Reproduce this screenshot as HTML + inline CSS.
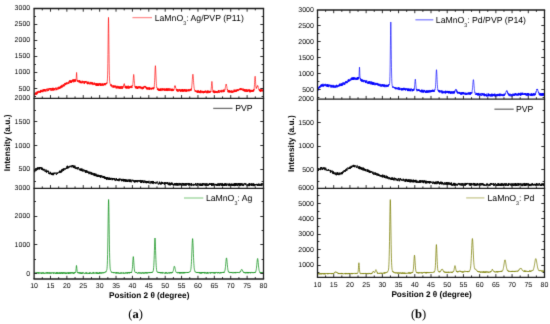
<!DOCTYPE html>
<html><head><meta charset="utf-8"><title>XRD patterns</title>
<style>html,body{margin:0;padding:0;background:#fff;width:550px;height:324px;overflow:hidden}svg{display:block}</style>
</head><body>
<svg width="550" height="324" viewBox="0 0 550 324"><defs><filter id="soft" x="0" y="0" width="1" height="1" color-interpolation-filters="sRGB"><feConvolveMatrix order="3" kernelMatrix="0.0100 0.0800 0.0100 0.0800 0.6400 0.0800 0.0100 0.0800 0.0100" edgeMode="duplicate" preserveAlpha="true"/></filter></defs><rect width="550" height="324" fill="#fff"/><g filter="url(#soft)" text-rendering="geometricPrecision"><rect width="550" height="324" fill="#fff"/><path d="M34.40,94.67 L34.52,94.13 L34.64,95.50 L34.76,93.63 L34.88,94.88 L35.00,94.23 L35.12,93.17 L35.24,94.38 L35.36,92.83 L35.48,93.89 L35.60,92.67 L35.72,92.62 L35.84,93.50 L35.96,94.61 L36.08,92.41 L36.20,92.62 L36.32,93.74 L36.44,94.62 L36.56,93.43 L36.68,92.81 L36.80,94.47 L36.92,91.60 L37.04,93.97 L37.16,92.19 L37.28,91.69 L37.40,91.54 L37.52,92.05 L37.64,93.51 L37.76,91.54 L37.88,92.68 L38.00,92.80 L38.12,91.94 L38.24,92.41 L38.36,90.91 L38.48,90.84 L38.60,91.23 L38.72,92.60 L38.84,91.79 L38.96,91.40 L39.08,92.17 L39.20,91.72 L39.32,91.22 L39.44,92.65 L39.56,92.32 L39.68,90.91 L39.80,91.85 L39.92,91.66 L40.04,92.67 L40.16,92.19 L40.28,90.82 L40.40,92.85 L40.52,90.23 L40.64,91.09 L40.76,92.06 L40.88,90.21 L41.00,91.18 L41.12,89.80 L41.24,91.65 L41.36,91.90 L41.48,91.29 L41.60,92.16 L41.72,90.44 L41.84,91.55 L41.96,91.22 L42.08,91.14 L42.20,90.74 L42.32,91.86 L42.44,92.14 L42.56,90.70 L42.68,91.24 L42.80,89.40 L42.92,91.30 L43.04,91.11 L43.16,92.12 L43.28,91.58 L43.40,89.94 L43.52,90.22 L43.64,91.04 L43.76,89.08 L43.88,90.37 L44.00,89.47 L44.12,89.29 L44.24,89.10 L44.36,91.20 L44.48,89.26 L44.60,89.59 L44.72,90.00 L44.84,91.42 L44.96,89.03 L45.08,90.11 L45.20,90.39 L45.32,91.37 L45.44,91.16 L45.56,91.27 L45.68,89.50 L45.80,89.89 L45.92,89.70 L46.04,91.26 L46.16,91.46 L46.28,89.02 L46.40,89.08 L46.52,89.23 L46.64,89.21 L46.76,89.95 L46.88,90.24 L47.00,89.25 L47.12,88.45 L47.24,89.68 L47.36,89.51 L47.48,90.09 L47.60,91.23 L47.72,90.42 L47.84,89.88 L47.96,90.17 L48.08,90.33 L48.20,88.45 L48.32,90.96 L48.44,90.59 L48.56,90.85 L48.68,90.61 L48.80,89.37 L48.92,89.38 L49.04,88.48 L49.16,90.05 L49.28,88.32 L49.40,88.32 L49.52,88.73 L49.64,88.58 L49.76,89.09 L49.88,88.22 L50.00,88.05 L50.12,88.49 L50.24,88.32 L50.36,89.10 L50.48,88.07 L50.60,90.60 L50.72,89.81 L50.84,88.40 L50.96,88.70 L51.08,88.97 L51.20,89.01 L51.32,88.28 L51.44,90.44 L51.56,90.86 L51.68,89.27 L51.80,89.31 L51.92,88.11 L52.04,88.15 L52.16,88.86 L52.28,88.61 L52.40,90.29 L52.52,88.28 L52.64,87.85 L52.76,90.62 L52.88,89.34 L53.00,88.19 L53.12,89.36 L53.24,87.80 L53.36,89.29 L53.48,90.63 L53.60,90.27 L53.72,89.75 L53.84,88.44 L53.96,88.74 L54.08,88.13 L54.20,89.92 L54.32,89.19 L54.44,89.91 L54.56,88.55 L54.68,88.22 L54.80,89.96 L54.92,90.46 L55.04,90.05 L55.16,89.89 L55.28,89.91 L55.40,89.66 L55.52,88.10 L55.64,88.95 L55.76,88.45 L55.88,87.45 L56.00,87.42 L56.12,88.15 L56.24,88.07 L56.36,89.34 L56.48,90.10 L56.60,88.55 L56.72,89.99 L56.84,90.11 L56.96,89.97 L57.08,88.17 L57.20,87.70 L57.32,87.68 L57.44,87.55 L57.56,87.53 L57.68,88.74 L57.80,89.53 L57.92,89.30 L58.04,88.17 L58.16,88.64 L58.28,89.03 L58.40,86.84 L58.52,88.51 L58.64,89.20 L58.76,88.76 L58.88,88.61 L59.00,87.74 L59.12,86.78 L59.24,88.55 L59.36,87.12 L59.48,88.47 L59.60,88.92 L59.72,87.13 L59.84,87.08 L59.96,88.65 L60.08,87.92 L60.20,86.20 L60.32,86.00 L60.44,86.01 L60.56,88.20 L60.68,87.84 L60.80,85.79 L60.92,87.76 L61.04,88.15 L61.16,87.12 L61.28,86.13 L61.40,86.66 L61.52,85.34 L61.64,84.92 L61.76,87.72 L61.88,86.69 L62.00,86.25 L62.12,87.40 L62.24,85.84 L62.36,87.08 L62.48,86.88 L62.60,84.97 L62.72,85.02 L62.84,85.08 L62.96,84.86 L63.08,85.83 L63.20,84.79 L63.32,85.20 L63.44,84.27 L63.56,86.54 L63.68,84.82 L63.80,85.06 L63.92,85.37 L64.04,86.27 L64.16,84.75 L64.28,86.17 L64.40,84.85 L64.52,84.87 L64.64,84.77 L64.76,83.19 L64.88,84.37 L65.00,83.53 L65.12,82.91 L65.24,85.22 L65.36,83.26 L65.48,84.09 L65.60,84.76 L65.72,84.18 L65.84,83.41 L65.96,83.90 L66.08,83.94 L66.20,84.54 L66.32,82.43 L66.44,83.71 L66.56,82.70 L66.68,82.71 L66.80,84.12 L66.92,83.25 L67.04,83.33 L67.16,83.85 L67.28,84.23 L67.40,82.76 L67.52,83.19 L67.64,82.80 L67.76,82.75 L67.88,83.23 L68.00,82.44 L68.12,82.62 L68.24,82.39 L68.36,83.72 L68.48,82.93 L68.60,83.40 L68.72,83.55 L68.84,81.45 L68.96,82.30 L69.08,83.40 L69.20,83.04 L69.32,80.90 L69.44,80.81 L69.56,81.73 L69.68,80.59 L69.80,81.06 L69.92,80.52 L70.04,82.26 L70.16,82.57 L70.28,82.87 L70.40,80.62 L70.52,82.26 L70.64,82.06 L70.76,80.48 L70.88,82.65 L71.00,82.87 L71.12,80.60 L71.24,82.75 L71.36,81.07 L71.48,81.30 L71.60,82.76 L71.72,82.26 L71.84,80.23 L71.96,81.00 L72.08,81.22 L72.20,80.67 L72.32,80.21 L72.44,80.55 L72.56,81.72 L72.68,79.60 L72.80,81.16 L72.92,80.80 L73.04,79.52 L73.16,80.43 L73.28,81.27 L73.40,80.91 L73.52,79.57 L73.64,82.26 L73.76,81.66 L73.88,82.18 L74.00,79.61 L74.12,80.06 L74.24,79.38 L74.36,81.53 L74.48,80.03 L74.60,79.60 L74.72,80.44 L74.84,81.84 L74.96,81.55 L75.08,79.92 L75.20,79.60 L75.32,81.74 L75.44,80.73 L75.56,81.05 L75.68,79.36 L75.80,79.24 L75.92,80.61 L76.04,79.55 L76.16,78.08 L76.28,77.50 L76.40,75.01 L76.52,73.29 L76.60,72.45 L76.64,73.03 L76.76,74.03 L76.88,76.90 L77.00,78.46 L77.12,79.52 L77.24,80.62 L77.36,81.91 L77.48,80.41 L77.60,80.13 L77.72,81.30 L77.84,80.56 L77.96,80.26 L78.08,80.45 L78.20,80.17 L78.32,80.64 L78.44,80.99 L78.56,81.00 L78.68,82.35 L78.80,81.01 L78.92,81.65 L79.04,80.73 L79.16,81.25 L79.28,80.30 L79.40,81.01 L79.52,80.34 L79.64,82.48 L79.76,81.96 L79.88,80.91 L80.00,81.77 L80.12,83.15 L80.24,80.72 L80.36,82.85 L80.48,81.72 L80.60,81.92 L80.72,82.95 L80.84,81.65 L80.96,82.01 L81.08,82.56 L81.20,83.45 L81.32,81.56 L81.44,83.04 L81.56,82.68 L81.68,82.48 L81.80,81.81 L81.92,81.65 L82.04,80.79 L82.16,81.03 L82.28,80.87 L82.40,82.88 L82.52,81.45 L82.64,81.19 L82.76,80.96 L82.88,83.23 L83.00,83.33 L83.12,82.75 L83.24,81.61 L83.36,81.50 L83.48,81.67 L83.60,82.18 L83.72,81.29 L83.84,82.16 L83.96,81.63 L84.08,83.73 L84.20,83.77 L84.32,82.52 L84.44,81.63 L84.56,83.80 L84.68,81.86 L84.80,82.01 L84.92,80.97 L85.04,82.12 L85.16,82.41 L85.28,82.51 L85.40,81.62 L85.52,82.55 L85.64,81.07 L85.76,81.86 L85.88,81.36 L86.00,82.30 L86.12,81.25 L86.24,81.21 L86.36,82.07 L86.48,81.87 L86.60,82.94 L86.72,82.79 L86.84,83.47 L86.96,83.21 L87.08,83.40 L87.20,83.91 L87.32,82.47 L87.44,82.29 L87.56,84.27 L87.68,81.80 L87.80,83.53 L87.92,83.31 L88.04,81.54 L88.16,83.92 L88.28,84.11 L88.40,83.34 L88.52,83.67 L88.64,83.92 L88.76,81.94 L88.88,83.10 L89.00,83.06 L89.12,84.06 L89.24,83.99 L89.36,84.08 L89.48,83.37 L89.60,84.31 L89.72,83.71 L89.84,83.76 L89.96,82.40 L90.08,81.83 L90.20,82.15 L90.32,82.84 L90.44,82.10 L90.56,84.30 L90.68,83.49 L90.80,83.72 L90.92,83.73 L91.04,83.91 L91.16,83.37 L91.28,81.94 L91.40,84.32 L91.52,84.20 L91.64,83.49 L91.76,83.60 L91.88,83.99 L92.00,82.25 L92.12,84.26 L92.24,82.85 L92.36,82.34 L92.48,82.93 L92.60,84.33 L92.72,82.79 L92.84,84.40 L92.96,85.12 L93.08,83.72 L93.20,83.41 L93.32,83.72 L93.44,84.35 L93.56,84.62 L93.68,84.20 L93.80,84.31 L93.92,82.66 L94.04,82.90 L94.16,83.25 L94.28,84.73 L94.40,83.47 L94.52,84.28 L94.64,82.67 L94.76,82.85 L94.88,83.50 L95.00,84.72 L95.12,84.81 L95.24,84.80 L95.36,83.69 L95.48,84.39 L95.60,84.27 L95.72,84.30 L95.84,83.30 L95.96,85.61 L96.08,83.59 L96.20,85.90 L96.32,85.79 L96.44,83.11 L96.56,84.42 L96.68,85.49 L96.80,85.93 L96.92,84.41 L97.04,83.88 L97.16,83.70 L97.28,85.86 L97.40,83.71 L97.52,84.79 L97.64,83.50 L97.76,84.62 L97.88,85.88 L98.00,83.47 L98.12,85.49 L98.24,84.57 L98.36,85.68 L98.48,85.14 L98.60,83.76 L98.72,85.70 L98.84,84.50 L98.96,83.16 L99.08,83.09 L99.20,84.51 L99.32,84.39 L99.44,83.96 L99.56,83.49 L99.68,84.08 L99.80,84.00 L99.92,85.51 L100.04,83.08 L100.16,85.25 L100.28,85.50 L100.40,83.42 L100.52,85.74 L100.64,85.13 L100.76,85.67 L100.88,83.91 L101.00,84.14 L101.12,84.20 L101.24,85.93 L101.36,84.75 L101.48,84.10 L101.60,84.29 L101.72,83.85 L101.84,83.20 L101.96,83.35 L102.08,85.42 L102.20,83.87 L102.32,85.69 L102.44,83.76 L102.56,83.80 L102.68,84.48 L102.80,83.58 L102.92,84.08 L103.04,85.69 L103.16,85.48 L103.28,85.27 L103.40,84.76 L103.52,85.52 L103.64,85.57 L103.76,84.50 L103.88,84.95 L104.00,83.15 L104.12,84.95 L104.24,84.19 L104.36,84.96 L104.48,84.66 L104.60,83.72 L104.72,83.10 L104.84,85.30 L104.96,83.27 L105.08,84.10 L105.20,83.76 L105.32,83.62 L105.44,84.64 L105.56,85.14 L105.68,83.44 L105.80,84.30 L105.92,83.46 L106.04,83.96 L106.16,83.55 L106.28,83.03 L106.40,82.95 L106.52,82.95 L106.64,84.08 L106.76,83.19 L106.88,82.54 L107.00,83.27 L107.12,82.88 L107.24,81.45 L107.36,79.99 L107.48,78.11 L107.60,74.92 L107.72,70.21 L107.84,63.30 L107.96,54.46 L108.08,44.01 L108.20,33.18 L108.32,23.79 L108.44,18.16 L108.50,17.39 L108.56,18.17 L108.68,23.87 L108.80,33.35 L108.92,44.29 L109.04,54.77 L109.16,63.77 L109.28,70.93 L109.40,75.50 L109.52,78.97 L109.64,81.14 L109.76,82.70 L109.88,82.71 L110.00,83.27 L110.12,83.57 L110.24,84.08 L110.36,84.38 L110.48,85.52 L110.60,85.52 L110.72,85.75 L110.84,84.14 L110.96,84.25 L111.08,85.82 L111.20,86.35 L111.32,85.50 L111.44,85.85 L111.56,84.54 L111.68,85.54 L111.80,86.91 L111.92,86.74 L112.04,86.88 L112.16,87.24 L112.28,85.47 L112.40,85.15 L112.52,85.31 L112.64,86.31 L112.76,86.77 L112.88,87.50 L113.00,86.96 L113.12,86.80 L113.24,87.15 L113.36,86.36 L113.48,86.64 L113.60,85.27 L113.72,87.33 L113.84,85.85 L113.96,87.77 L114.08,87.04 L114.20,86.12 L114.32,85.65 L114.44,86.02 L114.56,87.12 L114.68,87.32 L114.80,85.70 L114.92,85.60 L115.04,86.90 L115.16,87.09 L115.28,86.56 L115.40,86.11 L115.52,87.21 L115.64,85.55 L115.76,86.40 L115.88,86.87 L116.00,88.32 L116.12,87.44 L116.24,88.14 L116.36,86.99 L116.48,86.32 L116.60,86.38 L116.72,88.45 L116.84,87.73 L116.96,86.60 L117.08,85.79 L117.20,87.19 L117.32,87.71 L117.44,86.99 L117.56,86.54 L117.68,87.74 L117.80,88.50 L117.92,86.49 L118.04,85.94 L118.16,86.84 L118.28,87.09 L118.40,87.86 L118.52,86.47 L118.64,88.22 L118.76,88.06 L118.88,87.39 L119.00,86.53 L119.12,88.76 L119.24,86.85 L119.36,88.34 L119.48,86.63 L119.60,86.61 L119.72,88.18 L119.84,86.83 L119.96,88.75 L120.08,87.42 L120.20,86.53 L120.32,86.63 L120.44,87.20 L120.56,87.92 L120.68,88.75 L120.80,86.41 L120.92,87.13 L121.04,86.60 L121.16,88.81 L121.28,86.39 L121.40,86.13 L121.52,86.15 L121.64,87.11 L121.76,88.57 L121.88,88.52 L122.00,88.08 L122.12,88.84 L122.24,88.64 L122.36,86.90 L122.48,86.48 L122.60,88.61 L122.72,88.06 L122.84,86.02 L122.96,87.78 L123.08,86.96 L123.20,86.91 L123.32,86.74 L123.44,86.23 L123.56,85.70 L123.68,86.07 L123.80,85.77 L123.92,86.09 L124.04,84.25 L124.16,84.68 L124.28,83.55 L124.30,83.71 L124.40,84.36 L124.52,84.90 L124.64,85.06 L124.76,85.05 L124.88,86.28 L125.00,86.42 L125.12,87.98 L125.24,86.28 L125.36,86.78 L125.48,88.29 L125.60,85.90 L125.72,86.97 L125.84,88.11 L125.96,87.99 L126.08,85.92 L126.20,85.90 L126.32,85.98 L126.44,88.45 L126.56,86.53 L126.68,87.95 L126.80,88.38 L126.92,86.76 L127.04,86.56 L127.16,88.54 L127.28,87.55 L127.40,86.52 L127.52,87.84 L127.64,86.67 L127.76,86.55 L127.88,85.76 L128.00,87.93 L128.12,88.39 L128.24,87.57 L128.36,88.46 L128.48,85.79 L128.60,86.39 L128.72,87.09 L128.84,88.47 L128.96,88.46 L129.08,86.82 L129.20,86.42 L129.32,86.93 L129.44,87.11 L129.56,88.35 L129.68,86.21 L129.80,87.97 L129.92,87.78 L130.04,88.01 L130.16,87.86 L130.28,87.38 L130.40,86.59 L130.52,86.56 L130.64,86.67 L130.76,87.83 L130.88,85.87 L131.00,86.19 L131.12,87.70 L131.24,86.30 L131.36,85.80 L131.48,85.71 L131.60,87.07 L131.72,86.45 L131.84,88.10 L131.96,87.78 L132.08,87.95 L132.20,86.12 L132.32,85.60 L132.44,85.48 L132.56,85.96 L132.68,85.77 L132.80,84.60 L132.92,83.33 L133.04,82.17 L133.16,80.68 L133.28,78.89 L133.40,77.13 L133.52,75.69 L133.64,74.75 L133.70,74.42 L133.76,74.83 L133.88,75.47 L134.00,77.08 L134.12,78.77 L134.24,80.83 L134.36,82.06 L134.48,83.43 L134.60,84.44 L134.72,85.01 L134.84,86.80 L134.96,86.61 L135.08,86.29 L135.20,86.59 L135.32,88.14 L135.44,87.02 L135.56,86.37 L135.68,87.91 L135.80,87.55 L135.92,88.49 L136.04,86.14 L136.16,87.17 L136.28,88.13 L136.40,88.22 L136.52,88.45 L136.64,86.05 L136.76,86.76 L136.88,86.29 L137.00,86.50 L137.12,88.72 L137.24,87.64 L137.36,88.64 L137.48,87.07 L137.60,88.49 L137.72,87.31 L137.84,86.78 L137.96,88.28 L138.08,88.78 L138.20,86.38 L138.32,87.80 L138.44,87.88 L138.56,86.74 L138.68,87.18 L138.80,86.54 L138.92,86.73 L139.04,86.89 L139.16,87.90 L139.28,88.06 L139.40,86.78 L139.52,86.24 L139.64,87.16 L139.76,88.19 L139.88,86.78 L140.00,87.16 L140.12,86.85 L140.24,88.58 L140.36,87.88 L140.48,86.49 L140.60,86.61 L140.72,87.47 L140.84,87.93 L140.96,88.20 L141.08,86.63 L141.20,86.85 L141.32,88.40 L141.44,87.59 L141.56,87.24 L141.68,87.32 L141.80,89.18 L141.92,87.35 L142.04,88.09 L142.16,87.50 L142.28,87.67 L142.40,88.93 L142.52,89.29 L142.64,87.53 L142.76,87.07 L142.88,88.49 L143.00,87.07 L143.12,86.54 L143.24,88.79 L143.36,87.53 L143.48,88.41 L143.60,87.36 L143.72,88.32 L143.84,87.29 L143.96,86.58 L144.08,86.20 L144.20,87.09 L144.32,87.12 L144.44,87.44 L144.56,85.97 L144.68,86.74 L144.80,86.28 L144.92,86.46 L145.00,85.91 L145.04,86.13 L145.16,86.54 L145.28,87.26 L145.40,86.07 L145.52,86.82 L145.64,87.51 L145.76,87.98 L145.88,86.72 L146.00,86.71 L146.12,88.51 L146.24,88.76 L146.36,87.82 L146.48,86.93 L146.60,89.10 L146.72,87.88 L146.84,89.27 L146.96,88.61 L147.08,89.21 L147.20,87.48 L147.32,89.22 L147.44,87.70 L147.56,88.23 L147.68,89.49 L147.80,89.46 L147.92,87.67 L148.04,87.78 L148.16,88.31 L148.28,88.66 L148.40,88.29 L148.52,87.57 L148.64,87.93 L148.76,89.30 L148.88,89.80 L149.00,87.39 L149.12,88.88 L149.24,89.44 L149.36,87.42 L149.48,89.70 L149.60,87.67 L149.72,89.04 L149.84,88.92 L149.96,89.14 L150.08,88.25 L150.20,88.58 L150.32,89.05 L150.44,88.62 L150.56,89.28 L150.68,88.70 L150.80,88.69 L150.92,87.55 L151.04,89.20 L151.16,88.85 L151.28,88.16 L151.40,89.61 L151.52,89.66 L151.64,88.79 L151.76,88.04 L151.88,88.83 L152.00,87.86 L152.12,87.92 L152.24,88.72 L152.36,87.84 L152.48,88.74 L152.60,88.90 L152.72,87.71 L152.84,89.18 L152.96,87.80 L153.08,89.34 L153.20,89.40 L153.32,88.72 L153.44,87.64 L153.56,88.55 L153.68,88.16 L153.80,89.07 L153.92,87.29 L154.04,88.02 L154.16,87.45 L154.28,86.09 L154.40,84.78 L154.52,82.52 L154.64,80.75 L154.76,77.83 L154.88,75.04 L155.00,71.97 L155.12,68.97 L155.24,67.00 L155.36,65.96 L155.40,65.68 L155.48,66.05 L155.60,67.64 L155.72,69.90 L155.84,73.06 L155.96,75.91 L156.08,79.04 L156.20,81.23 L156.32,83.56 L156.44,85.59 L156.56,86.10 L156.68,86.98 L156.80,87.93 L156.92,88.01 L157.04,87.71 L157.16,88.14 L157.28,88.21 L157.40,90.02 L157.52,89.54 L157.64,90.13 L157.76,88.45 L157.88,90.00 L158.00,88.38 L158.12,89.46 L158.24,89.76 L158.36,89.08 L158.48,90.44 L158.60,89.64 L158.72,89.73 L158.84,90.56 L158.96,88.49 L159.08,90.91 L159.20,89.94 L159.32,89.31 L159.44,90.43 L159.56,88.98 L159.68,90.99 L159.80,89.86 L159.92,89.26 L160.04,90.40 L160.16,89.50 L160.28,88.76 L160.40,90.36 L160.52,88.40 L160.64,90.59 L160.76,88.99 L160.88,90.09 L161.00,91.08 L161.12,89.95 L161.24,90.17 L161.36,89.17 L161.48,88.28 L161.60,88.37 L161.72,88.71 L161.84,90.05 L161.96,89.53 L162.08,89.76 L162.20,90.87 L162.32,88.66 L162.44,88.94 L162.56,90.17 L162.68,88.35 L162.80,88.29 L162.92,89.31 L163.04,88.59 L163.16,89.32 L163.28,88.94 L163.40,89.98 L163.52,90.00 L163.64,88.88 L163.76,90.11 L163.88,89.67 L164.00,88.68 L164.12,91.02 L164.24,89.00 L164.36,88.72 L164.48,88.57 L164.60,90.15 L164.72,90.84 L164.84,90.58 L164.96,89.46 L165.08,89.06 L165.20,88.32 L165.32,90.18 L165.44,89.94 L165.56,89.32 L165.68,90.18 L165.80,89.59 L165.92,91.04 L166.04,90.44 L166.16,89.02 L166.28,90.94 L166.40,88.42 L166.52,89.85 L166.64,89.48 L166.76,88.99 L166.88,88.46 L167.00,90.58 L167.12,88.33 L167.24,89.91 L167.36,91.05 L167.48,88.71 L167.60,88.87 L167.72,90.08 L167.84,89.78 L167.96,90.17 L168.08,90.68 L168.20,88.80 L168.32,89.20 L168.44,89.17 L168.56,88.43 L168.68,90.90 L168.80,90.59 L168.92,90.39 L169.04,88.31 L169.16,90.76 L169.28,90.47 L169.40,89.65 L169.52,90.46 L169.64,89.61 L169.76,88.95 L169.88,88.59 L170.00,88.96 L170.12,88.40 L170.24,89.26 L170.36,90.47 L170.48,90.31 L170.60,90.75 L170.72,90.36 L170.84,89.07 L170.96,89.91 L171.08,89.57 L171.20,90.60 L171.32,89.84 L171.44,89.10 L171.56,90.19 L171.68,91.12 L171.80,88.98 L171.92,90.89 L172.04,88.42 L172.16,89.13 L172.28,89.07 L172.40,90.51 L172.52,91.08 L172.64,90.52 L172.76,89.35 L172.88,90.87 L173.00,89.35 L173.12,89.10 L173.24,90.82 L173.36,90.03 L173.48,90.08 L173.60,89.88 L173.72,90.37 L173.84,89.06 L173.96,89.48 L174.08,88.87 L174.20,88.71 L174.32,87.68 L174.44,87.62 L174.56,87.01 L174.68,86.35 L174.80,85.98 L174.92,86.22 L175.00,85.67 L175.04,86.49 L175.16,85.89 L175.28,86.03 L175.40,86.47 L175.52,87.85 L175.64,87.59 L175.76,87.72 L175.88,87.89 L176.00,88.20 L176.12,89.69 L176.24,89.86 L176.36,90.22 L176.48,90.50 L176.60,88.98 L176.72,90.38 L176.84,89.85 L176.96,91.12 L177.08,91.17 L177.20,91.41 L177.32,89.13 L177.44,91.39 L177.56,91.54 L177.68,91.64 L177.80,89.27 L177.92,89.56 L178.04,89.29 L178.16,89.07 L178.28,91.41 L178.40,91.31 L178.52,90.81 L178.64,91.36 L178.76,90.81 L178.88,89.81 L179.00,89.27 L179.12,89.27 L179.24,91.18 L179.36,89.58 L179.48,89.91 L179.60,90.22 L179.72,89.04 L179.84,89.73 L179.96,89.81 L180.08,91.07 L180.20,90.06 L180.32,89.92 L180.44,91.80 L180.56,90.46 L180.68,91.48 L180.80,90.80 L180.92,89.08 L181.04,90.20 L181.16,90.26 L181.28,91.25 L181.40,90.00 L181.52,91.05 L181.64,90.56 L181.76,89.62 L181.88,91.51 L182.00,89.25 L182.12,91.39 L182.24,89.49 L182.36,88.99 L182.48,89.58 L182.60,91.22 L182.72,91.85 L182.84,89.00 L182.96,90.42 L183.08,90.42 L183.20,91.32 L183.32,89.53 L183.44,90.43 L183.56,90.00 L183.68,91.42 L183.80,89.75 L183.92,91.74 L184.04,89.81 L184.16,89.61 L184.28,91.03 L184.40,90.44 L184.52,89.30 L184.64,90.84 L184.76,89.22 L184.88,91.28 L185.00,91.01 L185.12,91.27 L185.24,90.81 L185.36,90.01 L185.48,90.15 L185.60,90.12 L185.72,91.56 L185.84,89.23 L185.96,91.55 L186.08,89.05 L186.20,89.57 L186.32,89.74 L186.44,91.57 L186.56,90.42 L186.68,90.06 L186.80,91.51 L186.92,89.64 L187.04,90.29 L187.16,90.49 L187.28,91.12 L187.40,91.11 L187.52,90.80 L187.64,89.95 L187.76,89.89 L187.88,89.40 L188.00,91.33 L188.12,90.82 L188.24,91.03 L188.36,89.43 L188.48,90.17 L188.60,91.09 L188.72,90.54 L188.84,89.29 L188.96,90.20 L189.08,91.34 L189.20,89.57 L189.32,89.44 L189.44,89.72 L189.56,90.77 L189.68,91.12 L189.80,89.30 L189.92,89.30 L190.04,89.52 L190.16,89.71 L190.28,90.17 L190.40,89.26 L190.52,89.64 L190.64,89.28 L190.76,91.02 L190.88,90.35 L191.00,88.90 L191.12,90.44 L191.24,88.57 L191.36,88.73 L191.48,89.10 L191.60,88.12 L191.72,87.15 L191.84,85.79 L191.96,84.34 L192.08,83.17 L192.20,81.23 L192.32,79.57 L192.44,77.94 L192.56,76.25 L192.68,75.13 L192.80,74.48 L192.90,74.25 L192.92,74.20 L193.04,74.69 L193.16,75.64 L193.28,76.95 L193.40,78.82 L193.52,80.52 L193.64,82.47 L193.76,84.25 L193.88,85.40 L194.00,86.78 L194.12,88.03 L194.24,88.49 L194.36,88.84 L194.48,90.10 L194.60,90.80 L194.72,90.92 L194.84,91.00 L194.96,91.51 L195.08,91.26 L195.20,91.28 L195.32,90.91 L195.44,90.63 L195.56,91.47 L195.68,90.18 L195.80,91.04 L195.92,92.02 L196.04,91.88 L196.16,91.70 L196.28,90.73 L196.40,91.21 L196.52,91.32 L196.64,91.80 L196.76,91.24 L196.88,91.99 L197.00,92.71 L197.12,90.66 L197.24,91.98 L197.36,92.34 L197.48,91.27 L197.60,91.56 L197.72,92.94 L197.84,90.32 L197.96,91.75 L198.08,90.68 L198.20,92.45 L198.32,92.91 L198.44,91.72 L198.56,90.54 L198.68,91.90 L198.80,91.81 L198.92,92.33 L199.04,91.75 L199.16,92.12 L199.28,92.67 L199.40,91.80 L199.52,91.48 L199.64,93.04 L199.76,90.92 L199.88,92.30 L200.00,91.46 L200.12,92.54 L200.24,90.69 L200.36,93.20 L200.48,91.38 L200.60,90.51 L200.72,91.15 L200.84,91.52 L200.96,90.40 L201.08,91.59 L201.20,91.60 L201.32,92.41 L201.44,91.41 L201.56,91.16 L201.68,91.04 L201.80,92.56 L201.92,93.15 L202.04,91.94 L202.16,91.05 L202.28,92.75 L202.40,91.56 L202.52,91.04 L202.64,90.80 L202.76,92.70 L202.88,92.80 L203.00,92.29 L203.12,91.81 L203.24,92.08 L203.36,91.10 L203.48,93.27 L203.60,91.48 L203.72,92.32 L203.84,92.85 L203.96,92.85 L204.08,91.83 L204.20,91.32 L204.32,92.07 L204.44,90.83 L204.56,92.91 L204.68,91.51 L204.80,92.96 L204.92,91.25 L205.04,91.58 L205.16,91.22 L205.28,91.72 L205.40,91.02 L205.52,90.49 L205.64,92.60 L205.76,91.30 L205.88,91.20 L206.00,91.37 L206.12,91.89 L206.24,91.74 L206.36,92.35 L206.48,92.41 L206.60,91.54 L206.72,93.20 L206.84,92.98 L206.96,90.65 L207.08,92.90 L207.20,93.13 L207.32,92.77 L207.44,90.89 L207.56,92.90 L207.68,92.32 L207.80,90.53 L207.92,90.51 L208.04,93.24 L208.16,92.38 L208.28,91.20 L208.40,90.77 L208.52,90.89 L208.64,91.14 L208.76,92.70 L208.88,91.46 L209.00,90.90 L209.12,93.03 L209.24,92.70 L209.36,90.93 L209.48,92.95 L209.60,92.15 L209.72,92.61 L209.84,92.27 L209.96,92.86 L210.08,92.54 L210.20,92.64 L210.32,90.91 L210.44,92.14 L210.56,91.65 L210.68,92.02 L210.80,91.11 L210.92,91.64 L211.04,90.44 L211.16,89.21 L211.28,88.10 L211.40,86.61 L211.52,85.23 L211.64,83.30 L211.76,82.20 L211.88,81.42 L211.90,81.58 L212.00,81.91 L212.12,83.07 L212.24,84.89 L212.36,85.98 L212.48,88.26 L212.60,89.14 L212.72,90.21 L212.84,91.05 L212.96,91.86 L213.08,91.10 L213.20,91.34 L213.32,92.79 L213.44,90.58 L213.56,92.09 L213.68,92.12 L213.80,90.51 L213.92,92.10 L214.04,92.33 L214.16,93.04 L214.28,91.38 L214.40,93.21 L214.52,91.90 L214.64,91.84 L214.76,93.01 L214.88,90.56 L215.00,92.51 L215.12,92.25 L215.24,91.43 L215.36,92.93 L215.48,91.50 L215.60,91.81 L215.72,91.95 L215.84,92.65 L215.96,91.03 L216.08,91.67 L216.20,91.62 L216.32,92.00 L216.44,92.78 L216.56,91.22 L216.68,92.76 L216.80,91.52 L216.92,91.80 L217.04,91.11 L217.16,91.78 L217.28,93.14 L217.40,92.19 L217.52,92.57 L217.64,91.21 L217.76,91.16 L217.88,91.09 L218.00,91.91 L218.12,92.04 L218.24,92.46 L218.36,90.27 L218.48,92.25 L218.60,92.71 L218.72,91.70 L218.84,90.23 L218.96,90.95 L219.08,90.07 L219.20,90.59 L219.32,92.71 L219.44,91.78 L219.56,91.91 L219.68,92.28 L219.80,92.61 L219.92,91.73 L220.04,91.72 L220.16,91.74 L220.28,91.92 L220.40,91.62 L220.52,91.85 L220.64,90.47 L220.76,91.77 L220.88,91.15 L221.00,92.02 L221.12,90.09 L221.24,90.31 L221.36,89.88 L221.48,92.00 L221.60,92.38 L221.72,91.63 L221.84,90.79 L221.96,92.08 L222.08,91.96 L222.20,91.31 L222.32,90.43 L222.44,90.54 L222.56,90.87 L222.68,90.57 L222.80,90.88 L222.92,91.46 L223.04,92.26 L223.16,89.80 L223.28,91.21 L223.40,89.75 L223.52,89.96 L223.64,91.82 L223.76,91.16 L223.88,92.04 L224.00,90.76 L224.12,89.62 L224.24,90.51 L224.36,90.92 L224.48,91.56 L224.60,91.43 L224.72,90.15 L224.84,89.77 L224.96,88.93 L225.08,89.36 L225.20,88.29 L225.32,87.70 L225.44,86.99 L225.56,86.39 L225.68,86.36 L225.80,85.32 L225.92,85.45 L226.04,84.47 L226.16,84.84 L226.20,84.33 L226.28,84.31 L226.40,85.06 L226.52,85.15 L226.64,86.09 L226.76,86.29 L226.88,86.80 L227.00,88.19 L227.12,88.77 L227.24,89.56 L227.36,89.93 L227.48,89.31 L227.60,90.59 L227.72,91.05 L227.84,90.76 L227.96,92.00 L228.08,90.56 L228.20,92.39 L228.32,91.87 L228.44,90.10 L228.56,90.13 L228.68,91.85 L228.80,92.33 L228.92,90.35 L229.04,90.99 L229.16,92.16 L229.28,90.61 L229.40,92.55 L229.52,91.52 L229.64,90.32 L229.76,91.19 L229.88,91.78 L230.00,91.39 L230.12,92.07 L230.24,90.55 L230.36,92.41 L230.48,91.16 L230.60,91.96 L230.72,91.91 L230.84,91.30 L230.96,91.20 L231.08,92.34 L231.20,92.79 L231.32,92.32 L231.44,91.68 L231.56,90.87 L231.68,90.19 L231.80,92.82 L231.92,92.02 L232.04,92.36 L232.16,90.91 L232.28,91.69 L232.40,92.75 L232.52,92.31 L232.64,91.62 L232.76,90.75 L232.88,91.08 L233.00,92.40 L233.12,90.89 L233.24,91.77 L233.36,91.51 L233.48,92.35 L233.60,92.07 L233.72,90.52 L233.84,89.68 L233.96,90.42 L234.08,90.86 L234.20,91.31 L234.32,91.96 L234.44,92.14 L234.56,89.66 L234.68,91.94 L234.80,91.85 L234.92,91.99 L235.04,91.11 L235.16,90.22 L235.28,91.87 L235.40,91.72 L235.52,91.33 L235.64,91.97 L235.76,90.31 L235.88,89.53 L236.00,90.85 L236.12,91.53 L236.24,89.79 L236.36,91.33 L236.48,91.82 L236.60,89.81 L236.72,90.84 L236.84,91.01 L236.96,90.38 L237.08,89.62 L237.20,89.73 L237.32,91.07 L237.44,91.14 L237.56,90.19 L237.68,89.15 L237.80,91.04 L237.92,90.90 L238.04,89.44 L238.16,90.30 L238.28,91.06 L238.40,90.97 L238.52,90.01 L238.64,89.85 L238.76,90.07 L238.88,89.06 L239.00,89.03 L239.12,88.95 L239.24,90.09 L239.36,89.27 L239.48,89.66 L239.60,89.26 L239.72,89.45 L239.84,88.63 L239.96,88.38 L240.08,90.28 L240.20,88.97 L240.32,88.41 L240.44,89.41 L240.56,89.68 L240.68,88.44 L240.80,89.28 L240.92,88.78 L241.00,89.12 L241.04,88.16 L241.16,88.19 L241.28,90.04 L241.40,89.83 L241.52,89.11 L241.64,89.30 L241.76,88.73 L241.88,89.81 L242.00,89.13 L242.12,90.26 L242.24,89.94 L242.36,90.11 L242.48,90.49 L242.60,88.99 L242.72,88.55 L242.84,88.95 L242.96,88.94 L243.08,88.75 L243.20,88.71 L243.32,89.97 L243.44,90.79 L243.56,89.82 L243.68,91.10 L243.80,91.06 L243.92,88.91 L244.04,90.34 L244.16,89.84 L244.28,89.13 L244.40,91.43 L244.52,89.55 L244.64,90.42 L244.76,90.66 L244.88,91.57 L245.00,90.79 L245.12,90.04 L245.24,90.22 L245.36,89.42 L245.48,91.73 L245.60,91.83 L245.72,89.65 L245.84,89.15 L245.96,89.79 L246.08,90.08 L246.20,91.68 L246.32,91.71 L246.44,91.53 L246.56,89.27 L246.68,91.42 L246.80,91.21 L246.92,91.05 L247.04,92.04 L247.16,89.37 L247.28,89.64 L247.40,91.42 L247.52,91.97 L247.64,91.23 L247.76,90.15 L247.88,91.01 L248.00,91.50 L248.12,89.63 L248.24,90.28 L248.36,90.10 L248.48,89.73 L248.60,90.77 L248.72,89.88 L248.84,90.10 L248.96,89.83 L249.08,91.39 L249.20,89.48 L249.32,91.52 L249.44,90.03 L249.56,89.59 L249.68,92.16 L249.80,90.14 L249.92,92.19 L250.04,92.01 L250.16,92.07 L250.28,89.94 L250.40,90.83 L250.52,89.84 L250.64,92.21 L250.76,91.96 L250.88,91.36 L251.00,90.87 L251.12,90.55 L251.24,91.91 L251.36,90.94 L251.48,91.36 L251.60,90.01 L251.72,90.23 L251.84,89.78 L251.96,91.57 L252.08,91.12 L252.20,90.01 L252.32,91.95 L252.44,90.32 L252.56,90.69 L252.68,90.00 L252.80,90.29 L252.92,91.72 L253.04,90.40 L253.16,89.95 L253.28,90.70 L253.40,90.23 L253.52,91.49 L253.64,89.60 L253.76,91.21 L253.88,89.11 L254.00,90.08 L254.12,88.97 L254.24,87.40 L254.36,86.33 L254.48,84.47 L254.60,82.47 L254.72,80.32 L254.84,78.38 L254.96,77.08 L255.08,76.35 L255.10,76.31 L255.20,76.34 L255.32,77.63 L255.44,79.70 L255.56,81.33 L255.68,83.66 L255.80,85.06 L255.92,86.97 L256.04,86.94 L256.16,88.39 L256.28,88.09 L256.40,87.87 L256.52,87.59 L256.64,88.36 L256.76,87.69 L256.88,86.99 L257.00,86.90 L257.12,87.00 L257.24,86.06 L257.36,86.14 L257.48,85.62 L257.60,85.61 L257.60,86.11 L257.72,86.13 L257.84,85.85 L257.96,86.00 L258.08,86.31 L258.20,87.20 L258.32,87.48 L258.44,87.62 L258.56,87.90 L258.68,88.81 L258.80,89.30 L258.92,89.80 L259.04,89.69 L259.16,89.18 L259.28,89.04 L259.40,90.60 L259.52,90.00 L259.64,90.82 L259.76,89.27 L259.88,91.20 L260.00,90.03 L260.12,91.38 L260.24,91.47 L260.36,90.50 L260.48,89.21 L260.60,91.65 L260.72,90.47 L260.84,91.56 L260.96,89.89 L261.08,89.66 L261.20,91.46 L261.32,90.16 L261.44,89.58 L261.56,90.16 L261.68,90.79 L261.80,89.11 L261.92,90.57 L262.04,90.35 L262.16,90.54 L262.28,89.41 L262.40,91.11 L262.52,91.39 L262.64,91.53 L262.76,89.96 L262.88,91.08 L263.00,90.12 L263.12,91.18" fill="none" stroke="#ff0000" stroke-width="0.65" stroke-linejoin="round"/>
<path d="M34.40,169.78 L34.60,172.12 L34.80,172.16 L35.00,170.57 L35.20,170.40 L35.40,170.24 L35.60,170.06 L35.80,168.33 L36.00,171.02 L36.20,168.67 L36.40,168.45 L36.60,168.12 L36.80,168.48 L37.00,170.09 L37.20,167.64 L37.40,167.76 L37.60,169.49 L37.80,167.91 L38.00,167.31 L38.20,168.99 L38.40,168.87 L38.60,168.65 L38.80,169.14 L39.00,167.30 L39.20,169.57 L39.40,169.09 L39.60,167.05 L39.80,167.27 L40.00,168.38 L40.20,168.41 L40.40,167.75 L40.60,167.30 L40.80,168.18 L41.00,167.40 L41.20,168.80 L41.40,169.65 L41.60,167.55 L41.80,168.88 L42.00,169.45 L42.20,167.76 L42.40,169.80 L42.60,170.19 L42.80,168.60 L43.00,168.76 L43.20,170.10 L43.40,169.25 L43.60,168.96 L43.80,170.71 L44.00,170.34 L44.20,169.15 L44.40,168.99 L44.60,169.42 L44.80,169.86 L45.00,171.65 L45.20,171.26 L45.40,171.73 L45.60,171.59 L45.80,171.83 L46.00,169.59 L46.20,171.12 L46.40,172.57 L46.60,172.63 L46.80,170.69 L47.00,171.32 L47.20,172.05 L47.40,171.34 L47.60,171.95 L47.80,170.67 L48.00,171.87 L48.20,172.19 L48.40,170.85 L48.60,171.32 L48.80,173.92 L49.00,173.45 L49.20,174.04 L49.40,173.23 L49.60,173.86 L49.80,174.19 L50.00,174.28 L50.20,171.82 L50.40,173.73 L50.60,172.69 L50.80,174.00 L51.00,172.85 L51.20,173.72 L51.40,174.92 L51.60,174.06 L51.80,172.99 L52.00,173.83 L52.20,173.59 L52.40,175.15 L52.60,173.16 L52.80,173.22 L53.00,174.24 L53.20,172.66 L53.40,174.08 L53.60,175.17 L53.80,173.84 L54.00,173.11 L54.20,173.70 L54.40,173.90 L54.60,172.75 L54.80,172.67 L55.00,172.69 L55.20,173.18 L55.40,173.52 L55.60,173.16 L55.80,173.03 L56.00,172.56 L56.20,173.91 L56.40,174.75 L56.60,174.02 L56.80,173.84 L57.00,174.01 L57.20,172.58 L57.40,174.02 L57.60,173.18 L57.80,173.34 L58.00,173.43 L58.20,172.88 L58.40,172.30 L58.60,171.98 L58.80,171.80 L59.00,172.56 L59.20,172.06 L59.40,172.56 L59.60,170.74 L59.80,171.65 L60.00,173.07 L60.20,171.08 L60.40,171.91 L60.60,171.59 L60.80,170.83 L61.00,172.81 L61.20,170.59 L61.40,171.88 L61.60,169.89 L61.80,169.47 L62.00,171.74 L62.20,170.30 L62.40,169.01 L62.60,169.84 L62.80,169.85 L63.00,170.59 L63.20,168.57 L63.40,168.78 L63.60,170.85 L63.80,170.05 L64.00,168.17 L64.20,168.59 L64.40,168.52 L64.60,169.37 L64.80,169.07 L65.00,169.66 L65.20,169.45 L65.40,168.42 L65.60,168.97 L65.80,168.86 L66.00,168.79 L66.20,167.82 L66.40,168.63 L66.60,168.29 L66.80,168.80 L67.00,166.33 L67.20,168.46 L67.40,165.76 L67.60,167.95 L67.80,167.32 L68.00,166.98 L68.20,168.30 L68.40,167.05 L68.60,166.53 L68.80,167.57 L69.00,167.80 L69.20,166.95 L69.40,166.23 L69.60,166.40 L69.80,166.37 L70.00,167.13 L70.20,165.80 L70.40,166.05 L70.60,166.51 L70.80,165.97 L71.00,165.75 L71.20,167.12 L71.40,167.29 L71.60,166.22 L71.80,166.04 L72.00,165.26 L72.20,165.61 L72.40,165.14 L72.60,166.46 L72.80,166.51 L73.00,165.08 L73.20,167.64 L73.40,165.92 L73.60,167.56 L73.80,167.62 L74.00,168.07 L74.20,165.90 L74.40,166.66 L74.60,168.20 L74.80,165.59 L75.00,165.79 L75.20,167.42 L75.40,167.29 L75.60,168.63 L75.80,168.26 L76.00,167.63 L76.20,169.08 L76.40,167.71 L76.60,167.78 L76.80,168.35 L77.00,167.54 L77.20,167.51 L77.40,168.29 L77.60,167.64 L77.80,169.50 L78.00,168.76 L78.20,168.38 L78.40,167.17 L78.60,168.07 L78.80,168.22 L79.00,168.78 L79.20,168.89 L79.40,169.89 L79.60,170.22 L79.80,168.86 L80.00,168.80 L80.20,169.43 L80.40,170.62 L80.60,168.75 L80.80,169.39 L81.00,170.33 L81.20,168.47 L81.40,169.00 L81.60,171.07 L81.80,170.69 L82.00,169.84 L82.20,168.72 L82.40,171.15 L82.60,170.62 L82.80,171.10 L83.00,171.70 L83.20,171.48 L83.40,170.16 L83.60,169.45 L83.80,169.94 L84.00,170.69 L84.20,170.75 L84.40,169.89 L84.60,169.96 L84.80,171.38 L85.00,171.39 L85.20,170.72 L85.40,172.72 L85.60,171.73 L85.80,170.03 L86.00,171.22 L86.20,172.42 L86.40,171.06 L86.60,172.29 L86.80,170.31 L87.00,171.29 L87.20,172.98 L87.40,172.29 L87.60,172.61 L87.80,171.27 L88.00,172.25 L88.20,172.49 L88.40,171.71 L88.60,172.93 L88.80,172.66 L89.00,174.13 L89.20,172.94 L89.40,172.52 L89.60,171.73 L89.80,171.91 L90.00,173.79 L90.20,171.91 L90.40,171.96 L90.60,172.25 L90.80,173.37 L91.00,174.35 L91.20,173.79 L91.40,174.44 L91.60,172.28 L91.80,172.20 L92.00,174.55 L92.20,173.27 L92.40,174.52 L92.60,173.50 L92.80,173.02 L93.00,173.37 L93.20,172.94 L93.40,175.42 L93.60,174.52 L93.80,173.88 L94.00,174.25 L94.20,174.12 L94.40,173.19 L94.60,175.76 L94.80,174.89 L95.00,176.08 L95.20,174.58 L95.40,175.18 L95.60,174.12 L95.80,173.56 L96.00,176.27 L96.20,176.10 L96.40,174.54 L96.60,176.34 L96.80,176.15 L97.00,174.67 L97.20,175.62 L97.40,176.75 L97.60,175.41 L97.80,176.83 L98.00,174.77 L98.20,175.27 L98.40,176.32 L98.60,174.89 L98.80,175.21 L99.00,176.98 L99.20,175.87 L99.40,176.86 L99.60,175.28 L99.80,175.14 L100.00,175.76 L100.20,175.32 L100.40,177.74 L100.60,175.77 L100.80,176.66 L101.00,175.39 L101.20,176.72 L101.40,176.34 L101.60,176.47 L101.80,175.53 L102.00,175.77 L102.20,177.95 L102.40,176.60 L102.60,176.35 L102.80,176.26 L103.00,176.60 L103.20,176.53 L103.40,175.99 L103.60,177.95 L103.80,177.04 L104.00,176.55 L104.20,178.26 L104.40,176.48 L104.60,177.07 L104.80,178.82 L105.00,176.76 L105.20,177.76 L105.40,178.99 L105.60,178.94 L105.80,177.05 L106.00,177.68 L106.20,178.83 L106.40,177.83 L106.60,179.61 L106.80,177.40 L107.00,179.67 L107.20,178.36 L107.40,177.57 L107.60,178.28 L107.80,177.35 L108.00,179.11 L108.20,177.81 L108.40,179.76 L108.60,178.86 L108.80,178.24 L109.00,177.90 L109.20,179.02 L109.40,177.87 L109.60,179.88 L109.80,177.66 L110.00,178.87 L110.20,178.99 L110.40,178.20 L110.60,179.74 L110.80,178.61 L111.00,179.45 L111.20,179.21 L111.40,178.47 L111.60,178.74 L111.80,177.86 L112.00,178.16 L112.20,180.21 L112.40,178.64 L112.60,179.70 L112.80,178.06 L113.00,179.45 L113.20,178.87 L113.40,179.32 L113.60,178.73 L113.80,178.07 L114.00,178.83 L114.20,178.60 L114.40,178.32 L114.60,180.12 L114.80,178.84 L115.00,179.23 L115.20,180.77 L115.40,180.39 L115.60,180.74 L115.80,180.69 L116.00,178.53 L116.20,178.99 L116.40,178.27 L116.60,180.24 L116.80,180.21 L117.00,179.30 L117.20,179.50 L117.40,180.27 L117.60,180.41 L117.80,179.08 L118.00,180.89 L118.20,179.43 L118.40,180.28 L118.60,178.96 L118.80,178.78 L119.00,181.19 L119.20,180.68 L119.40,180.63 L119.60,178.63 L119.80,178.65 L120.00,179.04 L120.20,179.17 L120.40,179.50 L120.60,179.75 L120.80,178.75 L121.00,179.58 L121.20,180.58 L121.40,179.22 L121.60,181.22 L121.80,180.43 L122.00,180.89 L122.20,179.52 L122.40,180.08 L122.60,180.84 L122.80,179.86 L123.00,178.83 L123.20,181.35 L123.40,181.19 L123.60,179.74 L123.80,179.02 L124.00,181.47 L124.20,180.75 L124.40,179.08 L124.60,179.69 L124.80,179.31 L125.00,181.36 L125.20,179.63 L125.40,181.76 L125.60,181.28 L125.80,179.31 L126.00,181.15 L126.20,180.26 L126.40,181.33 L126.60,181.59 L126.80,179.96 L127.00,179.40 L127.20,181.99 L127.40,180.43 L127.60,181.96 L127.80,181.26 L128.00,181.42 L128.20,181.70 L128.40,181.11 L128.60,180.60 L128.80,179.42 L129.00,181.36 L129.20,180.56 L129.40,180.83 L129.60,182.09 L129.80,179.70 L130.00,181.61 L130.20,179.47 L130.40,181.46 L130.60,181.78 L130.80,180.16 L131.00,181.03 L131.20,182.31 L131.40,181.32 L131.60,181.06 L131.80,180.19 L132.00,179.63 L132.20,180.53 L132.40,180.71 L132.60,180.09 L132.80,180.43 L133.00,179.92 L133.20,181.64 L133.40,181.54 L133.60,180.26 L133.80,180.28 L134.00,181.11 L134.20,180.91 L134.40,182.40 L134.60,180.66 L134.80,180.51 L135.00,182.28 L135.20,180.07 L135.40,181.34 L135.60,180.67 L135.80,182.12 L136.00,181.34 L136.20,181.98 L136.40,180.22 L136.60,181.73 L136.80,181.54 L137.00,181.14 L137.20,182.07 L137.40,182.28 L137.60,180.14 L137.80,180.68 L138.00,180.90 L138.20,180.46 L138.40,180.03 L138.60,180.71 L138.80,180.47 L139.00,182.00 L139.20,181.25 L139.40,180.26 L139.60,180.91 L139.80,181.36 L140.00,181.06 L140.20,180.49 L140.40,180.21 L140.60,180.04 L140.80,183.00 L141.00,182.29 L141.20,180.31 L141.40,182.22 L141.60,183.03 L141.80,181.79 L142.00,180.45 L142.20,181.60 L142.40,181.45 L142.60,180.74 L142.80,181.81 L143.00,180.22 L143.20,182.97 L143.40,182.16 L143.60,182.13 L143.80,183.07 L144.00,182.24 L144.20,181.05 L144.40,181.05 L144.60,180.74 L144.80,180.43 L145.00,182.68 L145.20,182.89 L145.40,181.28 L145.60,180.96 L145.80,182.34 L146.00,182.98 L146.20,183.24 L146.40,180.98 L146.60,182.84 L146.80,183.00 L147.00,182.75 L147.20,181.52 L147.40,181.11 L147.60,183.05 L147.80,181.55 L148.00,181.71 L148.20,182.27 L148.40,181.74 L148.60,183.15 L148.80,181.39 L149.00,180.81 L149.20,182.40 L149.40,182.60 L149.60,183.19 L149.80,182.87 L150.00,183.48 L150.20,183.62 L150.40,182.28 L150.60,182.32 L150.80,181.31 L151.00,181.75 L151.20,182.61 L151.40,181.12 L151.60,182.96 L151.80,181.40 L152.00,182.26 L152.20,183.85 L152.40,181.23 L152.60,181.10 L152.80,182.31 L153.00,181.58 L153.20,183.19 L153.40,181.05 L153.60,183.58 L153.80,183.64 L154.00,183.45 L154.20,182.38 L154.40,181.97 L154.60,183.12 L154.80,182.69 L155.00,182.43 L155.20,182.19 L155.40,182.51 L155.60,183.21 L155.80,183.70 L156.00,183.95 L156.20,181.75 L156.40,182.16 L156.60,182.61 L156.80,182.99 L157.00,182.36 L157.20,181.92 L157.40,181.60 L157.60,182.34 L157.80,182.76 L158.00,184.31 L158.20,184.14 L158.40,184.03 L158.60,184.37 L158.80,184.35 L159.00,183.34 L159.20,183.93 L159.40,181.70 L159.60,183.56 L159.80,183.38 L160.00,182.46 L160.20,183.30 L160.40,184.46 L160.60,183.06 L160.80,183.58 L161.00,182.55 L161.20,182.70 L161.40,184.35 L161.60,181.79 L161.80,182.29 L162.00,183.78 L162.20,183.11 L162.40,182.04 L162.60,183.78 L162.80,182.93 L163.00,183.58 L163.20,183.10 L163.40,183.46 L163.60,183.58 L163.80,183.10 L164.00,182.27 L164.20,182.49 L164.40,184.63 L164.60,183.62 L164.80,182.33 L165.00,184.60 L165.20,182.79 L165.40,182.34 L165.60,183.66 L165.80,182.84 L166.00,183.57 L166.20,183.78 L166.40,182.82 L166.60,183.87 L166.80,182.51 L167.00,183.73 L167.20,183.97 L167.40,182.46 L167.60,183.46 L167.80,182.48 L168.00,183.59 L168.20,184.88 L168.40,183.96 L168.60,184.47 L168.80,184.61 L169.00,182.70 L169.20,185.34 L169.40,184.55 L169.60,182.71 L169.80,184.91 L170.00,183.61 L170.20,182.96 L170.40,185.34 L170.60,184.17 L170.80,184.82 L171.00,182.92 L171.20,184.85 L171.40,182.71 L171.60,183.26 L171.80,183.68 L172.00,182.62 L172.20,184.37 L172.40,183.24 L172.60,183.51 L172.80,184.75 L173.00,183.92 L173.20,185.32 L173.40,184.53 L173.60,185.29 L173.80,184.38 L174.00,185.45 L174.20,185.32 L174.40,183.22 L174.60,184.97 L174.80,183.77 L175.00,185.04 L175.20,184.80 L175.40,185.25 L175.60,183.15 L175.80,183.91 L176.00,185.01 L176.20,185.65 L176.40,184.98 L176.60,182.95 L176.80,184.64 L177.00,183.13 L177.20,184.49 L177.40,185.26 L177.60,183.19 L177.80,185.64 L178.00,184.89 L178.20,183.63 L178.40,183.45 L178.60,184.22 L178.80,185.40 L179.00,184.63 L179.20,183.23 L179.40,182.96 L179.60,183.23 L179.80,185.30 L180.00,183.46 L180.20,184.56 L180.40,183.77 L180.60,184.97 L180.80,184.05 L181.00,183.34 L181.20,185.54 L181.40,184.53 L181.60,184.98 L181.80,185.34 L182.00,185.76 L182.20,182.96 L182.40,183.95 L182.60,183.37 L182.80,184.43 L183.00,185.54 L183.20,185.33 L183.40,183.03 L183.60,183.47 L183.80,185.38 L184.00,184.97 L184.20,184.11 L184.40,184.36 L184.60,183.41 L184.80,185.47 L185.00,184.12 L185.20,185.56 L185.40,184.77 L185.60,183.17 L185.80,183.93 L186.00,183.59 L186.20,185.63 L186.40,184.72 L186.60,183.08 L186.80,183.46 L187.00,184.04 L187.20,184.36 L187.40,184.69 L187.60,184.12 L187.80,184.02 L188.00,182.98 L188.20,184.70 L188.40,183.96 L188.60,183.02 L188.80,184.34 L189.00,185.92 L189.20,183.10 L189.40,183.41 L189.60,184.98 L189.80,183.79 L190.00,183.79 L190.20,184.47 L190.40,183.76 L190.60,184.68 L190.80,184.56 L191.00,185.85 L191.20,185.96 L191.40,183.08 L191.60,184.66 L191.80,185.29 L192.00,185.60 L192.20,185.31 L192.40,184.89 L192.60,184.89 L192.80,184.08 L193.00,183.83 L193.20,185.38 L193.40,185.61 L193.60,185.81 L193.80,185.04 L194.00,183.91 L194.20,185.29 L194.40,185.22 L194.60,184.52 L194.80,184.90 L195.00,184.05 L195.20,184.65 L195.40,184.22 L195.60,183.18 L195.80,184.02 L196.00,183.97 L196.20,185.97 L196.40,184.45 L196.60,184.11 L196.80,183.74 L197.00,183.71 L197.20,184.06 L197.40,183.42 L197.60,183.04 L197.80,185.63 L198.00,184.37 L198.20,184.35 L198.40,184.72 L198.60,183.93 L198.80,183.53 L199.00,183.22 L199.20,183.93 L199.40,183.95 L199.60,185.20 L199.80,184.68 L200.00,185.84 L200.20,184.05 L200.40,185.79 L200.60,184.78 L200.80,183.27 L201.00,183.57 L201.20,184.77 L201.40,185.99 L201.60,184.10 L201.80,185.36 L202.00,184.32 L202.20,185.64 L202.40,183.24 L202.60,184.49 L202.80,185.73 L203.00,183.87 L203.20,183.81 L203.40,183.11 L203.60,183.53 L203.80,183.85 L204.00,185.16 L204.20,183.70 L204.40,184.24 L204.60,183.65 L204.80,184.85 L205.00,185.64 L205.20,184.99 L205.40,183.64 L205.60,185.25 L205.80,185.94 L206.00,184.85 L206.20,183.29 L206.40,185.48 L206.60,185.68 L206.80,184.08 L207.00,183.46 L207.20,183.62 L207.40,184.67 L207.60,185.68 L207.80,184.98 L208.00,185.83 L208.20,183.69 L208.40,184.04 L208.60,185.31 L208.80,185.01 L209.00,184.28 L209.20,185.10 L209.40,184.08 L209.60,183.24 L209.80,184.31 L210.00,183.20 L210.20,184.94 L210.40,184.07 L210.60,184.55 L210.80,184.86 L211.00,183.84 L211.20,184.46 L211.40,183.11 L211.60,185.85 L211.80,184.76 L212.00,186.03 L212.20,183.24 L212.40,184.91 L212.60,185.25 L212.80,184.06 L213.00,183.35 L213.20,183.54 L213.40,183.50 L213.60,185.38 L213.80,183.35 L214.00,185.52 L214.20,184.35 L214.40,184.69 L214.60,184.84 L214.80,184.74 L215.00,185.05 L215.20,184.89 L215.40,184.07 L215.60,185.30 L215.80,183.86 L216.00,185.22 L216.20,185.37 L216.40,185.41 L216.60,184.01 L216.80,185.40 L217.00,186.02 L217.20,184.45 L217.40,183.92 L217.60,184.66 L217.80,185.91 L218.00,183.48 L218.20,183.12 L218.40,184.52 L218.60,185.06 L218.80,185.41 L219.00,184.18 L219.20,186.06 L219.40,183.78 L219.60,185.36 L219.80,183.36 L220.00,183.18 L220.20,183.50 L220.40,183.27 L220.60,184.60 L220.80,184.76 L221.00,183.64 L221.20,185.92 L221.40,184.19 L221.60,183.55 L221.80,183.63 L222.00,185.31 L222.20,185.86 L222.40,183.59 L222.60,183.19 L222.80,185.43 L223.00,183.83 L223.20,186.05 L223.40,184.60 L223.60,185.01 L223.80,184.14 L224.00,185.50 L224.20,184.48 L224.40,184.08 L224.60,185.82 L224.80,183.43 L225.00,185.31 L225.20,183.30 L225.40,185.04 L225.60,184.31 L225.80,185.70 L226.00,183.29 L226.20,184.80 L226.40,184.34 L226.60,185.87 L226.80,185.94 L227.00,184.99 L227.20,183.78 L227.40,183.87 L227.60,183.90 L227.80,184.41 L228.00,183.81 L228.20,183.72 L228.40,185.39 L228.60,185.04 L228.80,184.01 L229.00,186.10 L229.20,183.76 L229.40,184.82 L229.60,183.59 L229.80,185.71 L230.00,185.72 L230.20,183.92 L230.40,185.37 L230.60,185.59 L230.80,183.97 L231.00,184.11 L231.20,184.58 L231.40,185.79 L231.60,183.60 L231.80,185.17 L232.00,184.91 L232.20,184.48 L232.40,184.86 L232.60,185.77 L232.80,183.75 L233.00,185.77 L233.20,184.20 L233.40,185.46 L233.60,185.71 L233.80,183.67 L234.00,185.72 L234.20,186.11 L234.40,184.02 L234.60,183.20 L234.80,183.46 L235.00,186.05 L235.20,183.16 L235.40,185.86 L235.60,183.58 L235.80,185.34 L236.00,183.42 L236.20,183.64 L236.40,185.18 L236.60,183.40 L236.80,184.15 L237.00,185.89 L237.20,185.28 L237.40,185.78 L237.60,186.07 L237.80,183.23 L238.00,183.84 L238.20,185.51 L238.40,185.20 L238.60,183.25 L238.80,184.65 L239.00,183.83 L239.20,184.43 L239.40,183.45 L239.60,183.20 L239.80,186.11 L240.00,184.09 L240.20,185.77 L240.40,183.50 L240.60,184.60 L240.80,183.55 L241.00,184.42 L241.20,183.68 L241.40,185.20 L241.60,183.58 L241.80,185.36 L242.00,184.64 L242.20,183.48 L242.40,184.20 L242.60,184.63 L242.80,185.90 L243.00,184.19 L243.20,183.79 L243.40,186.05 L243.60,185.79 L243.80,185.34 L244.00,183.96 L244.20,183.68 L244.40,183.94 L244.60,183.35 L244.80,183.28 L245.00,184.67 L245.20,184.37 L245.40,184.82 L245.60,184.24 L245.80,183.18 L246.00,185.21 L246.20,185.11 L246.40,184.78 L246.60,184.80 L246.80,185.22 L247.00,186.10 L247.20,185.78 L247.40,185.31 L247.60,184.35 L247.80,184.11 L248.00,184.41 L248.20,186.07 L248.40,184.32 L248.60,184.31 L248.80,184.39 L249.00,183.59 L249.20,186.15 L249.40,183.17 L249.60,184.98 L249.80,185.94 L250.00,183.92 L250.20,184.99 L250.40,184.29 L250.60,183.88 L250.80,183.76 L251.00,183.51 L251.20,185.69 L251.40,185.52 L251.60,185.89 L251.80,183.31 L252.00,185.25 L252.20,184.14 L252.40,185.10 L252.60,184.81 L252.80,184.11 L253.00,186.08 L253.20,183.17 L253.40,185.41 L253.60,185.73 L253.80,184.70 L254.00,184.95 L254.20,186.16 L254.40,183.87 L254.60,185.06 L254.80,185.40 L255.00,184.31 L255.20,185.31 L255.40,184.35 L255.60,184.75 L255.80,185.01 L256.00,185.21 L256.20,184.14 L256.40,185.06 L256.60,184.81 L256.80,183.85 L257.00,185.02 L257.20,183.97 L257.40,185.91 L257.60,184.60 L257.80,185.35 L258.00,184.75 L258.20,184.61 L258.40,183.85 L258.60,183.61 L258.80,185.97 L259.00,184.77 L259.20,184.76 L259.40,184.77 L259.60,185.63 L259.80,183.90 L260.00,183.71 L260.20,185.65 L260.40,184.57 L260.60,185.11 L260.80,185.67 L261.00,185.87 L261.20,185.80 L261.40,183.32 L261.60,184.34 L261.80,185.69 L262.00,185.65 L262.20,183.56 L262.40,183.66 L262.60,183.95 L262.80,183.51 L263.00,184.27 L263.20,185.61" fill="none" stroke="#000000" stroke-width="1.0" stroke-linejoin="round"/>
<path d="M34.40,273.02 L34.55,272.94 L34.70,272.50 L34.85,272.87 L35.00,273.59 L35.15,273.23 L35.30,272.94 L35.45,272.97 L35.60,273.36 L35.75,273.31 L35.90,272.58 L36.05,273.21 L36.20,272.84 L36.35,273.02 L36.50,272.69 L36.65,272.85 L36.80,272.81 L36.95,272.86 L37.10,272.42 L37.25,272.64 L37.40,273.09 L37.55,272.47 L37.70,272.62 L37.85,273.26 L38.00,272.73 L38.15,272.79 L38.30,272.69 L38.45,273.40 L38.60,272.51 L38.75,273.17 L38.90,273.43 L39.05,272.65 L39.20,272.91 L39.35,273.35 L39.50,273.15 L39.65,272.85 L39.80,272.46 L39.95,272.94 L40.10,272.85 L40.25,273.26 L40.40,272.76 L40.55,272.90 L40.70,273.18 L40.85,273.38 L41.00,272.83 L41.15,272.87 L41.30,273.10 L41.45,273.52 L41.60,272.64 L41.75,273.57 L41.90,273.26 L42.05,272.86 L42.20,273.21 L42.35,272.80 L42.50,272.50 L42.65,273.32 L42.80,272.87 L42.95,273.04 L43.10,273.01 L43.25,273.49 L43.40,273.32 L43.55,272.44 L43.70,273.12 L43.85,272.97 L44.00,272.97 L44.15,273.42 L44.30,272.91 L44.45,272.98 L44.60,273.48 L44.75,272.94 L44.90,273.00 L45.05,273.03 L45.20,273.40 L45.35,273.22 L45.50,273.30 L45.65,272.90 L45.80,272.47 L45.95,273.23 L46.10,273.08 L46.25,273.34 L46.40,273.34 L46.55,272.56 L46.70,272.68 L46.85,272.51 L47.00,273.40 L47.15,272.54 L47.30,272.52 L47.45,273.32 L47.60,273.10 L47.75,272.49 L47.90,273.24 L48.05,273.27 L48.20,273.00 L48.35,272.49 L48.50,273.25 L48.65,272.92 L48.80,273.12 L48.95,273.62 L49.10,273.40 L49.25,273.47 L49.40,272.60 L49.55,272.82 L49.70,273.04 L49.85,272.43 L50.00,273.61 L50.15,272.75 L50.30,272.74 L50.45,272.80 L50.60,272.73 L50.75,273.45 L50.90,273.09 L51.05,273.04 L51.20,272.93 L51.35,272.49 L51.50,272.79 L51.65,273.46 L51.80,273.39 L51.95,273.45 L52.10,272.74 L52.25,272.67 L52.40,272.49 L52.55,273.07 L52.70,272.88 L52.85,272.99 L53.00,273.02 L53.15,273.13 L53.30,272.87 L53.45,273.39 L53.60,272.67 L53.75,273.53 L53.90,273.10 L54.05,272.49 L54.20,272.81 L54.35,273.07 L54.50,272.92 L54.65,273.11 L54.80,272.82 L54.95,272.76 L55.10,273.39 L55.25,272.78 L55.40,273.28 L55.55,273.39 L55.70,273.14 L55.85,272.98 L56.00,273.55 L56.15,272.97 L56.30,273.49 L56.45,272.51 L56.60,272.96 L56.75,273.20 L56.90,272.50 L57.05,273.47 L57.20,272.52 L57.35,273.15 L57.50,272.65 L57.65,273.54 L57.80,273.11 L57.95,273.40 L58.10,273.04 L58.25,273.25 L58.40,273.25 L58.55,272.79 L58.70,272.69 L58.85,273.44 L59.00,272.62 L59.15,273.54 L59.30,272.69 L59.45,272.56 L59.60,272.56 L59.75,273.38 L59.90,273.58 L60.05,272.94 L60.20,273.23 L60.35,272.75 L60.50,273.53 L60.65,273.26 L60.80,272.63 L60.95,272.51 L61.10,273.28 L61.25,272.49 L61.40,273.44 L61.55,272.80 L61.70,272.72 L61.85,273.14 L62.00,272.83 L62.15,273.12 L62.30,272.63 L62.45,273.54 L62.60,272.83 L62.75,273.45 L62.90,272.63 L63.05,273.40 L63.20,273.62 L63.35,272.92 L63.50,272.49 L63.65,272.90 L63.80,273.21 L63.95,272.72 L64.10,273.10 L64.25,272.56 L64.40,273.00 L64.55,273.32 L64.70,272.96 L64.85,273.26 L65.00,272.59 L65.15,273.44 L65.30,272.60 L65.45,273.55 L65.60,273.64 L65.75,273.57 L65.90,273.08 L66.05,272.80 L66.20,272.87 L66.35,273.35 L66.50,273.04 L66.65,273.56 L66.80,272.56 L66.95,273.03 L67.10,273.48 L67.25,273.17 L67.40,273.10 L67.55,272.56 L67.70,272.62 L67.85,272.78 L68.00,273.52 L68.15,273.46 L68.30,272.72 L68.45,273.56 L68.60,272.49 L68.75,273.17 L68.90,273.61 L69.05,272.86 L69.20,273.58 L69.35,273.24 L69.50,272.51 L69.65,272.85 L69.80,272.99 L69.95,272.75 L70.10,273.34 L70.25,272.67 L70.40,273.39 L70.55,272.81 L70.70,272.54 L70.85,273.12 L71.00,272.57 L71.15,273.11 L71.30,273.39 L71.45,273.16 L71.60,273.00 L71.75,272.49 L71.90,273.06 L72.05,272.56 L72.20,273.21 L72.35,272.60 L72.50,273.13 L72.65,272.86 L72.80,272.88 L72.95,273.22 L73.10,272.63 L73.25,272.64 L73.40,273.53 L73.55,272.82 L73.70,273.41 L73.85,273.44 L74.00,272.97 L74.15,272.58 L74.30,272.51 L74.45,273.39 L74.60,272.52 L74.75,272.92 L74.90,272.94 L75.05,272.45 L75.20,272.78 L75.35,272.38 L75.50,272.58 L75.65,272.19 L75.80,271.41 L75.95,270.23 L76.10,268.79 L76.25,267.02 L76.40,265.69 L76.50,265.42 L76.55,265.66 L76.70,266.59 L76.85,268.39 L77.00,269.68 L77.15,271.46 L77.30,271.99 L77.45,272.72 L77.60,272.75 L77.75,273.00 L77.90,272.57 L78.05,273.17 L78.20,272.54 L78.35,272.68 L78.50,272.43 L78.65,272.85 L78.80,273.01 L78.95,272.76 L79.10,273.46 L79.25,272.53 L79.40,273.11 L79.55,272.71 L79.70,273.14 L79.85,273.36 L80.00,273.28 L80.15,272.52 L80.30,272.74 L80.45,273.16 L80.60,273.61 L80.75,272.51 L80.90,273.19 L81.05,273.27 L81.20,273.42 L81.35,272.86 L81.50,273.42 L81.65,273.01 L81.80,273.55 L81.95,272.48 L82.10,273.58 L82.25,272.95 L82.40,272.95 L82.55,272.57 L82.70,272.76 L82.85,273.34 L83.00,273.27 L83.15,272.65 L83.30,272.88 L83.45,272.63 L83.60,272.70 L83.75,272.73 L83.90,272.86 L84.05,273.62 L84.20,273.65 L84.35,273.41 L84.50,273.04 L84.65,273.06 L84.80,273.39 L84.95,273.55 L85.10,273.36 L85.25,273.22 L85.40,272.71 L85.55,273.21 L85.70,273.47 L85.85,273.40 L86.00,272.58 L86.15,273.32 L86.30,272.89 L86.45,272.66 L86.60,273.61 L86.75,273.27 L86.90,273.35 L87.05,272.63 L87.20,273.45 L87.35,273.58 L87.50,273.54 L87.65,273.35 L87.80,273.46 L87.95,273.42 L88.10,273.17 L88.25,272.99 L88.40,273.45 L88.55,273.40 L88.70,273.50 L88.85,272.82 L89.00,273.61 L89.15,273.10 L89.30,273.59 L89.45,272.61 L89.60,273.61 L89.75,273.40 L89.90,272.77 L90.05,273.46 L90.20,272.74 L90.35,272.70 L90.50,273.01 L90.65,272.75 L90.80,273.05 L90.95,273.54 L91.10,273.28 L91.25,273.30 L91.40,272.93 L91.55,273.39 L91.70,273.40 L91.85,273.27 L92.00,273.57 L92.15,273.44 L92.30,272.94 L92.45,272.57 L92.60,273.23 L92.75,273.45 L92.90,272.86 L93.05,273.16 L93.20,273.44 L93.35,273.39 L93.50,272.47 L93.65,273.03 L93.80,272.48 L93.95,272.59 L94.10,273.41 L94.25,272.95 L94.40,273.16 L94.55,272.99 L94.70,272.85 L94.85,272.71 L95.00,272.87 L95.15,273.44 L95.30,273.17 L95.45,272.79 L95.60,272.55 L95.75,272.77 L95.90,273.26 L96.05,272.96 L96.20,273.21 L96.35,273.38 L96.50,272.59 L96.65,273.23 L96.80,272.49 L96.95,273.39 L97.10,272.65 L97.25,272.75 L97.40,273.54 L97.55,272.85 L97.70,272.69 L97.85,273.45 L98.00,273.13 L98.15,273.45 L98.30,272.88 L98.45,272.99 L98.60,273.51 L98.75,273.00 L98.90,273.54 L99.05,272.63 L99.20,273.35 L99.35,272.59 L99.50,273.00 L99.65,272.40 L99.80,272.60 L99.95,273.46 L100.10,272.90 L100.25,273.29 L100.40,272.67 L100.55,272.77 L100.70,272.49 L100.85,272.98 L101.00,273.32 L101.15,272.93 L101.30,272.77 L101.45,273.36 L101.60,273.31 L101.75,273.06 L101.90,272.41 L102.05,272.99 L102.20,272.79 L102.35,273.32 L102.50,272.68 L102.65,272.98 L102.80,272.93 L102.95,272.65 L103.10,272.78 L103.25,272.92 L103.40,273.13 L103.55,272.70 L103.70,272.54 L103.85,273.11 L104.00,272.19 L104.15,272.91 L104.30,272.73 L104.45,272.57 L104.60,272.42 L104.75,272.65 L104.90,272.71 L105.05,272.51 L105.20,272.45 L105.35,271.78 L105.50,271.94 L105.65,271.70 L105.80,272.20 L105.95,272.00 L106.10,271.32 L106.25,271.43 L106.40,271.17 L106.55,270.55 L106.70,270.30 L106.85,269.78 L107.00,268.65 L107.15,266.84 L107.30,264.31 L107.45,260.24 L107.60,254.60 L107.75,247.02 L107.90,237.68 L108.05,227.01 L108.20,216.16 L108.35,206.73 L108.50,200.72 L108.60,199.51 L108.65,199.81 L108.80,204.25 L108.95,212.75 L109.10,223.32 L109.25,234.20 L109.40,244.11 L109.55,252.31 L109.70,258.56 L109.85,263.02 L110.00,266.14 L110.15,268.24 L110.30,269.22 L110.45,270.27 L110.60,270.49 L110.75,270.91 L110.90,271.01 L111.05,271.36 L111.20,271.58 L111.35,272.15 L111.50,272.28 L111.65,271.79 L111.80,271.97 L111.95,272.57 L112.10,272.02 L112.25,272.18 L112.40,272.34 L112.55,272.09 L112.70,272.27 L112.85,272.43 L113.00,272.45 L113.15,273.04 L113.30,272.40 L113.45,272.36 L113.60,273.08 L113.75,272.65 L113.90,273.06 L114.05,272.88 L114.20,273.04 L114.35,272.58 L114.50,272.42 L114.65,273.07 L114.80,272.78 L114.95,272.88 L115.10,273.01 L115.25,273.11 L115.40,272.61 L115.55,272.71 L115.70,273.32 L115.85,272.91 L116.00,272.65 L116.15,273.03 L116.30,272.63 L116.45,273.20 L116.60,272.40 L116.75,273.28 L116.90,272.99 L117.05,272.76 L117.20,273.42 L117.35,272.67 L117.50,272.65 L117.65,272.46 L117.80,273.00 L117.95,273.23 L118.10,273.15 L118.25,272.85 L118.40,273.30 L118.55,272.52 L118.70,272.74 L118.85,273.13 L119.00,273.49 L119.15,273.12 L119.30,273.19 L119.45,273.28 L119.60,272.85 L119.75,273.48 L119.90,273.25 L120.05,272.79 L120.20,272.85 L120.35,273.33 L120.50,272.81 L120.65,272.62 L120.80,273.41 L120.95,273.02 L121.10,273.01 L121.25,273.18 L121.40,273.45 L121.55,272.56 L121.70,272.80 L121.85,272.49 L122.00,272.89 L122.15,272.99 L122.30,273.39 L122.45,273.18 L122.60,273.08 L122.75,272.88 L122.90,273.07 L123.05,272.73 L123.20,273.39 L123.35,273.32 L123.50,273.38 L123.65,272.58 L123.80,273.19 L123.95,273.28 L124.10,272.99 L124.25,273.45 L124.40,273.45 L124.55,273.26 L124.70,273.35 L124.85,273.15 L125.00,273.42 L125.15,272.56 L125.30,273.22 L125.45,273.21 L125.60,273.11 L125.75,272.72 L125.90,272.48 L126.05,273.09 L126.20,273.34 L126.35,272.71 L126.50,272.64 L126.65,272.65 L126.80,272.50 L126.95,273.16 L127.10,273.50 L127.25,273.30 L127.40,272.79 L127.55,273.18 L127.70,272.46 L127.85,273.32 L128.00,272.74 L128.15,272.37 L128.30,273.07 L128.45,272.51 L128.60,272.66 L128.75,272.41 L128.90,272.84 L129.05,272.95 L129.20,273.22 L129.35,272.37 L129.50,273.22 L129.65,272.42 L129.80,272.54 L129.95,272.96 L130.10,272.63 L130.25,272.60 L130.40,272.83 L130.55,272.44 L130.70,273.00 L130.85,272.37 L131.00,272.95 L131.15,272.85 L131.30,272.51 L131.45,271.94 L131.60,272.41 L131.75,271.54 L131.90,271.46 L132.05,270.73 L132.20,269.57 L132.35,268.41 L132.50,266.59 L132.65,264.34 L132.80,261.88 L132.95,259.53 L133.10,257.64 L133.25,256.60 L133.30,256.61 L133.40,256.91 L133.55,258.23 L133.70,260.36 L133.85,262.68 L134.00,265.21 L134.15,267.05 L134.30,268.87 L134.45,269.96 L134.60,271.00 L134.75,271.75 L134.90,272.16 L135.05,272.20 L135.20,272.25 L135.35,272.20 L135.50,272.47 L135.65,272.40 L135.80,272.35 L135.95,272.94 L136.10,272.74 L136.25,272.68 L136.40,272.45 L136.55,273.01 L136.70,272.48 L136.85,272.57 L137.00,272.90 L137.15,273.07 L137.30,273.38 L137.45,273.14 L137.60,273.37 L137.75,273.35 L137.90,273.14 L138.05,273.14 L138.20,272.40 L138.35,272.57 L138.50,272.35 L138.65,273.32 L138.80,273.17 L138.95,273.06 L139.10,272.65 L139.25,272.76 L139.40,272.54 L139.55,273.08 L139.70,273.49 L139.85,272.71 L140.00,272.41 L140.15,272.56 L140.30,272.77 L140.45,273.39 L140.60,273.29 L140.75,272.88 L140.90,272.48 L141.05,272.48 L141.20,272.54 L141.35,273.26 L141.50,272.90 L141.65,273.50 L141.80,273.41 L141.95,273.28 L142.10,272.91 L142.25,273.31 L142.40,272.51 L142.55,272.49 L142.70,273.01 L142.85,272.95 L143.00,272.60 L143.15,272.65 L143.30,272.38 L143.45,273.40 L143.60,273.17 L143.75,273.44 L143.90,273.48 L144.05,272.86 L144.20,273.20 L144.35,272.79 L144.50,273.28 L144.65,273.32 L144.80,272.50 L144.95,272.36 L145.10,272.59 L145.25,273.02 L145.40,272.78 L145.55,272.35 L145.70,273.29 L145.85,273.24 L146.00,272.87 L146.15,272.38 L146.30,273.34 L146.45,272.94 L146.60,272.41 L146.75,272.69 L146.90,273.03 L147.05,273.32 L147.20,272.86 L147.35,273.04 L147.50,272.54 L147.65,272.58 L147.80,273.32 L147.95,272.73 L148.10,272.41 L148.25,272.95 L148.40,272.43 L148.55,272.50 L148.70,272.78 L148.85,272.92 L149.00,272.96 L149.15,273.03 L149.30,272.73 L149.45,272.32 L149.60,273.02 L149.75,272.28 L149.90,272.72 L150.05,272.63 L150.20,272.90 L150.35,272.93 L150.50,272.42 L150.65,272.82 L150.80,272.84 L150.95,272.59 L151.10,272.24 L151.25,272.97 L151.40,272.63 L151.55,272.07 L151.70,272.20 L151.85,272.85 L152.00,272.10 L152.15,272.18 L152.30,272.45 L152.45,272.38 L152.60,272.10 L152.75,272.03 L152.90,271.31 L153.05,271.07 L153.20,271.17 L153.35,270.36 L153.50,269.00 L153.65,267.56 L153.80,265.57 L153.95,262.95 L154.10,259.33 L154.25,255.25 L154.40,250.71 L154.55,246.08 L154.70,242.02 L154.85,239.11 L155.00,238.06 L155.00,238.05 L155.15,239.14 L155.30,241.96 L155.45,246.10 L155.60,250.68 L155.75,255.19 L155.90,259.42 L156.05,262.80 L156.20,265.63 L156.35,267.58 L156.50,269.30 L156.65,270.40 L156.80,271.12 L156.95,271.00 L157.10,271.88 L157.25,271.88 L157.40,272.24 L157.55,272.10 L157.70,272.29 L157.85,272.35 L158.00,272.60 L158.15,272.00 L158.30,272.02 L158.45,272.52 L158.60,272.31 L158.75,272.45 L158.90,272.09 L159.05,272.85 L159.20,272.14 L159.35,272.99 L159.50,272.99 L159.65,272.64 L159.80,272.30 L159.95,272.88 L160.10,272.42 L160.25,272.67 L160.40,272.33 L160.55,273.28 L160.70,272.82 L160.85,272.62 L161.00,272.34 L161.15,273.05 L161.30,273.19 L161.45,273.19 L161.60,272.37 L161.75,272.67 L161.90,272.61 L162.05,273.12 L162.20,272.44 L162.35,272.96 L162.50,273.38 L162.65,273.15 L162.80,272.29 L162.95,272.37 L163.10,272.42 L163.25,273.08 L163.40,272.97 L163.55,272.88 L163.70,272.81 L163.85,272.76 L164.00,272.99 L164.15,273.04 L164.30,273.35 L164.45,273.14 L164.60,273.21 L164.75,273.35 L164.90,273.26 L165.05,273.12 L165.20,272.34 L165.35,273.09 L165.50,273.28 L165.65,272.80 L165.80,273.31 L165.95,272.51 L166.10,273.39 L166.25,272.81 L166.40,273.12 L166.55,272.60 L166.70,272.65 L166.85,272.71 L167.00,272.68 L167.15,272.41 L167.30,272.81 L167.45,273.43 L167.60,273.05 L167.75,273.37 L167.90,273.17 L168.05,273.26 L168.20,273.44 L168.35,273.16 L168.50,272.61 L168.65,272.58 L168.80,272.76 L168.95,272.31 L169.10,272.55 L169.25,273.30 L169.40,273.33 L169.55,272.65 L169.70,273.15 L169.85,273.15 L170.00,273.28 L170.15,273.16 L170.30,272.86 L170.45,272.38 L170.60,273.17 L170.75,272.60 L170.90,272.93 L171.05,272.64 L171.20,272.81 L171.35,273.26 L171.50,272.37 L171.65,272.75 L171.80,272.85 L171.95,272.70 L172.10,273.06 L172.25,272.45 L172.40,272.85 L172.55,272.49 L172.70,272.52 L172.85,271.55 L173.00,271.32 L173.15,270.94 L173.30,270.74 L173.45,269.64 L173.60,269.04 L173.75,268.44 L173.90,267.76 L174.05,266.83 L174.20,266.40 L174.35,266.22 L174.40,266.21 L174.50,266.29 L174.65,266.63 L174.80,267.05 L174.95,267.76 L175.10,268.44 L175.25,269.46 L175.40,269.95 L175.55,270.57 L175.70,271.52 L175.85,271.74 L176.00,272.03 L176.15,272.32 L176.30,272.45 L176.45,272.66 L176.60,272.36 L176.75,272.17 L176.90,272.20 L177.05,272.17 L177.20,272.56 L177.35,272.34 L177.50,272.32 L177.65,272.75 L177.80,273.28 L177.95,272.98 L178.10,272.53 L178.25,273.09 L178.40,272.44 L178.55,272.35 L178.70,272.59 L178.85,272.71 L179.00,273.03 L179.15,272.76 L179.30,273.08 L179.45,272.36 L179.60,273.31 L179.75,272.65 L179.90,273.21 L180.05,272.30 L180.20,273.20 L180.35,272.52 L180.50,273.24 L180.65,273.18 L180.80,273.03 L180.95,272.58 L181.10,272.27 L181.25,272.48 L181.40,273.29 L181.55,272.44 L181.70,273.01 L181.85,272.93 L182.00,273.01 L182.15,272.46 L182.30,272.42 L182.45,272.37 L182.60,273.37 L182.75,272.69 L182.90,272.99 L183.05,272.90 L183.20,272.50 L183.35,272.32 L183.50,272.26 L183.65,273.20 L183.80,272.39 L183.95,273.32 L184.10,272.64 L184.25,273.04 L184.40,272.38 L184.55,273.11 L184.70,272.50 L184.85,272.63 L185.00,272.80 L185.15,272.34 L185.30,272.48 L185.45,273.08 L185.60,272.51 L185.75,272.61 L185.90,273.02 L186.05,272.42 L186.20,272.38 L186.35,272.40 L186.50,272.57 L186.65,272.54 L186.80,272.83 L186.95,272.63 L187.10,273.04 L187.25,272.17 L187.40,272.79 L187.55,272.95 L187.70,272.31 L187.85,272.09 L188.00,272.48 L188.15,272.14 L188.30,272.45 L188.45,272.67 L188.60,272.04 L188.75,272.03 L188.90,272.34 L189.05,272.01 L189.20,272.02 L189.35,272.15 L189.50,271.81 L189.65,271.69 L189.80,271.85 L189.95,271.81 L190.10,272.00 L190.25,271.51 L190.40,270.89 L190.55,270.58 L190.70,270.26 L190.85,269.30 L191.00,268.21 L191.15,266.60 L191.30,264.46 L191.45,261.67 L191.60,258.66 L191.75,255.00 L191.90,251.08 L192.05,247.15 L192.20,243.58 L192.35,240.64 L192.50,238.90 L192.60,238.57 L192.65,238.70 L192.80,239.93 L192.95,242.50 L193.10,245.88 L193.25,249.78 L193.40,253.70 L193.55,257.39 L193.70,260.78 L193.85,263.52 L194.00,265.73 L194.15,267.75 L194.30,268.91 L194.45,269.72 L194.60,270.29 L194.75,271.13 L194.90,271.38 L195.05,271.26 L195.20,271.76 L195.35,272.11 L195.50,272.05 L195.65,271.87 L195.80,272.17 L195.95,272.32 L196.10,272.42 L196.25,272.00 L196.40,272.66 L196.55,272.84 L196.70,272.67 L196.85,272.82 L197.00,272.37 L197.15,272.93 L197.30,272.22 L197.45,272.28 L197.60,272.68 L197.75,273.02 L197.90,272.18 L198.05,272.33 L198.20,272.15 L198.35,272.59 L198.50,272.28 L198.65,272.34 L198.80,272.96 L198.95,272.79 L199.10,273.18 L199.25,272.60 L199.40,272.92 L199.55,272.19 L199.70,273.23 L199.85,272.44 L200.00,272.72 L200.15,272.76 L200.30,273.25 L200.45,272.75 L200.60,273.31 L200.75,272.90 L200.90,272.45 L201.05,273.15 L201.20,272.44 L201.35,273.35 L201.50,272.73 L201.65,272.47 L201.80,273.31 L201.95,272.59 L202.10,272.69 L202.25,272.62 L202.40,272.99 L202.55,272.25 L202.70,272.66 L202.85,272.42 L203.00,273.18 L203.15,272.23 L203.30,272.93 L203.45,272.53 L203.60,272.76 L203.75,272.88 L203.90,273.06 L204.05,272.40 L204.20,272.52 L204.35,272.38 L204.50,273.35 L204.65,272.41 L204.80,272.40 L204.95,272.85 L205.10,272.92 L205.25,273.27 L205.40,272.31 L205.55,272.51 L205.70,272.44 L205.85,272.92 L206.00,272.77 L206.15,272.72 L206.30,273.28 L206.45,273.01 L206.60,273.25 L206.75,273.36 L206.90,272.56 L207.05,273.34 L207.20,272.72 L207.35,272.30 L207.50,273.31 L207.65,272.37 L207.80,272.26 L207.95,272.58 L208.10,272.58 L208.25,273.38 L208.40,273.26 L208.55,272.73 L208.70,272.86 L208.85,273.24 L209.00,273.19 L209.15,273.01 L209.30,272.84 L209.45,272.38 L209.60,272.53 L209.75,273.01 L209.90,272.93 L210.05,273.18 L210.20,273.30 L210.35,273.37 L210.50,272.47 L210.65,272.33 L210.80,273.29 L210.95,272.91 L211.10,272.45 L211.25,273.05 L211.40,272.54 L211.55,272.52 L211.70,272.67 L211.85,272.85 L212.00,273.03 L212.15,272.32 L212.30,273.11 L212.45,272.97 L212.60,272.79 L212.75,273.02 L212.90,273.17 L213.05,272.24 L213.20,272.79 L213.35,273.03 L213.50,273.06 L213.65,272.99 L213.80,272.44 L213.95,273.35 L214.10,273.15 L214.25,272.50 L214.40,272.73 L214.55,273.35 L214.70,272.47 L214.85,272.70 L215.00,273.35 L215.15,273.28 L215.30,272.49 L215.45,273.08 L215.60,272.64 L215.75,273.00 L215.90,273.12 L216.05,272.37 L216.20,272.48 L216.35,272.47 L216.50,272.53 L216.65,272.26 L216.80,272.37 L216.95,272.69 L217.10,272.70 L217.25,272.30 L217.40,272.89 L217.55,273.30 L217.70,272.88 L217.85,272.62 L218.00,273.02 L218.15,272.71 L218.30,272.40 L218.45,272.76 L218.60,272.22 L218.75,272.97 L218.90,272.38 L219.05,272.62 L219.20,273.30 L219.35,273.07 L219.50,273.14 L219.65,272.92 L219.80,272.90 L219.95,272.98 L220.10,273.27 L220.25,272.39 L220.40,273.04 L220.55,272.50 L220.70,272.45 L220.85,273.08 L221.00,272.82 L221.15,273.10 L221.30,273.12 L221.45,272.79 L221.60,272.35 L221.75,272.13 L221.90,272.70 L222.05,272.90 L222.20,272.39 L222.35,272.16 L222.50,272.08 L222.65,272.25 L222.80,272.79 L222.95,272.03 L223.10,272.25 L223.25,272.27 L223.40,272.70 L223.55,272.93 L223.70,271.93 L223.85,271.98 L224.00,272.69 L224.15,272.62 L224.30,271.75 L224.45,271.74 L224.60,271.62 L224.75,271.11 L224.90,270.67 L225.05,270.00 L225.20,269.00 L225.35,267.80 L225.50,266.47 L225.65,264.94 L225.80,263.24 L225.95,261.64 L226.10,260.08 L226.25,258.75 L226.40,258.07 L226.50,257.91 L226.55,257.90 L226.70,258.47 L226.85,259.53 L227.00,261.14 L227.15,262.76 L227.30,264.36 L227.45,265.98 L227.60,267.58 L227.75,268.69 L227.90,269.83 L228.05,270.34 L228.20,271.26 L228.35,271.70 L228.50,271.46 L228.65,272.06 L228.80,271.86 L228.95,272.43 L229.10,272.60 L229.25,272.65 L229.40,272.14 L229.55,272.03 L229.70,272.64 L229.85,272.57 L230.00,272.15 L230.15,272.22 L230.30,272.65 L230.45,272.16 L230.60,272.74 L230.75,272.32 L230.90,272.35 L231.05,272.54 L231.20,272.67 L231.35,272.89 L231.50,272.13 L231.65,272.91 L231.80,272.35 L231.95,272.43 L232.10,272.83 L232.25,272.89 L232.40,272.81 L232.55,273.14 L232.70,272.35 L232.85,272.48 L233.00,272.88 L233.15,272.42 L233.30,272.31 L233.45,272.39 L233.60,273.01 L233.75,273.08 L233.90,272.95 L234.05,273.23 L234.20,273.05 L234.35,272.49 L234.50,272.50 L234.65,272.97 L234.80,272.20 L234.95,272.84 L235.10,272.24 L235.25,272.19 L235.40,272.73 L235.55,272.31 L235.70,273.21 L235.85,273.15 L236.00,272.67 L236.15,272.36 L236.30,272.27 L236.45,272.71 L236.60,272.73 L236.75,272.54 L236.90,272.95 L237.05,272.73 L237.20,273.01 L237.35,272.24 L237.50,272.20 L237.65,272.56 L237.80,272.66 L237.95,272.39 L238.10,272.86 L238.25,272.35 L238.40,272.45 L238.55,272.62 L238.70,272.87 L238.85,272.92 L239.00,272.46 L239.15,272.52 L239.30,273.00 L239.45,272.94 L239.60,272.55 L239.75,271.95 L239.90,272.18 L240.05,272.21 L240.20,271.72 L240.35,271.34 L240.50,271.80 L240.65,271.45 L240.80,270.65 L240.95,270.55 L241.10,270.33 L241.25,269.89 L241.40,269.56 L241.55,269.74 L241.70,269.69 L241.70,269.54 L241.85,269.42 L242.00,269.71 L242.15,269.78 L242.30,270.51 L242.45,270.31 L242.60,270.74 L242.75,271.35 L242.90,271.18 L243.05,271.38 L243.20,271.54 L243.35,271.78 L243.50,272.25 L243.65,272.65 L243.80,272.07 L243.95,272.13 L244.10,272.81 L244.25,272.48 L244.40,272.41 L244.55,272.18 L244.70,272.33 L244.85,273.16 L245.00,272.20 L245.15,272.37 L245.30,272.92 L245.45,273.10 L245.60,273.12 L245.75,272.63 L245.90,273.19 L246.05,272.79 L246.20,272.43 L246.35,272.63 L246.50,272.92 L246.65,272.94 L246.80,272.25 L246.95,272.32 L247.10,273.21 L247.25,272.22 L247.40,273.04 L247.55,272.49 L247.70,272.39 L247.85,272.40 L248.00,272.64 L248.15,273.25 L248.30,272.27 L248.45,273.09 L248.60,272.47 L248.75,272.30 L248.90,272.96 L249.05,272.49 L249.20,272.31 L249.35,272.58 L249.50,273.04 L249.65,273.09 L249.80,272.75 L249.95,272.10 L250.10,272.96 L250.25,272.78 L250.40,273.12 L250.55,273.17 L250.70,272.45 L250.85,273.05 L251.00,273.01 L251.15,272.37 L251.30,272.48 L251.45,272.49 L251.60,272.46 L251.75,272.49 L251.90,272.18 L252.05,272.31 L252.20,273.07 L252.35,272.50 L252.50,272.75 L252.65,273.02 L252.80,272.86 L252.95,272.29 L253.10,273.02 L253.25,272.88 L253.40,273.07 L253.55,272.77 L253.70,272.78 L253.85,272.83 L254.00,272.21 L254.15,272.62 L254.30,272.31 L254.45,272.76 L254.60,272.00 L254.75,272.38 L254.90,272.13 L255.05,272.54 L255.20,272.01 L255.35,272.35 L255.50,272.18 L255.65,271.96 L255.80,271.09 L255.95,271.17 L256.10,270.42 L256.25,269.57 L256.40,268.53 L256.55,267.09 L256.70,265.90 L256.85,264.23 L257.00,262.58 L257.15,261.00 L257.30,259.75 L257.45,258.85 L257.60,258.54 L257.60,258.45 L257.75,258.78 L257.90,259.66 L258.05,260.95 L258.20,262.55 L258.35,264.11 L258.50,265.88 L258.65,267.15 L258.80,268.30 L258.95,269.29 L259.10,270.41 L259.25,270.70 L259.40,271.31 L259.55,271.57 L259.70,272.13 L259.85,272.44 L260.00,271.96 L260.15,272.35 L260.30,272.67 L260.45,272.29 L260.60,272.77 L260.75,272.63 L260.90,272.22 L261.05,272.83 L261.20,272.54 L261.35,272.05 L261.50,272.59 L261.65,272.86 L261.80,272.54 L261.95,272.51 L262.10,272.45 L262.25,272.97 L262.40,272.74 L262.55,272.24 L262.70,272.42 L262.85,272.42 L263.00,273.10 L263.15,272.81" fill="none" stroke="#12921c" stroke-width="0.75" stroke-linejoin="round"/>
<line x1="34.10" y1="8.50" x2="34.10" y2="279.00" stroke="#1a1a1a" stroke-width="1.3"/>
<line x1="263.50" y1="8.50" x2="263.50" y2="279.00" stroke="#1a1a1a" stroke-width="1.3"/>
<line x1="33.45" y1="8.50" x2="264.15" y2="8.50" stroke="#1a1a1a" stroke-width="1.3"/>
<line x1="33.45" y1="98.30" x2="264.15" y2="98.30" stroke="#1a1a1a" stroke-width="1.3"/>
<line x1="33.45" y1="188.30" x2="264.15" y2="188.30" stroke="#1a1a1a" stroke-width="1.3"/>
<line x1="33.45" y1="279.00" x2="264.15" y2="279.00" stroke="#1a1a1a" stroke-width="1.3"/>
<line x1="42.29" y1="8.50" x2="42.29" y2="10.40" stroke="#1a1a1a" stroke-width="0.9"/>
<line x1="42.29" y1="98.30" x2="42.29" y2="96.40" stroke="#1a1a1a" stroke-width="0.9"/>
<line x1="42.29" y1="188.30" x2="42.29" y2="186.40" stroke="#1a1a1a" stroke-width="0.9"/>
<line x1="42.29" y1="279.00" x2="42.29" y2="277.10" stroke="#1a1a1a" stroke-width="0.9"/>
<line x1="50.49" y1="8.50" x2="50.49" y2="11.70" stroke="#1a1a1a" stroke-width="0.9"/>
<line x1="50.49" y1="98.30" x2="50.49" y2="95.10" stroke="#1a1a1a" stroke-width="0.9"/>
<line x1="50.49" y1="188.30" x2="50.49" y2="185.10" stroke="#1a1a1a" stroke-width="0.9"/>
<line x1="50.49" y1="279.00" x2="50.49" y2="275.80" stroke="#1a1a1a" stroke-width="0.9"/>
<line x1="58.68" y1="8.50" x2="58.68" y2="10.40" stroke="#1a1a1a" stroke-width="0.9"/>
<line x1="58.68" y1="98.30" x2="58.68" y2="96.40" stroke="#1a1a1a" stroke-width="0.9"/>
<line x1="58.68" y1="188.30" x2="58.68" y2="186.40" stroke="#1a1a1a" stroke-width="0.9"/>
<line x1="58.68" y1="279.00" x2="58.68" y2="277.10" stroke="#1a1a1a" stroke-width="0.9"/>
<line x1="66.87" y1="8.50" x2="66.87" y2="11.70" stroke="#1a1a1a" stroke-width="0.9"/>
<line x1="66.87" y1="98.30" x2="66.87" y2="95.10" stroke="#1a1a1a" stroke-width="0.9"/>
<line x1="66.87" y1="188.30" x2="66.87" y2="185.10" stroke="#1a1a1a" stroke-width="0.9"/>
<line x1="66.87" y1="279.00" x2="66.87" y2="275.80" stroke="#1a1a1a" stroke-width="0.9"/>
<line x1="75.06" y1="8.50" x2="75.06" y2="10.40" stroke="#1a1a1a" stroke-width="0.9"/>
<line x1="75.06" y1="98.30" x2="75.06" y2="96.40" stroke="#1a1a1a" stroke-width="0.9"/>
<line x1="75.06" y1="188.30" x2="75.06" y2="186.40" stroke="#1a1a1a" stroke-width="0.9"/>
<line x1="75.06" y1="279.00" x2="75.06" y2="277.10" stroke="#1a1a1a" stroke-width="0.9"/>
<line x1="83.26" y1="8.50" x2="83.26" y2="11.70" stroke="#1a1a1a" stroke-width="0.9"/>
<line x1="83.26" y1="98.30" x2="83.26" y2="95.10" stroke="#1a1a1a" stroke-width="0.9"/>
<line x1="83.26" y1="188.30" x2="83.26" y2="185.10" stroke="#1a1a1a" stroke-width="0.9"/>
<line x1="83.26" y1="279.00" x2="83.26" y2="275.80" stroke="#1a1a1a" stroke-width="0.9"/>
<line x1="91.45" y1="8.50" x2="91.45" y2="10.40" stroke="#1a1a1a" stroke-width="0.9"/>
<line x1="91.45" y1="98.30" x2="91.45" y2="96.40" stroke="#1a1a1a" stroke-width="0.9"/>
<line x1="91.45" y1="188.30" x2="91.45" y2="186.40" stroke="#1a1a1a" stroke-width="0.9"/>
<line x1="91.45" y1="279.00" x2="91.45" y2="277.10" stroke="#1a1a1a" stroke-width="0.9"/>
<line x1="99.64" y1="8.50" x2="99.64" y2="11.70" stroke="#1a1a1a" stroke-width="0.9"/>
<line x1="99.64" y1="98.30" x2="99.64" y2="95.10" stroke="#1a1a1a" stroke-width="0.9"/>
<line x1="99.64" y1="188.30" x2="99.64" y2="185.10" stroke="#1a1a1a" stroke-width="0.9"/>
<line x1="99.64" y1="279.00" x2="99.64" y2="275.80" stroke="#1a1a1a" stroke-width="0.9"/>
<line x1="107.84" y1="8.50" x2="107.84" y2="10.40" stroke="#1a1a1a" stroke-width="0.9"/>
<line x1="107.84" y1="98.30" x2="107.84" y2="96.40" stroke="#1a1a1a" stroke-width="0.9"/>
<line x1="107.84" y1="188.30" x2="107.84" y2="186.40" stroke="#1a1a1a" stroke-width="0.9"/>
<line x1="107.84" y1="279.00" x2="107.84" y2="277.10" stroke="#1a1a1a" stroke-width="0.9"/>
<line x1="116.03" y1="8.50" x2="116.03" y2="11.70" stroke="#1a1a1a" stroke-width="0.9"/>
<line x1="116.03" y1="98.30" x2="116.03" y2="95.10" stroke="#1a1a1a" stroke-width="0.9"/>
<line x1="116.03" y1="188.30" x2="116.03" y2="185.10" stroke="#1a1a1a" stroke-width="0.9"/>
<line x1="116.03" y1="279.00" x2="116.03" y2="275.80" stroke="#1a1a1a" stroke-width="0.9"/>
<line x1="124.22" y1="8.50" x2="124.22" y2="10.40" stroke="#1a1a1a" stroke-width="0.9"/>
<line x1="124.22" y1="98.30" x2="124.22" y2="96.40" stroke="#1a1a1a" stroke-width="0.9"/>
<line x1="124.22" y1="188.30" x2="124.22" y2="186.40" stroke="#1a1a1a" stroke-width="0.9"/>
<line x1="124.22" y1="279.00" x2="124.22" y2="277.10" stroke="#1a1a1a" stroke-width="0.9"/>
<line x1="132.41" y1="8.50" x2="132.41" y2="11.70" stroke="#1a1a1a" stroke-width="0.9"/>
<line x1="132.41" y1="98.30" x2="132.41" y2="95.10" stroke="#1a1a1a" stroke-width="0.9"/>
<line x1="132.41" y1="188.30" x2="132.41" y2="185.10" stroke="#1a1a1a" stroke-width="0.9"/>
<line x1="132.41" y1="279.00" x2="132.41" y2="275.80" stroke="#1a1a1a" stroke-width="0.9"/>
<line x1="140.61" y1="8.50" x2="140.61" y2="10.40" stroke="#1a1a1a" stroke-width="0.9"/>
<line x1="140.61" y1="98.30" x2="140.61" y2="96.40" stroke="#1a1a1a" stroke-width="0.9"/>
<line x1="140.61" y1="188.30" x2="140.61" y2="186.40" stroke="#1a1a1a" stroke-width="0.9"/>
<line x1="140.61" y1="279.00" x2="140.61" y2="277.10" stroke="#1a1a1a" stroke-width="0.9"/>
<line x1="148.80" y1="8.50" x2="148.80" y2="11.70" stroke="#1a1a1a" stroke-width="0.9"/>
<line x1="148.80" y1="98.30" x2="148.80" y2="95.10" stroke="#1a1a1a" stroke-width="0.9"/>
<line x1="148.80" y1="188.30" x2="148.80" y2="185.10" stroke="#1a1a1a" stroke-width="0.9"/>
<line x1="148.80" y1="279.00" x2="148.80" y2="275.80" stroke="#1a1a1a" stroke-width="0.9"/>
<line x1="156.99" y1="8.50" x2="156.99" y2="10.40" stroke="#1a1a1a" stroke-width="0.9"/>
<line x1="156.99" y1="98.30" x2="156.99" y2="96.40" stroke="#1a1a1a" stroke-width="0.9"/>
<line x1="156.99" y1="188.30" x2="156.99" y2="186.40" stroke="#1a1a1a" stroke-width="0.9"/>
<line x1="156.99" y1="279.00" x2="156.99" y2="277.10" stroke="#1a1a1a" stroke-width="0.9"/>
<line x1="165.19" y1="8.50" x2="165.19" y2="11.70" stroke="#1a1a1a" stroke-width="0.9"/>
<line x1="165.19" y1="98.30" x2="165.19" y2="95.10" stroke="#1a1a1a" stroke-width="0.9"/>
<line x1="165.19" y1="188.30" x2="165.19" y2="185.10" stroke="#1a1a1a" stroke-width="0.9"/>
<line x1="165.19" y1="279.00" x2="165.19" y2="275.80" stroke="#1a1a1a" stroke-width="0.9"/>
<line x1="173.38" y1="8.50" x2="173.38" y2="10.40" stroke="#1a1a1a" stroke-width="0.9"/>
<line x1="173.38" y1="98.30" x2="173.38" y2="96.40" stroke="#1a1a1a" stroke-width="0.9"/>
<line x1="173.38" y1="188.30" x2="173.38" y2="186.40" stroke="#1a1a1a" stroke-width="0.9"/>
<line x1="173.38" y1="279.00" x2="173.38" y2="277.10" stroke="#1a1a1a" stroke-width="0.9"/>
<line x1="181.57" y1="8.50" x2="181.57" y2="11.70" stroke="#1a1a1a" stroke-width="0.9"/>
<line x1="181.57" y1="98.30" x2="181.57" y2="95.10" stroke="#1a1a1a" stroke-width="0.9"/>
<line x1="181.57" y1="188.30" x2="181.57" y2="185.10" stroke="#1a1a1a" stroke-width="0.9"/>
<line x1="181.57" y1="279.00" x2="181.57" y2="275.80" stroke="#1a1a1a" stroke-width="0.9"/>
<line x1="189.76" y1="8.50" x2="189.76" y2="10.40" stroke="#1a1a1a" stroke-width="0.9"/>
<line x1="189.76" y1="98.30" x2="189.76" y2="96.40" stroke="#1a1a1a" stroke-width="0.9"/>
<line x1="189.76" y1="188.30" x2="189.76" y2="186.40" stroke="#1a1a1a" stroke-width="0.9"/>
<line x1="189.76" y1="279.00" x2="189.76" y2="277.10" stroke="#1a1a1a" stroke-width="0.9"/>
<line x1="197.96" y1="8.50" x2="197.96" y2="11.70" stroke="#1a1a1a" stroke-width="0.9"/>
<line x1="197.96" y1="98.30" x2="197.96" y2="95.10" stroke="#1a1a1a" stroke-width="0.9"/>
<line x1="197.96" y1="188.30" x2="197.96" y2="185.10" stroke="#1a1a1a" stroke-width="0.9"/>
<line x1="197.96" y1="279.00" x2="197.96" y2="275.80" stroke="#1a1a1a" stroke-width="0.9"/>
<line x1="206.15" y1="8.50" x2="206.15" y2="10.40" stroke="#1a1a1a" stroke-width="0.9"/>
<line x1="206.15" y1="98.30" x2="206.15" y2="96.40" stroke="#1a1a1a" stroke-width="0.9"/>
<line x1="206.15" y1="188.30" x2="206.15" y2="186.40" stroke="#1a1a1a" stroke-width="0.9"/>
<line x1="206.15" y1="279.00" x2="206.15" y2="277.10" stroke="#1a1a1a" stroke-width="0.9"/>
<line x1="214.34" y1="8.50" x2="214.34" y2="11.70" stroke="#1a1a1a" stroke-width="0.9"/>
<line x1="214.34" y1="98.30" x2="214.34" y2="95.10" stroke="#1a1a1a" stroke-width="0.9"/>
<line x1="214.34" y1="188.30" x2="214.34" y2="185.10" stroke="#1a1a1a" stroke-width="0.9"/>
<line x1="214.34" y1="279.00" x2="214.34" y2="275.80" stroke="#1a1a1a" stroke-width="0.9"/>
<line x1="222.54" y1="8.50" x2="222.54" y2="10.40" stroke="#1a1a1a" stroke-width="0.9"/>
<line x1="222.54" y1="98.30" x2="222.54" y2="96.40" stroke="#1a1a1a" stroke-width="0.9"/>
<line x1="222.54" y1="188.30" x2="222.54" y2="186.40" stroke="#1a1a1a" stroke-width="0.9"/>
<line x1="222.54" y1="279.00" x2="222.54" y2="277.10" stroke="#1a1a1a" stroke-width="0.9"/>
<line x1="230.73" y1="8.50" x2="230.73" y2="11.70" stroke="#1a1a1a" stroke-width="0.9"/>
<line x1="230.73" y1="98.30" x2="230.73" y2="95.10" stroke="#1a1a1a" stroke-width="0.9"/>
<line x1="230.73" y1="188.30" x2="230.73" y2="185.10" stroke="#1a1a1a" stroke-width="0.9"/>
<line x1="230.73" y1="279.00" x2="230.73" y2="275.80" stroke="#1a1a1a" stroke-width="0.9"/>
<line x1="238.92" y1="8.50" x2="238.92" y2="10.40" stroke="#1a1a1a" stroke-width="0.9"/>
<line x1="238.92" y1="98.30" x2="238.92" y2="96.40" stroke="#1a1a1a" stroke-width="0.9"/>
<line x1="238.92" y1="188.30" x2="238.92" y2="186.40" stroke="#1a1a1a" stroke-width="0.9"/>
<line x1="238.92" y1="279.00" x2="238.92" y2="277.10" stroke="#1a1a1a" stroke-width="0.9"/>
<line x1="247.11" y1="8.50" x2="247.11" y2="11.70" stroke="#1a1a1a" stroke-width="0.9"/>
<line x1="247.11" y1="98.30" x2="247.11" y2="95.10" stroke="#1a1a1a" stroke-width="0.9"/>
<line x1="247.11" y1="188.30" x2="247.11" y2="185.10" stroke="#1a1a1a" stroke-width="0.9"/>
<line x1="247.11" y1="279.00" x2="247.11" y2="275.80" stroke="#1a1a1a" stroke-width="0.9"/>
<line x1="255.31" y1="8.50" x2="255.31" y2="10.40" stroke="#1a1a1a" stroke-width="0.9"/>
<line x1="255.31" y1="98.30" x2="255.31" y2="96.40" stroke="#1a1a1a" stroke-width="0.9"/>
<line x1="255.31" y1="188.30" x2="255.31" y2="186.40" stroke="#1a1a1a" stroke-width="0.9"/>
<line x1="255.31" y1="279.00" x2="255.31" y2="277.10" stroke="#1a1a1a" stroke-width="0.9"/>
<line x1="34.10" y1="88.50" x2="37.30" y2="88.50" stroke="#1a1a1a" stroke-width="0.9"/>
<line x1="263.50" y1="88.50" x2="260.30" y2="88.50" stroke="#1a1a1a" stroke-width="0.9"/>
<line x1="34.10" y1="72.50" x2="37.30" y2="72.50" stroke="#1a1a1a" stroke-width="0.9"/>
<line x1="263.50" y1="72.50" x2="260.30" y2="72.50" stroke="#1a1a1a" stroke-width="0.9"/>
<line x1="34.10" y1="56.50" x2="37.30" y2="56.50" stroke="#1a1a1a" stroke-width="0.9"/>
<line x1="263.50" y1="56.50" x2="260.30" y2="56.50" stroke="#1a1a1a" stroke-width="0.9"/>
<line x1="34.10" y1="40.50" x2="37.30" y2="40.50" stroke="#1a1a1a" stroke-width="0.9"/>
<line x1="263.50" y1="40.50" x2="260.30" y2="40.50" stroke="#1a1a1a" stroke-width="0.9"/>
<line x1="34.10" y1="24.50" x2="37.30" y2="24.50" stroke="#1a1a1a" stroke-width="0.9"/>
<line x1="263.50" y1="24.50" x2="260.30" y2="24.50" stroke="#1a1a1a" stroke-width="0.9"/>
<line x1="34.10" y1="96.50" x2="36.00" y2="96.50" stroke="#1a1a1a" stroke-width="0.9"/>
<line x1="263.50" y1="96.50" x2="261.60" y2="96.50" stroke="#1a1a1a" stroke-width="0.9"/>
<line x1="34.10" y1="80.50" x2="36.00" y2="80.50" stroke="#1a1a1a" stroke-width="0.9"/>
<line x1="263.50" y1="80.50" x2="261.60" y2="80.50" stroke="#1a1a1a" stroke-width="0.9"/>
<line x1="34.10" y1="64.50" x2="36.00" y2="64.50" stroke="#1a1a1a" stroke-width="0.9"/>
<line x1="263.50" y1="64.50" x2="261.60" y2="64.50" stroke="#1a1a1a" stroke-width="0.9"/>
<line x1="34.10" y1="48.50" x2="36.00" y2="48.50" stroke="#1a1a1a" stroke-width="0.9"/>
<line x1="263.50" y1="48.50" x2="261.60" y2="48.50" stroke="#1a1a1a" stroke-width="0.9"/>
<line x1="34.10" y1="32.50" x2="36.00" y2="32.50" stroke="#1a1a1a" stroke-width="0.9"/>
<line x1="263.50" y1="32.50" x2="261.60" y2="32.50" stroke="#1a1a1a" stroke-width="0.9"/>
<line x1="34.10" y1="16.50" x2="36.00" y2="16.50" stroke="#1a1a1a" stroke-width="0.9"/>
<line x1="263.50" y1="16.50" x2="261.60" y2="16.50" stroke="#1a1a1a" stroke-width="0.9"/>
<text x="30.20" y="10.20" font-family="'Liberation Sans', Arial, sans-serif" font-size="7.0" font-weight="normal" text-anchor="end" fill="#000" >3000</text>
<text x="30.20" y="26.26" font-family="'Liberation Sans', Arial, sans-serif" font-size="7.0" font-weight="normal" text-anchor="end" fill="#000" >2500</text>
<text x="30.20" y="42.32" font-family="'Liberation Sans', Arial, sans-serif" font-size="7.0" font-weight="normal" text-anchor="end" fill="#000" >2000</text>
<text x="30.20" y="58.38" font-family="'Liberation Sans', Arial, sans-serif" font-size="7.0" font-weight="normal" text-anchor="end" fill="#000" >1500</text>
<text x="30.20" y="74.44" font-family="'Liberation Sans', Arial, sans-serif" font-size="7.0" font-weight="normal" text-anchor="end" fill="#000" >1000</text>
<text x="30.20" y="90.50" font-family="'Liberation Sans', Arial, sans-serif" font-size="7.0" font-weight="normal" text-anchor="end" fill="#000" >500</text>
<line x1="132.40" y1="17.60" x2="152.00" y2="17.60" stroke="#ff9090" stroke-width="1.3"/>
<text x="154.70" y="20.90" font-family="'Liberation Sans', Arial, sans-serif" font-size="8.7" font-weight="normal" text-anchor="start" fill="#000" >LaMnO<tspan font-size="5.3" dy="3.9">3</tspan><tspan dy="-3.9">: </tspan>Ag/PVP (P11)</text>
<line x1="34.10" y1="169.50" x2="37.30" y2="169.50" stroke="#1a1a1a" stroke-width="0.9"/>
<line x1="263.50" y1="169.50" x2="260.30" y2="169.50" stroke="#1a1a1a" stroke-width="0.9"/>
<line x1="34.10" y1="145.50" x2="37.30" y2="145.50" stroke="#1a1a1a" stroke-width="0.9"/>
<line x1="263.50" y1="145.50" x2="260.30" y2="145.50" stroke="#1a1a1a" stroke-width="0.9"/>
<line x1="34.10" y1="121.50" x2="37.30" y2="121.50" stroke="#1a1a1a" stroke-width="0.9"/>
<line x1="263.50" y1="121.50" x2="260.30" y2="121.50" stroke="#1a1a1a" stroke-width="0.9"/>
<line x1="34.10" y1="181.50" x2="36.00" y2="181.50" stroke="#1a1a1a" stroke-width="0.9"/>
<line x1="263.50" y1="181.50" x2="261.60" y2="181.50" stroke="#1a1a1a" stroke-width="0.9"/>
<line x1="34.10" y1="157.50" x2="36.00" y2="157.50" stroke="#1a1a1a" stroke-width="0.9"/>
<line x1="263.50" y1="157.50" x2="261.60" y2="157.50" stroke="#1a1a1a" stroke-width="0.9"/>
<line x1="34.10" y1="133.50" x2="36.00" y2="133.50" stroke="#1a1a1a" stroke-width="0.9"/>
<line x1="263.50" y1="133.50" x2="261.60" y2="133.50" stroke="#1a1a1a" stroke-width="0.9"/>
<line x1="34.10" y1="110.50" x2="36.00" y2="110.50" stroke="#1a1a1a" stroke-width="0.9"/>
<line x1="263.50" y1="110.50" x2="261.60" y2="110.50" stroke="#1a1a1a" stroke-width="0.9"/>
<text x="30.20" y="100.40" font-family="'Liberation Sans', Arial, sans-serif" font-size="7.0" font-weight="normal" text-anchor="end" fill="#000" >2000</text>
<text x="30.20" y="124.05" font-family="'Liberation Sans', Arial, sans-serif" font-size="7.0" font-weight="normal" text-anchor="end" fill="#000" >1500</text>
<text x="30.20" y="147.70" font-family="'Liberation Sans', Arial, sans-serif" font-size="7.0" font-weight="normal" text-anchor="end" fill="#000" >1000</text>
<text x="30.20" y="171.35" font-family="'Liberation Sans', Arial, sans-serif" font-size="7.0" font-weight="normal" text-anchor="end" fill="#000" >500</text>
<line x1="213.20" y1="108.40" x2="232.50" y2="108.40" stroke="#707070" stroke-width="1.3"/>
<text x="235.20" y="111.30" font-family="'Liberation Sans', Arial, sans-serif" font-size="8.7" font-weight="normal" text-anchor="start" fill="#000" >PVP</text>
<line x1="34.10" y1="273.50" x2="37.30" y2="273.50" stroke="#1a1a1a" stroke-width="0.9"/>
<line x1="263.50" y1="273.50" x2="260.30" y2="273.50" stroke="#1a1a1a" stroke-width="0.9"/>
<line x1="34.10" y1="244.50" x2="37.30" y2="244.50" stroke="#1a1a1a" stroke-width="0.9"/>
<line x1="263.50" y1="244.50" x2="260.30" y2="244.50" stroke="#1a1a1a" stroke-width="0.9"/>
<line x1="34.10" y1="216.50" x2="37.30" y2="216.50" stroke="#1a1a1a" stroke-width="0.9"/>
<line x1="263.50" y1="216.50" x2="260.30" y2="216.50" stroke="#1a1a1a" stroke-width="0.9"/>
<line x1="34.10" y1="259.50" x2="36.00" y2="259.50" stroke="#1a1a1a" stroke-width="0.9"/>
<line x1="263.50" y1="259.50" x2="261.60" y2="259.50" stroke="#1a1a1a" stroke-width="0.9"/>
<line x1="34.10" y1="230.50" x2="36.00" y2="230.50" stroke="#1a1a1a" stroke-width="0.9"/>
<line x1="263.50" y1="230.50" x2="261.60" y2="230.50" stroke="#1a1a1a" stroke-width="0.9"/>
<line x1="34.10" y1="201.50" x2="36.00" y2="201.50" stroke="#1a1a1a" stroke-width="0.9"/>
<line x1="263.50" y1="201.50" x2="261.60" y2="201.50" stroke="#1a1a1a" stroke-width="0.9"/>
<text x="30.20" y="189.50" font-family="'Liberation Sans', Arial, sans-serif" font-size="7.0" font-weight="normal" text-anchor="end" fill="#000" >3000</text>
<text x="30.20" y="218.20" font-family="'Liberation Sans', Arial, sans-serif" font-size="7.0" font-weight="normal" text-anchor="end" fill="#000" >2000</text>
<text x="30.20" y="246.90" font-family="'Liberation Sans', Arial, sans-serif" font-size="7.0" font-weight="normal" text-anchor="end" fill="#000" >1000</text>
<text x="30.20" y="275.60" font-family="'Liberation Sans', Arial, sans-serif" font-size="7.0" font-weight="normal" text-anchor="end" fill="#000" >0</text>
<line x1="184.00" y1="198.00" x2="203.30" y2="198.00" stroke="#9ad49a" stroke-width="1.3"/>
<text x="205.90" y="201.10" font-family="'Liberation Sans', Arial, sans-serif" font-size="8.7" font-weight="normal" text-anchor="start" fill="#000" >LaMnO<tspan font-size="5.3" dy="3.9">3</tspan><tspan dy="-3.9">: </tspan>Ag</text>
<text x="34.10" y="288.00" font-family="'Liberation Sans', Arial, sans-serif" font-size="7.0" font-weight="normal" text-anchor="middle" fill="#000" >10</text>
<text x="50.49" y="288.00" font-family="'Liberation Sans', Arial, sans-serif" font-size="7.0" font-weight="normal" text-anchor="middle" fill="#000" >15</text>
<text x="66.87" y="288.00" font-family="'Liberation Sans', Arial, sans-serif" font-size="7.0" font-weight="normal" text-anchor="middle" fill="#000" >20</text>
<text x="83.26" y="288.00" font-family="'Liberation Sans', Arial, sans-serif" font-size="7.0" font-weight="normal" text-anchor="middle" fill="#000" >25</text>
<text x="99.64" y="288.00" font-family="'Liberation Sans', Arial, sans-serif" font-size="7.0" font-weight="normal" text-anchor="middle" fill="#000" >30</text>
<text x="116.03" y="288.00" font-family="'Liberation Sans', Arial, sans-serif" font-size="7.0" font-weight="normal" text-anchor="middle" fill="#000" >35</text>
<text x="132.41" y="288.00" font-family="'Liberation Sans', Arial, sans-serif" font-size="7.0" font-weight="normal" text-anchor="middle" fill="#000" >40</text>
<text x="148.80" y="288.00" font-family="'Liberation Sans', Arial, sans-serif" font-size="7.0" font-weight="normal" text-anchor="middle" fill="#000" >45</text>
<text x="165.19" y="288.00" font-family="'Liberation Sans', Arial, sans-serif" font-size="7.0" font-weight="normal" text-anchor="middle" fill="#000" >50</text>
<text x="181.57" y="288.00" font-family="'Liberation Sans', Arial, sans-serif" font-size="7.0" font-weight="normal" text-anchor="middle" fill="#000" >55</text>
<text x="197.96" y="288.00" font-family="'Liberation Sans', Arial, sans-serif" font-size="7.0" font-weight="normal" text-anchor="middle" fill="#000" >60</text>
<text x="214.34" y="288.00" font-family="'Liberation Sans', Arial, sans-serif" font-size="7.0" font-weight="normal" text-anchor="middle" fill="#000" >65</text>
<text x="230.73" y="288.00" font-family="'Liberation Sans', Arial, sans-serif" font-size="7.0" font-weight="normal" text-anchor="middle" fill="#000" >70</text>
<text x="247.11" y="288.00" font-family="'Liberation Sans', Arial, sans-serif" font-size="7.0" font-weight="normal" text-anchor="middle" fill="#000" >75</text>
<text x="263.50" y="288.00" font-family="'Liberation Sans', Arial, sans-serif" font-size="7.0" font-weight="normal" text-anchor="middle" fill="#000" >80</text>
<text x="149.20" y="298.00" font-family="'Liberation Sans', Arial, sans-serif" font-size="8.2" font-weight="bold" text-anchor="middle" fill="#000" >Position 2 θ (degree)</text>
<text x="10.40" y="142.80" font-family="'Liberation Sans', Arial, sans-serif" font-size="8.4" font-weight="bold" text-anchor="middle" fill="#000" transform="rotate(-90 10.40 142.80)">Intensity (a.u.)</text>
<text x="135.50" y="318.00" font-family="'Liberation Serif', 'Times New Roman', serif" font-size="12.5" font-weight="normal" text-anchor="middle" fill="#000" >(<tspan font-weight="bold">a</tspan>)</text>
<path d="M317.80,88.90 L317.92,90.95 L318.04,88.00 L318.16,89.38 L318.28,88.63 L318.40,89.25 L318.52,88.17 L318.64,86.95 L318.76,88.04 L318.88,88.74 L319.00,88.46 L319.12,86.98 L319.24,86.41 L319.36,87.81 L319.48,87.83 L319.60,85.94 L319.72,87.80 L319.84,88.01 L319.96,86.23 L320.08,85.98 L320.20,86.87 L320.32,87.43 L320.44,85.15 L320.56,85.36 L320.68,85.35 L320.80,86.47 L320.92,84.75 L321.04,85.75 L321.16,85.53 L321.28,85.97 L321.40,84.32 L321.52,86.70 L321.64,86.77 L321.76,85.41 L321.88,86.07 L322.00,84.20 L322.12,86.35 L322.24,85.26 L322.36,85.88 L322.48,86.20 L322.60,84.68 L322.72,86.37 L322.84,84.23 L322.96,83.68 L323.08,85.12 L323.20,86.31 L323.32,86.32 L323.44,86.49 L323.56,85.17 L323.68,86.44 L323.80,85.33 L323.92,84.09 L324.04,85.56 L324.16,86.09 L324.28,84.96 L324.40,85.51 L324.52,84.49 L324.64,84.55 L324.76,85.00 L324.88,85.29 L325.00,85.17 L325.12,84.05 L325.24,83.81 L325.36,84.82 L325.48,85.96 L325.60,86.07 L325.72,84.55 L325.84,84.62 L325.96,85.42 L326.08,84.41 L326.20,85.71 L326.32,86.63 L326.44,84.54 L326.56,85.70 L326.68,86.12 L326.80,86.22 L326.92,86.12 L327.04,86.13 L327.16,84.83 L327.28,86.54 L327.40,86.82 L327.52,84.22 L327.64,86.90 L327.76,85.41 L327.88,84.36 L328.00,84.32 L328.12,86.51 L328.24,86.17 L328.36,84.58 L328.48,85.54 L328.60,86.10 L328.72,87.19 L328.84,85.22 L328.96,86.53 L329.08,84.98 L329.20,84.86 L329.32,84.77 L329.44,85.53 L329.56,86.17 L329.68,85.25 L329.80,84.84 L329.92,85.03 L330.04,84.65 L330.16,84.99 L330.28,85.38 L330.40,85.96 L330.52,85.02 L330.64,85.93 L330.76,85.83 L330.88,87.44 L331.00,86.00 L331.12,87.40 L331.24,86.00 L331.36,85.20 L331.48,86.39 L331.60,85.07 L331.72,85.16 L331.84,84.89 L331.96,86.79 L332.08,87.60 L332.20,85.93 L332.32,85.80 L332.44,86.03 L332.56,85.82 L332.68,86.85 L332.80,85.97 L332.92,85.26 L333.04,87.41 L333.16,86.54 L333.28,84.86 L333.40,87.39 L333.52,87.04 L333.64,85.93 L333.76,86.76 L333.88,87.64 L334.00,86.09 L334.12,86.19 L334.24,85.79 L334.36,86.56 L334.48,86.88 L334.60,87.10 L334.72,87.74 L334.84,85.33 L334.96,85.99 L335.08,87.43 L335.20,87.24 L335.32,86.63 L335.44,86.88 L335.56,85.85 L335.68,87.65 L335.80,86.45 L335.92,85.99 L336.04,85.30 L336.16,85.08 L336.28,87.40 L336.40,87.08 L336.52,84.74 L336.64,85.60 L336.76,86.04 L336.88,86.06 L337.00,85.63 L337.12,87.19 L337.24,85.52 L337.36,86.03 L337.48,87.19 L337.60,86.29 L337.72,85.76 L337.84,85.29 L337.96,85.42 L338.08,86.05 L338.20,86.54 L338.32,84.93 L338.44,85.22 L338.56,85.23 L338.68,85.11 L338.80,86.72 L338.92,85.56 L339.04,84.73 L339.16,84.86 L339.28,86.29 L339.40,84.27 L339.52,85.82 L339.64,83.78 L339.76,84.25 L339.88,83.81 L340.00,86.01 L340.12,84.00 L340.24,84.21 L340.36,83.66 L340.48,84.23 L340.60,85.60 L340.72,85.52 L340.84,86.05 L340.96,86.11 L341.08,84.88 L341.20,85.95 L341.32,83.41 L341.44,85.87 L341.56,84.35 L341.68,83.58 L341.80,85.19 L341.92,85.48 L342.04,84.01 L342.16,83.09 L342.28,85.37 L342.40,84.96 L342.52,84.44 L342.64,85.53 L342.76,82.66 L342.88,82.66 L343.00,82.81 L343.12,82.45 L343.24,84.45 L343.36,84.17 L343.48,82.56 L343.60,82.65 L343.72,82.65 L343.84,83.88 L343.96,84.01 L344.08,84.84 L344.20,82.96 L344.32,84.75 L344.44,83.06 L344.56,82.87 L344.68,82.40 L344.80,82.28 L344.92,84.44 L345.04,84.44 L345.16,83.52 L345.28,81.87 L345.40,81.82 L345.52,81.67 L345.64,82.21 L345.76,83.30 L345.88,81.21 L346.00,82.56 L346.12,82.95 L346.24,80.95 L346.36,82.10 L346.48,83.09 L346.60,82.38 L346.72,81.94 L346.84,83.17 L346.96,82.26 L347.08,81.41 L347.20,81.51 L347.32,83.07 L347.44,82.74 L347.56,82.83 L347.68,81.68 L347.80,80.34 L347.92,80.35 L348.04,80.88 L348.16,81.70 L348.28,79.56 L348.40,81.84 L348.52,81.70 L348.64,80.78 L348.76,79.16 L348.88,81.43 L349.00,80.18 L349.12,80.84 L349.24,80.44 L349.36,80.82 L349.48,79.76 L349.60,81.31 L349.72,81.20 L349.84,81.03 L349.96,80.00 L350.08,79.01 L350.20,79.10 L350.32,78.70 L350.44,80.51 L350.56,80.10 L350.68,80.01 L350.80,80.03 L350.92,80.47 L351.04,79.50 L351.16,78.34 L351.28,79.60 L351.40,78.07 L351.52,79.06 L351.64,77.67 L351.76,79.73 L351.88,78.60 L352.00,77.94 L352.12,79.86 L352.24,77.35 L352.36,79.87 L352.48,79.36 L352.60,77.54 L352.72,79.37 L352.84,78.81 L352.96,79.80 L353.08,78.85 L353.20,78.37 L353.32,79.88 L353.44,77.36 L353.56,79.41 L353.68,77.40 L353.80,77.92 L353.92,77.43 L354.04,79.69 L354.16,78.41 L354.28,79.26 L354.40,77.86 L354.52,79.27 L354.64,79.02 L354.76,77.38 L354.88,78.56 L355.00,79.24 L355.12,77.73 L355.24,79.03 L355.36,77.92 L355.48,78.19 L355.60,79.82 L355.72,79.88 L355.84,80.04 L355.96,78.35 L356.08,78.78 L356.20,79.47 L356.32,79.32 L356.44,78.43 L356.56,79.63 L356.68,78.26 L356.80,79.87 L356.92,78.47 L357.04,77.43 L357.16,79.26 L357.28,77.50 L357.40,79.04 L357.52,77.23 L357.64,79.90 L357.76,78.61 L357.88,79.16 L358.00,77.44 L358.12,78.84 L358.24,78.12 L358.36,77.77 L358.48,79.24 L358.60,77.19 L358.72,78.19 L358.84,77.07 L358.96,77.68 L359.08,75.95 L359.20,72.57 L359.32,69.73 L359.44,67.32 L359.50,67.09 L359.56,67.50 L359.68,69.84 L359.80,73.54 L359.92,75.59 L360.04,77.08 L360.16,79.21 L360.28,78.11 L360.40,78.45 L360.52,79.39 L360.64,79.07 L360.76,78.70 L360.88,80.90 L361.00,79.73 L361.12,80.68 L361.24,79.24 L361.36,81.20 L361.48,79.28 L361.60,81.32 L361.72,80.52 L361.84,81.62 L361.96,81.09 L362.08,80.73 L362.20,80.49 L362.32,81.48 L362.44,80.32 L362.56,79.35 L362.68,81.79 L362.80,81.51 L362.92,81.19 L363.04,81.42 L363.16,79.95 L363.28,80.67 L363.40,81.78 L363.52,82.23 L363.64,82.16 L363.76,79.94 L363.88,81.53 L364.00,81.19 L364.12,80.79 L364.24,80.12 L364.36,80.07 L364.48,81.10 L364.60,81.20 L364.72,80.57 L364.84,80.91 L364.96,81.50 L365.08,82.15 L365.20,81.68 L365.32,80.45 L365.44,82.63 L365.56,81.13 L365.68,82.93 L365.80,83.03 L365.92,80.56 L366.04,81.91 L366.16,83.09 L366.28,81.40 L366.40,81.92 L366.52,81.26 L366.64,80.44 L366.76,81.00 L366.88,80.79 L367.00,81.31 L367.12,82.37 L367.24,82.20 L367.36,83.38 L367.48,82.63 L367.60,81.71 L367.72,83.49 L367.84,82.58 L367.96,82.34 L368.08,83.33 L368.20,82.78 L368.32,81.89 L368.44,82.65 L368.56,81.78 L368.68,83.80 L368.80,81.68 L368.92,83.88 L369.04,81.20 L369.16,81.07 L369.28,82.72 L369.40,81.71 L369.52,82.64 L369.64,81.51 L369.76,83.68 L369.88,83.21 L370.00,83.28 L370.12,84.03 L370.24,84.25 L370.36,83.35 L370.48,83.48 L370.60,81.39 L370.72,81.56 L370.84,82.71 L370.96,84.35 L371.08,82.42 L371.20,83.21 L371.32,81.57 L371.44,82.81 L371.56,84.28 L371.68,83.37 L371.80,84.10 L371.92,81.71 L372.04,82.30 L372.16,82.26 L372.28,84.22 L372.40,82.08 L372.52,84.57 L372.64,82.62 L372.76,84.47 L372.88,83.41 L373.00,82.86 L373.12,84.80 L373.24,83.16 L373.36,84.05 L373.48,82.20 L373.60,84.50 L373.72,84.97 L373.84,82.41 L373.96,84.32 L374.08,82.93 L374.20,82.60 L374.32,83.26 L374.44,84.17 L374.56,85.06 L374.68,85.21 L374.80,85.23 L374.92,84.16 L375.04,84.28 L375.16,82.84 L375.28,84.54 L375.40,84.05 L375.52,83.51 L375.64,85.14 L375.76,83.25 L375.88,82.95 L376.00,83.02 L376.12,83.02 L376.24,84.35 L376.36,85.01 L376.48,83.14 L376.60,84.18 L376.72,84.42 L376.84,84.41 L376.96,84.00 L377.08,84.42 L377.20,82.89 L377.32,83.05 L377.44,84.16 L377.56,83.64 L377.68,85.21 L377.80,83.72 L377.92,85.47 L378.04,83.79 L378.16,83.39 L378.28,84.56 L378.40,84.33 L378.52,84.21 L378.64,85.51 L378.76,83.95 L378.88,85.30 L379.00,85.82 L379.12,84.74 L379.24,84.92 L379.36,86.19 L379.48,85.29 L379.60,84.08 L379.72,83.79 L379.84,83.86 L379.96,84.63 L380.08,83.95 L380.20,85.62 L380.32,84.99 L380.44,84.69 L380.56,85.32 L380.68,86.59 L380.80,84.59 L380.92,84.36 L381.04,84.82 L381.16,84.91 L381.28,86.64 L381.40,86.07 L381.52,85.28 L381.64,84.54 L381.76,84.21 L381.88,84.45 L382.00,86.58 L382.12,86.01 L382.24,84.60 L382.36,85.98 L382.48,84.35 L382.60,85.67 L382.72,85.18 L382.84,84.53 L382.96,86.38 L383.08,86.32 L383.20,85.74 L383.32,84.77 L383.44,86.22 L383.56,85.55 L383.68,86.21 L383.80,84.59 L383.92,86.92 L384.04,84.36 L384.16,85.00 L384.28,85.50 L384.40,84.95 L384.52,84.64 L384.64,86.34 L384.76,87.21 L384.88,85.36 L385.00,85.18 L385.12,86.31 L385.24,85.07 L385.36,85.57 L385.48,86.37 L385.60,85.66 L385.72,84.91 L385.84,84.68 L385.96,85.97 L386.08,87.18 L386.20,86.99 L386.32,84.79 L386.44,85.86 L386.56,85.82 L386.68,85.05 L386.80,86.29 L386.92,85.83 L387.04,86.63 L387.16,85.30 L387.28,86.91 L387.40,86.59 L387.52,85.73 L387.64,84.90 L387.76,85.71 L387.88,84.85 L388.00,86.12 L388.12,86.11 L388.24,85.79 L388.36,86.59 L388.48,84.56 L388.60,85.87 L388.72,85.94 L388.84,84.52 L388.96,84.80 L389.08,84.21 L389.20,84.88 L389.32,84.78 L389.44,83.80 L389.56,83.47 L389.68,81.89 L389.80,80.09 L389.92,76.54 L390.04,71.87 L390.16,64.78 L390.28,55.87 L390.40,45.72 L390.52,35.47 L390.64,26.90 L390.76,22.32 L390.80,21.97 L390.88,23.35 L391.00,29.56 L391.12,39.00 L391.24,49.57 L391.36,59.55 L391.48,67.68 L391.60,73.97 L391.72,78.51 L391.84,81.79 L391.96,83.82 L392.08,84.25 L392.20,85.73 L392.32,86.07 L392.44,86.57 L392.56,86.39 L392.68,87.31 L392.80,86.91 L392.92,87.68 L393.04,87.07 L393.16,86.42 L393.28,87.21 L393.40,87.23 L393.52,86.98 L393.64,87.14 L393.76,87.53 L393.88,87.78 L394.00,86.96 L394.12,87.14 L394.24,87.74 L394.36,87.79 L394.48,87.62 L394.60,88.29 L394.72,87.09 L394.84,88.03 L394.96,87.39 L395.08,88.73 L395.20,88.59 L395.32,88.83 L395.44,88.15 L395.56,87.46 L395.68,89.32 L395.80,88.22 L395.92,87.87 L396.04,87.67 L396.16,88.00 L396.28,88.87 L396.40,89.20 L396.52,88.28 L396.64,89.00 L396.76,87.57 L396.88,88.26 L397.00,88.02 L397.12,87.89 L397.24,88.06 L397.36,89.19 L397.48,89.15 L397.60,87.68 L397.72,87.77 L397.84,89.35 L397.96,89.00 L398.08,89.08 L398.20,88.98 L398.32,89.16 L398.44,87.97 L398.56,87.38 L398.68,88.25 L398.80,87.32 L398.92,90.02 L399.04,88.77 L399.16,89.20 L399.28,90.08 L399.40,89.62 L399.52,87.97 L399.64,88.30 L399.76,87.65 L399.88,89.66 L400.00,89.50 L400.12,88.79 L400.24,88.46 L400.36,88.18 L400.48,88.83 L400.60,89.50 L400.72,90.05 L400.84,89.92 L400.96,89.99 L401.08,88.76 L401.20,88.72 L401.32,88.42 L401.44,90.36 L401.56,88.06 L401.68,88.00 L401.80,88.38 L401.92,90.27 L402.04,90.08 L402.16,88.57 L402.28,90.11 L402.40,90.23 L402.52,88.89 L402.64,88.21 L402.76,89.93 L402.88,88.78 L403.00,88.04 L403.12,90.36 L403.24,89.01 L403.36,88.90 L403.48,89.50 L403.60,88.51 L403.72,87.83 L403.84,88.93 L403.96,88.92 L404.08,87.85 L404.20,88.92 L404.32,90.08 L404.44,88.84 L404.56,89.87 L404.68,89.72 L404.80,88.45 L404.92,87.97 L405.04,89.91 L405.16,89.74 L405.28,88.82 L405.40,88.55 L405.52,90.50 L405.64,90.67 L405.76,88.69 L405.88,89.74 L406.00,89.72 L406.12,88.99 L406.24,88.17 L406.36,89.03 L406.48,89.98 L406.60,89.87 L406.72,89.61 L406.84,88.48 L406.96,88.76 L407.08,89.07 L407.20,89.39 L407.32,89.24 L407.44,90.84 L407.56,88.54 L407.68,91.11 L407.80,88.93 L407.92,90.76 L408.04,88.97 L408.16,89.99 L408.28,89.38 L408.40,88.40 L408.52,90.64 L408.64,90.69 L408.76,89.11 L408.88,90.61 L409.00,89.75 L409.12,91.25 L409.24,88.53 L409.36,89.50 L409.48,89.06 L409.60,90.23 L409.72,90.69 L409.84,90.89 L409.96,90.04 L410.08,89.58 L410.20,90.79 L410.32,88.77 L410.44,89.24 L410.56,90.68 L410.68,89.78 L410.80,91.39 L410.92,88.78 L411.04,89.87 L411.16,89.15 L411.28,88.56 L411.40,88.83 L411.52,88.83 L411.64,89.63 L411.76,89.82 L411.88,90.04 L412.00,89.42 L412.12,90.60 L412.24,90.07 L412.36,91.38 L412.48,89.10 L412.60,90.05 L412.72,90.00 L412.84,89.66 L412.96,90.99 L413.08,89.21 L413.20,91.00 L413.32,89.59 L413.44,89.51 L413.56,90.20 L413.68,90.02 L413.80,89.26 L413.92,88.71 L414.04,90.45 L414.16,88.93 L414.28,88.07 L414.40,88.27 L414.52,87.16 L414.64,85.76 L414.76,84.34 L414.88,83.10 L415.00,81.23 L415.12,79.99 L415.24,79.49 L415.30,79.12 L415.36,79.24 L415.48,79.89 L415.60,81.45 L415.72,83.05 L415.84,84.51 L415.96,85.92 L416.08,86.92 L416.20,88.58 L416.32,88.79 L416.44,89.98 L416.56,89.39 L416.68,90.40 L416.80,88.86 L416.92,89.39 L417.04,91.34 L417.16,90.68 L417.28,90.72 L417.40,90.28 L417.52,90.25 L417.64,89.53 L417.76,89.48 L417.88,90.81 L418.00,90.97 L418.12,89.78 L418.24,90.89 L418.36,89.48 L418.48,90.85 L418.60,89.61 L418.72,90.60 L418.84,90.06 L418.96,90.75 L419.08,89.58 L419.20,90.60 L419.32,91.00 L419.44,89.63 L419.56,90.15 L419.68,91.24 L419.80,90.88 L419.92,91.10 L420.04,91.60 L420.16,91.01 L420.28,90.01 L420.40,90.67 L420.52,91.82 L420.64,91.07 L420.76,91.64 L420.88,90.52 L421.00,90.78 L421.12,92.33 L421.24,91.91 L421.36,91.43 L421.48,89.85 L421.60,91.35 L421.72,89.67 L421.84,92.33 L421.96,92.46 L422.08,91.76 L422.20,90.42 L422.32,92.14 L422.44,90.19 L422.56,92.12 L422.68,91.23 L422.80,89.76 L422.92,92.35 L423.04,91.04 L423.16,92.20 L423.28,91.80 L423.40,91.36 L423.52,92.34 L423.64,90.41 L423.76,92.47 L423.88,90.84 L424.00,89.93 L424.12,90.85 L424.24,90.07 L424.36,90.10 L424.48,91.73 L424.60,90.26 L424.72,90.38 L424.84,90.78 L424.96,90.75 L425.08,92.65 L425.20,92.61 L425.32,92.52 L425.44,92.87 L425.56,91.26 L425.68,92.31 L425.80,90.80 L425.92,92.71 L426.04,92.37 L426.16,92.14 L426.28,90.66 L426.40,90.26 L426.52,92.71 L426.64,91.61 L426.76,91.79 L426.88,92.52 L427.00,90.41 L427.12,92.04 L427.24,91.34 L427.36,92.29 L427.48,91.31 L427.60,90.55 L427.72,92.77 L427.84,90.79 L427.96,92.14 L428.08,92.39 L428.20,90.67 L428.32,91.98 L428.44,91.10 L428.56,90.59 L428.68,90.56 L428.80,92.70 L428.92,90.98 L429.04,91.39 L429.16,91.36 L429.28,89.96 L429.40,92.07 L429.52,92.04 L429.64,92.41 L429.76,90.89 L429.88,90.45 L430.00,90.84 L430.12,91.95 L430.24,91.72 L430.36,90.98 L430.48,91.31 L430.60,90.23 L430.72,92.42 L430.84,91.13 L430.96,91.22 L431.08,92.00 L431.20,90.31 L431.32,91.79 L431.44,90.73 L431.56,92.02 L431.68,89.97 L431.80,90.47 L431.92,91.47 L432.04,91.03 L432.16,90.72 L432.28,91.27 L432.40,90.25 L432.52,90.84 L432.64,89.63 L432.76,91.80 L432.88,90.29 L433.00,91.84 L433.12,91.06 L433.24,91.17 L433.36,91.21 L433.48,89.87 L433.60,91.55 L433.72,90.26 L433.84,91.69 L433.96,91.45 L434.08,91.13 L434.20,91.42 L434.32,90.44 L434.44,90.94 L434.56,91.48 L434.68,89.67 L434.80,89.38 L434.92,89.84 L435.04,89.73 L435.16,88.72 L435.28,88.24 L435.40,88.09 L435.52,86.30 L435.64,84.46 L435.76,82.44 L435.88,80.19 L436.00,77.32 L436.12,74.70 L436.24,72.27 L436.36,70.46 L436.48,69.70 L436.50,69.78 L436.60,70.01 L436.72,71.79 L436.84,73.90 L436.96,76.55 L437.08,79.62 L437.20,82.15 L437.32,84.42 L437.44,86.02 L437.56,88.00 L437.68,88.55 L437.80,89.90 L437.92,89.64 L438.04,90.61 L438.16,91.03 L438.28,90.64 L438.40,91.01 L438.52,90.15 L438.64,91.59 L438.76,91.79 L438.88,90.53 L439.00,91.57 L439.12,92.09 L439.24,90.51 L439.36,92.46 L439.48,92.58 L439.60,90.45 L439.72,91.00 L439.84,90.58 L439.96,91.05 L440.08,90.61 L440.20,91.73 L440.32,91.09 L440.44,91.25 L440.56,91.71 L440.68,91.47 L440.80,92.65 L440.92,92.49 L441.04,90.79 L441.16,91.11 L441.28,90.51 L441.40,91.43 L441.52,90.81 L441.64,92.50 L441.76,92.75 L441.88,93.37 L442.00,91.13 L442.12,90.64 L442.24,92.72 L442.36,91.74 L442.48,93.24 L442.60,91.70 L442.72,91.47 L442.84,90.79 L442.96,93.33 L443.08,92.07 L443.20,91.87 L443.32,91.87 L443.44,92.84 L443.56,93.03 L443.68,92.00 L443.80,91.14 L443.92,91.81 L444.04,93.23 L444.16,91.82 L444.28,92.57 L444.40,92.28 L444.52,92.00 L444.64,92.33 L444.76,91.37 L444.88,92.29 L445.00,93.20 L445.12,90.90 L445.24,91.76 L445.36,93.26 L445.48,93.55 L445.60,90.73 L445.72,92.53 L445.84,92.55 L445.96,93.18 L446.08,92.08 L446.20,91.09 L446.32,91.59 L446.44,92.81 L446.56,92.86 L446.68,91.33 L446.80,92.62 L446.92,92.67 L447.04,92.67 L447.16,90.81 L447.28,92.05 L447.40,91.71 L447.52,92.51 L447.64,91.75 L447.76,91.14 L447.88,92.74 L448.00,91.62 L448.12,93.11 L448.24,91.68 L448.36,92.40 L448.48,93.17 L448.60,91.14 L448.72,92.96 L448.84,91.01 L448.96,93.57 L449.08,90.89 L449.20,92.96 L449.32,91.92 L449.44,91.37 L449.56,92.01 L449.68,92.32 L449.80,92.08 L449.92,91.22 L450.04,92.41 L450.16,91.76 L450.28,93.72 L450.40,92.01 L450.52,92.17 L450.64,91.57 L450.76,93.75 L450.88,91.86 L451.00,92.82 L451.12,93.37 L451.24,92.09 L451.36,93.16 L451.48,91.77 L451.60,91.29 L451.72,91.10 L451.84,92.29 L451.96,93.54 L452.08,91.59 L452.20,92.29 L452.32,93.23 L452.44,91.83 L452.56,91.48 L452.68,92.54 L452.80,92.28 L452.92,93.76 L453.04,93.65 L453.16,91.76 L453.28,92.69 L453.40,92.28 L453.52,91.20 L453.64,92.36 L453.76,93.67 L453.88,91.95 L454.00,92.71 L454.12,93.01 L454.24,91.26 L454.36,93.41 L454.48,91.30 L454.60,91.68 L454.72,92.47 L454.84,90.84 L454.96,91.37 L455.08,90.71 L455.20,91.05 L455.32,90.08 L455.44,90.02 L455.56,89.87 L455.68,89.47 L455.80,89.31 L455.92,89.34 L456.00,89.70 L456.04,89.27 L456.16,90.16 L456.28,89.87 L456.40,89.90 L456.52,90.16 L456.64,91.32 L456.76,90.42 L456.88,91.85 L457.00,90.97 L457.12,92.85 L457.24,91.98 L457.36,92.57 L457.48,93.36 L457.60,91.61 L457.72,91.57 L457.84,93.28 L457.96,93.06 L458.08,93.48 L458.20,92.29 L458.32,92.93 L458.44,92.07 L458.56,92.80 L458.68,92.38 L458.80,93.26 L458.92,92.46 L459.04,92.40 L459.16,93.47 L459.28,91.88 L459.40,93.96 L459.52,93.09 L459.64,92.33 L459.76,92.01 L459.88,93.16 L460.00,93.16 L460.12,93.80 L460.24,92.80 L460.36,92.92 L460.48,94.33 L460.60,92.54 L460.72,94.61 L460.84,94.36 L460.96,94.66 L461.08,94.53 L461.20,92.53 L461.32,94.17 L461.44,93.59 L461.56,92.40 L461.68,94.74 L461.80,93.72 L461.92,94.21 L462.04,93.48 L462.16,92.08 L462.28,94.39 L462.40,92.38 L462.52,92.63 L462.64,93.69 L462.76,92.46 L462.88,93.25 L463.00,94.00 L463.12,92.19 L463.24,93.86 L463.36,92.23 L463.48,93.33 L463.60,93.85 L463.72,93.97 L463.84,92.08 L463.96,92.53 L464.08,94.79 L464.20,93.13 L464.32,93.23 L464.44,93.09 L464.56,94.04 L464.68,94.18 L464.80,93.92 L464.92,93.20 L465.04,93.70 L465.16,93.55 L465.28,92.60 L465.40,94.83 L465.52,94.88 L465.64,94.34 L465.76,94.97 L465.88,93.44 L466.00,94.53 L466.12,92.80 L466.24,94.26 L466.36,94.19 L466.48,94.84 L466.60,94.54 L466.72,94.68 L466.84,92.91 L466.96,94.42 L467.08,93.52 L467.20,93.06 L467.32,93.23 L467.44,94.47 L467.56,94.60 L467.68,94.61 L467.80,94.11 L467.92,92.68 L468.04,92.64 L468.16,93.83 L468.28,92.81 L468.40,93.17 L468.52,92.51 L468.64,92.67 L468.76,94.26 L468.88,92.87 L469.00,94.62 L469.12,93.17 L469.24,94.62 L469.36,93.10 L469.48,93.00 L469.60,93.35 L469.72,92.30 L469.84,93.45 L469.96,93.30 L470.08,92.30 L470.20,94.57 L470.32,93.26 L470.44,92.27 L470.56,94.77 L470.68,92.85 L470.80,92.90 L470.92,92.30 L471.04,92.47 L471.16,93.92 L471.28,93.54 L471.40,93.27 L471.52,92.59 L471.64,92.53 L471.76,93.59 L471.88,92.17 L472.00,92.66 L472.12,91.83 L472.24,90.14 L472.36,89.93 L472.48,88.08 L472.60,87.30 L472.72,85.91 L472.84,84.33 L472.96,82.78 L473.08,81.57 L473.20,80.28 L473.32,79.82 L473.40,79.61 L473.44,79.69 L473.56,80.06 L473.68,81.17 L473.80,82.37 L473.92,83.92 L474.04,85.36 L474.16,86.84 L474.28,88.46 L474.40,89.63 L474.52,90.45 L474.64,91.00 L474.76,92.49 L474.88,92.19 L475.00,92.06 L475.12,92.74 L475.24,93.71 L475.36,94.39 L475.48,93.87 L475.60,94.01 L475.72,94.76 L475.84,94.43 L475.96,93.65 L476.08,93.72 L476.20,94.53 L476.32,93.41 L476.44,92.88 L476.56,94.26 L476.68,94.79 L476.80,93.30 L476.92,94.51 L477.04,95.10 L477.16,93.02 L477.28,93.05 L477.40,94.06 L477.52,93.63 L477.64,95.37 L477.76,95.52 L477.88,93.99 L478.00,94.98 L478.12,94.54 L478.24,93.26 L478.36,95.54 L478.48,93.28 L478.60,93.01 L478.72,94.10 L478.84,92.87 L478.96,94.21 L479.08,94.03 L479.20,95.60 L479.32,94.06 L479.44,95.33 L479.56,95.14 L479.68,94.59 L479.80,93.60 L479.92,93.80 L480.04,94.36 L480.16,94.09 L480.28,94.83 L480.40,94.44 L480.52,93.92 L480.64,94.76 L480.76,95.91 L480.88,93.60 L481.00,94.00 L481.12,93.06 L481.24,93.31 L481.36,93.21 L481.48,94.30 L481.60,95.53 L481.72,95.13 L481.84,95.94 L481.96,95.57 L482.08,94.84 L482.20,94.84 L482.32,93.18 L482.44,94.28 L482.56,93.93 L482.68,95.00 L482.80,93.38 L482.92,94.80 L483.04,94.32 L483.16,94.67 L483.28,94.42 L483.40,93.54 L483.52,95.41 L483.64,95.63 L483.76,95.04 L483.88,93.62 L484.00,95.06 L484.12,95.88 L484.24,96.23 L484.36,95.57 L484.48,93.47 L484.60,95.94 L484.72,95.32 L484.84,94.18 L484.96,96.10 L485.08,95.83 L485.20,96.04 L485.32,94.13 L485.44,95.12 L485.56,94.54 L485.68,94.30 L485.80,95.69 L485.92,95.27 L486.04,94.43 L486.16,95.07 L486.28,96.22 L486.40,95.15 L486.52,96.19 L486.64,95.17 L486.76,96.44 L486.88,93.59 L487.00,94.87 L487.12,95.15 L487.24,95.68 L487.36,96.40 L487.48,95.38 L487.60,94.96 L487.72,95.43 L487.84,95.13 L487.96,95.65 L488.08,96.37 L488.20,93.60 L488.32,94.52 L488.44,96.17 L488.56,93.75 L488.68,95.93 L488.80,93.67 L488.92,95.51 L489.04,95.96 L489.16,94.30 L489.28,94.72 L489.40,94.26 L489.52,95.69 L489.64,95.17 L489.76,95.40 L489.88,94.56 L490.00,95.34 L490.12,96.43 L490.24,95.91 L490.36,96.43 L490.48,94.33 L490.60,95.13 L490.72,94.74 L490.84,94.62 L490.96,95.98 L491.08,94.12 L491.20,95.26 L491.32,95.90 L491.44,96.38 L491.56,93.65 L491.68,94.40 L491.80,95.06 L491.92,96.38 L492.04,94.08 L492.16,96.10 L492.28,94.78 L492.40,95.22 L492.52,96.36 L492.64,93.79 L492.76,94.58 L492.88,94.06 L493.00,93.99 L493.12,94.50 L493.24,95.68 L493.36,95.32 L493.48,93.96 L493.60,95.98 L493.72,95.10 L493.84,94.02 L493.96,96.03 L494.08,96.03 L494.20,94.24 L494.32,96.39 L494.44,96.00 L494.56,94.28 L494.68,93.60 L494.80,96.17 L494.92,96.05 L495.04,93.88 L495.16,95.87 L495.28,95.89 L495.40,95.48 L495.52,96.07 L495.64,96.52 L495.76,94.57 L495.88,96.07 L496.00,96.33 L496.12,94.52 L496.24,95.62 L496.36,95.62 L496.48,96.11 L496.60,95.28 L496.72,94.41 L496.84,94.34 L496.96,95.20 L497.08,93.99 L497.20,96.14 L497.32,96.23 L497.44,94.31 L497.56,95.66 L497.68,95.59 L497.80,93.95 L497.92,95.90 L498.04,95.86 L498.16,94.50 L498.28,93.88 L498.40,94.43 L498.52,95.87 L498.64,94.97 L498.76,96.00 L498.88,94.06 L499.00,93.91 L499.12,94.62 L499.24,96.19 L499.36,94.07 L499.48,93.81 L499.60,95.81 L499.72,93.86 L499.84,95.55 L499.96,93.83 L500.08,94.31 L500.20,95.54 L500.32,96.15 L500.44,94.79 L500.56,94.91 L500.68,93.68 L500.80,94.58 L500.92,94.29 L501.04,95.89 L501.16,95.67 L501.28,95.87 L501.40,95.13 L501.52,95.62 L501.64,93.95 L501.76,94.70 L501.88,94.43 L502.00,94.40 L502.12,95.71 L502.24,94.20 L502.36,94.51 L502.48,94.39 L502.60,96.05 L502.72,95.40 L502.84,94.94 L502.96,94.65 L503.08,96.18 L503.20,96.22 L503.32,94.82 L503.44,95.14 L503.56,95.95 L503.68,94.25 L503.80,94.25 L503.92,93.81 L504.04,94.86 L504.16,95.52 L504.28,93.88 L504.40,94.54 L504.52,95.83 L504.64,94.50 L504.76,94.17 L504.88,95.02 L505.00,94.93 L505.12,93.72 L505.24,93.07 L505.36,93.73 L505.48,93.61 L505.60,93.55 L505.72,92.85 L505.84,92.08 L505.96,92.02 L506.08,91.46 L506.20,91.36 L506.32,91.14 L506.44,91.38 L506.56,91.24 L506.68,91.20 L506.70,90.77 L506.80,91.27 L506.92,90.58 L507.04,91.52 L507.16,91.48 L507.28,92.01 L507.40,91.80 L507.52,92.82 L507.64,91.91 L507.76,93.33 L507.88,93.62 L508.00,93.21 L508.12,94.24 L508.24,93.35 L508.36,94.58 L508.48,94.18 L508.60,94.19 L508.72,93.81 L508.84,95.33 L508.96,95.26 L509.08,93.70 L509.20,96.05 L509.32,94.10 L509.44,94.54 L509.56,94.67 L509.68,95.13 L509.80,96.02 L509.92,96.19 L510.04,95.34 L510.16,94.59 L510.28,93.87 L510.40,93.76 L510.52,95.04 L510.64,95.23 L510.76,94.85 L510.88,96.38 L511.00,94.75 L511.12,94.57 L511.24,94.76 L511.36,94.05 L511.48,96.27 L511.60,95.25 L511.72,95.11 L511.84,94.77 L511.96,94.25 L512.08,94.43 L512.20,94.95 L512.32,94.80 L512.44,96.35 L512.56,95.13 L512.68,94.08 L512.80,93.62 L512.92,93.92 L513.04,94.46 L513.16,95.73 L513.28,96.03 L513.40,94.10 L513.52,95.69 L513.64,94.69 L513.76,94.96 L513.88,94.93 L514.00,93.48 L514.12,93.53 L514.24,95.30 L514.36,95.35 L514.48,94.42 L514.60,96.00 L514.72,95.70 L514.84,94.15 L514.96,93.44 L515.08,94.87 L515.20,95.15 L515.32,93.87 L515.44,93.32 L515.56,94.62 L515.68,93.26 L515.80,95.33 L515.92,94.99 L516.04,93.95 L516.16,94.43 L516.28,93.78 L516.40,93.63 L516.52,93.60 L516.64,95.47 L516.76,94.38 L516.88,95.15 L517.00,94.04 L517.12,95.39 L517.24,94.75 L517.36,94.91 L517.48,94.12 L517.60,94.61 L517.72,93.50 L517.84,95.81 L517.96,94.90 L518.08,94.48 L518.20,94.78 L518.32,93.17 L518.44,93.86 L518.56,93.54 L518.68,95.35 L518.80,92.87 L518.92,94.14 L519.04,95.39 L519.16,95.13 L519.28,94.93 L519.40,93.68 L519.52,93.46 L519.64,94.86 L519.76,93.65 L519.88,94.90 L520.00,93.78 L520.12,95.00 L520.24,94.43 L520.36,95.15 L520.48,95.65 L520.60,93.84 L520.72,95.64 L520.84,92.74 L520.96,95.31 L521.08,92.79 L521.20,94.32 L521.32,93.85 L521.44,94.99 L521.56,93.63 L521.68,93.31 L521.80,95.03 L521.92,94.33 L522.04,94.95 L522.16,94.16 L522.28,92.81 L522.40,95.00 L522.52,93.36 L522.64,94.11 L522.76,92.72 L522.88,93.49 L523.00,94.70 L523.12,95.00 L523.24,94.62 L523.36,94.06 L523.48,94.92 L523.60,94.74 L523.72,93.37 L523.84,94.35 L523.96,94.54 L524.08,94.94 L524.20,93.37 L524.32,93.71 L524.44,93.82 L524.56,93.09 L524.68,93.85 L524.80,94.99 L524.92,94.54 L525.04,93.35 L525.16,95.02 L525.28,93.20 L525.40,95.09 L525.52,93.31 L525.64,93.17 L525.76,93.64 L525.88,94.43 L526.00,93.71 L526.12,95.54 L526.24,95.71 L526.36,93.78 L526.48,95.17 L526.60,95.02 L526.72,94.63 L526.84,93.73 L526.96,95.80 L527.08,95.83 L527.20,93.04 L527.32,93.99 L527.44,93.98 L527.56,93.62 L527.68,94.32 L527.80,95.71 L527.92,93.13 L528.04,95.54 L528.16,94.00 L528.28,93.13 L528.40,95.76 L528.52,93.91 L528.64,93.75 L528.76,93.47 L528.88,94.22 L529.00,93.50 L529.12,93.68 L529.24,93.90 L529.36,94.87 L529.48,94.49 L529.60,94.08 L529.72,94.74 L529.84,95.47 L529.96,95.33 L530.08,94.22 L530.20,95.91 L530.32,95.55 L530.44,94.88 L530.56,94.63 L530.68,94.21 L530.80,93.64 L530.92,95.84 L531.04,95.03 L531.16,93.55 L531.28,95.96 L531.40,95.85 L531.52,93.37 L531.64,95.30 L531.76,93.96 L531.88,94.82 L532.00,95.69 L532.12,94.29 L532.24,94.71 L532.36,95.19 L532.48,93.83 L532.60,95.07 L532.72,94.49 L532.84,96.07 L532.96,93.80 L533.08,95.28 L533.20,93.38 L533.32,94.03 L533.44,93.59 L533.56,93.67 L533.68,94.72 L533.80,93.72 L533.92,95.42 L534.04,93.49 L534.16,94.90 L534.28,95.51 L534.40,93.53 L534.52,93.74 L534.64,95.10 L534.76,94.29 L534.88,95.32 L535.00,93.81 L535.12,93.85 L535.24,94.89 L535.36,93.45 L535.48,94.42 L535.60,93.99 L535.72,92.55 L535.84,92.79 L535.96,92.98 L536.08,91.52 L536.20,92.01 L536.32,91.49 L536.44,91.02 L536.56,90.46 L536.68,89.63 L536.80,90.04 L536.92,89.06 L537.04,89.42 L537.16,89.28 L537.20,88.95 L537.28,89.26 L537.40,89.16 L537.52,89.65 L537.64,89.34 L537.76,90.47 L537.88,90.35 L538.00,91.18 L538.12,91.25 L538.24,92.06 L538.36,91.81 L538.48,92.49 L538.60,92.03 L538.72,93.03 L538.84,92.56 L538.96,94.21 L539.08,94.08 L539.20,93.71 L539.32,95.07 L539.44,95.15 L539.56,95.30 L539.68,93.21 L539.80,94.83 L539.92,94.94 L540.04,94.66 L540.16,93.10 L540.28,95.57 L540.40,94.27 L540.52,94.71 L540.64,95.33 L540.76,93.83 L540.88,93.15 L541.00,95.66 L541.12,93.83 L541.24,93.18 L541.36,93.45 L541.48,95.89 L541.60,95.17 L541.72,93.65 L541.84,93.47 L541.96,95.63 L542.08,94.96 L542.20,94.73 L542.32,93.42 L542.44,94.23 L542.56,95.78 L542.68,93.04 L542.80,94.25 L542.92,93.19 L543.04,95.93 L543.16,93.33 L543.28,95.80 L543.40,95.47 L543.52,95.15 L543.64,93.13 L543.76,95.04 L543.88,94.45 L544.00,94.44 L544.12,93.42" fill="none" stroke="#0000ff" stroke-width="0.65" stroke-linejoin="round"/>
<path d="M317.80,170.22 L318.00,170.86 L318.20,168.62 L318.40,170.62 L318.60,169.05 L318.80,168.41 L319.00,168.20 L319.20,168.78 L319.40,169.30 L319.60,169.02 L319.80,169.94 L320.00,168.77 L320.20,168.73 L320.40,170.13 L320.60,167.77 L320.80,167.15 L321.00,168.05 L321.20,167.98 L321.40,167.39 L321.60,168.25 L321.80,167.08 L322.00,169.72 L322.20,168.40 L322.40,169.57 L322.60,169.01 L322.80,169.10 L323.00,169.18 L323.20,167.81 L323.40,169.09 L323.60,167.52 L323.80,168.58 L324.00,168.73 L324.20,169.31 L324.40,167.53 L324.60,168.12 L324.80,169.63 L325.00,169.64 L325.20,170.24 L325.40,167.75 L325.60,168.11 L325.80,167.89 L326.00,169.83 L326.20,169.98 L326.40,169.78 L326.60,170.26 L326.80,169.55 L327.00,169.77 L327.20,170.93 L327.40,170.19 L327.60,170.31 L327.80,170.20 L328.00,170.01 L328.20,170.89 L328.40,170.44 L328.60,169.21 L328.80,170.20 L329.00,170.29 L329.20,170.42 L329.40,170.91 L329.60,170.41 L329.80,170.60 L330.00,170.81 L330.20,170.74 L330.40,172.64 L330.60,170.09 L330.80,169.97 L331.00,172.17 L331.20,171.29 L331.40,171.54 L331.60,172.06 L331.80,171.49 L332.00,171.20 L332.20,170.64 L332.40,173.32 L332.60,173.62 L332.80,171.77 L333.00,172.42 L333.20,172.10 L333.40,171.41 L333.60,174.02 L333.80,173.96 L334.00,172.27 L334.20,172.41 L334.40,173.83 L334.60,174.21 L334.80,173.31 L335.00,173.14 L335.20,172.75 L335.40,174.51 L335.60,174.76 L335.80,174.79 L336.00,172.59 L336.20,174.06 L336.40,175.25 L336.60,174.45 L336.80,173.68 L337.00,172.74 L337.20,172.48 L337.40,174.50 L337.60,172.51 L337.80,174.73 L338.00,174.30 L338.20,173.72 L338.40,174.97 L338.60,175.10 L338.80,174.15 L339.00,172.60 L339.20,174.07 L339.40,173.56 L339.60,173.05 L339.80,175.09 L340.00,174.49 L340.20,172.64 L340.40,172.93 L340.60,173.21 L340.80,173.83 L341.00,173.00 L341.20,173.25 L341.40,174.27 L341.60,172.26 L341.80,173.75 L342.00,172.46 L342.20,174.17 L342.40,174.06 L342.60,172.06 L342.80,172.76 L343.00,171.15 L343.20,171.93 L343.40,172.45 L343.60,172.36 L343.80,171.34 L344.00,170.26 L344.20,170.38 L344.40,171.53 L344.60,170.20 L344.80,170.44 L345.00,171.21 L345.20,171.89 L345.40,170.56 L345.60,169.61 L345.80,170.43 L346.00,169.34 L346.20,170.69 L346.40,168.65 L346.60,168.81 L346.80,169.19 L347.00,170.45 L347.20,168.09 L347.40,168.04 L347.60,167.73 L347.80,167.86 L348.00,168.09 L348.20,168.16 L348.40,169.13 L348.60,167.94 L348.80,168.03 L349.00,167.68 L349.20,168.69 L349.40,168.97 L349.60,167.42 L349.80,168.80 L350.00,166.68 L350.20,168.77 L350.40,167.31 L350.60,167.69 L350.80,166.70 L351.00,166.29 L351.20,165.81 L351.40,167.99 L351.60,166.36 L351.80,167.32 L352.00,166.56 L352.20,166.71 L352.40,165.71 L352.60,165.57 L352.80,166.01 L353.00,167.00 L353.20,166.55 L353.40,164.89 L353.60,166.98 L353.80,166.12 L354.00,164.99 L354.20,165.54 L354.40,165.38 L354.60,167.19 L354.80,166.36 L355.00,165.68 L355.20,165.45 L355.40,165.58 L355.60,165.57 L355.80,165.81 L356.00,167.19 L356.20,167.24 L356.40,167.04 L356.60,167.68 L356.80,167.07 L357.00,165.54 L357.20,165.42 L357.40,165.87 L357.60,166.24 L357.80,167.14 L358.00,168.11 L358.20,167.48 L358.40,167.09 L358.60,166.60 L358.80,168.89 L359.00,168.27 L359.20,167.11 L359.40,166.29 L359.60,169.17 L359.80,167.06 L360.00,168.91 L360.20,166.79 L360.40,168.47 L360.60,167.65 L360.80,169.32 L361.00,167.62 L361.20,167.10 L361.40,167.47 L361.60,169.36 L361.80,169.96 L362.00,169.02 L362.20,169.22 L362.40,168.09 L362.60,168.14 L362.80,167.66 L363.00,170.43 L363.20,167.69 L363.40,169.47 L363.60,168.77 L363.80,168.36 L364.00,169.19 L364.20,170.75 L364.40,168.79 L364.60,168.62 L364.80,170.10 L365.00,170.27 L365.20,169.92 L365.40,169.01 L365.60,171.18 L365.80,168.97 L366.00,169.25 L366.20,169.54 L366.40,170.44 L366.60,170.41 L366.80,170.73 L367.00,171.34 L367.20,171.92 L367.40,170.73 L367.60,169.53 L367.80,171.99 L368.00,169.63 L368.20,170.61 L368.40,170.17 L368.60,171.63 L368.80,172.25 L369.00,170.37 L369.20,170.94 L369.40,172.69 L369.60,172.28 L369.80,170.62 L370.00,172.43 L370.20,172.83 L370.40,171.75 L370.60,171.07 L370.80,172.66 L371.00,171.71 L371.20,171.23 L371.40,171.40 L371.60,172.19 L371.80,171.44 L372.00,172.29 L372.20,172.86 L372.40,172.94 L372.60,172.57 L372.80,173.83 L373.00,171.77 L373.20,172.57 L373.40,174.45 L373.60,174.32 L373.80,174.56 L374.00,174.17 L374.20,173.55 L374.40,174.38 L374.60,173.80 L374.80,172.51 L375.00,172.99 L375.20,172.59 L375.40,174.99 L375.60,173.40 L375.80,173.72 L376.00,174.18 L376.20,172.94 L376.40,174.82 L376.60,175.16 L376.80,175.22 L377.00,175.54 L377.20,173.92 L377.40,173.47 L377.60,175.38 L377.80,175.23 L378.00,174.33 L378.20,174.31 L378.40,173.80 L378.60,175.90 L378.80,174.84 L379.00,175.96 L379.20,174.60 L379.40,174.60 L379.60,175.24 L379.80,175.99 L380.00,176.46 L380.20,174.93 L380.40,176.01 L380.60,175.20 L380.80,176.63 L381.00,176.38 L381.20,175.82 L381.40,175.30 L381.60,175.09 L381.80,176.98 L382.00,176.79 L382.20,175.36 L382.40,174.76 L382.60,175.15 L382.80,177.51 L383.00,174.80 L383.20,177.17 L383.40,176.38 L383.60,176.52 L383.80,176.53 L384.00,176.21 L384.20,176.71 L384.40,175.36 L384.60,177.91 L384.80,175.52 L385.00,175.69 L385.20,177.35 L385.40,177.31 L385.60,177.87 L385.80,177.59 L386.00,178.36 L386.20,175.78 L386.40,175.72 L386.60,176.45 L386.80,178.14 L387.00,176.32 L387.20,177.51 L387.40,178.28 L387.60,176.50 L387.80,177.67 L388.00,178.84 L388.20,178.44 L388.40,177.45 L388.60,177.74 L388.80,177.19 L389.00,179.30 L389.20,178.82 L389.40,178.56 L389.60,177.48 L389.80,178.82 L390.00,178.13 L390.20,179.12 L390.40,177.87 L390.60,179.47 L390.80,178.92 L391.00,178.27 L391.20,178.65 L391.40,179.42 L391.60,178.64 L391.80,179.98 L392.00,177.16 L392.20,179.88 L392.40,179.37 L392.60,178.73 L392.80,179.85 L393.00,177.79 L393.20,178.39 L393.40,179.56 L393.60,179.92 L393.80,178.61 L394.00,180.50 L394.20,179.50 L394.40,177.72 L394.60,177.98 L394.80,177.87 L395.00,179.38 L395.20,178.67 L395.40,178.51 L395.60,179.10 L395.80,178.02 L396.00,180.54 L396.20,180.36 L396.40,179.54 L396.60,179.23 L396.80,178.85 L397.00,179.76 L397.20,179.01 L397.40,180.92 L397.60,180.89 L397.80,180.23 L398.00,180.55 L398.20,178.32 L398.40,178.49 L398.60,179.18 L398.80,178.54 L399.00,179.46 L399.20,181.17 L399.40,180.74 L399.60,181.13 L399.80,178.94 L400.00,178.97 L400.20,178.39 L400.40,179.16 L400.60,178.53 L400.80,179.97 L401.00,179.31 L401.20,180.45 L401.40,180.13 L401.60,180.26 L401.80,179.39 L402.00,180.71 L402.20,180.59 L402.40,180.69 L402.60,179.98 L402.80,179.98 L403.00,179.46 L403.20,178.74 L403.40,180.04 L403.60,180.51 L403.80,179.24 L404.00,181.28 L404.20,181.35 L404.40,181.29 L404.60,181.20 L404.80,180.23 L405.00,179.31 L405.20,179.62 L405.40,181.03 L405.60,181.79 L405.80,179.19 L406.00,178.89 L406.20,179.95 L406.40,179.96 L406.60,180.72 L406.80,179.28 L407.00,181.49 L407.20,179.99 L407.40,181.72 L407.60,180.00 L407.80,179.95 L408.00,179.57 L408.20,181.96 L408.40,180.85 L408.60,181.58 L408.80,179.31 L409.00,180.76 L409.20,181.35 L409.40,182.12 L409.60,182.00 L409.80,179.51 L410.00,180.34 L410.20,182.23 L410.40,180.86 L410.60,182.14 L410.80,180.05 L411.00,179.39 L411.20,182.17 L411.40,180.14 L411.60,181.04 L411.80,180.46 L412.00,181.13 L412.20,182.22 L412.40,182.27 L412.60,182.08 L412.80,180.24 L413.00,181.95 L413.20,179.56 L413.40,180.77 L413.60,182.37 L413.80,180.32 L414.00,180.67 L414.20,181.33 L414.40,180.31 L414.60,181.75 L414.80,181.59 L415.00,179.94 L415.20,182.43 L415.40,179.90 L415.60,181.79 L415.80,180.77 L416.00,180.17 L416.20,179.99 L416.40,182.76 L416.60,182.18 L416.80,181.18 L417.00,182.20 L417.20,182.74 L417.40,182.63 L417.60,181.46 L417.80,180.71 L418.00,181.45 L418.20,182.86 L418.40,182.12 L418.60,181.96 L418.80,182.49 L419.00,181.20 L419.20,181.67 L419.40,182.55 L419.60,180.62 L419.80,182.62 L420.00,180.13 L420.20,181.68 L420.40,181.81 L420.60,180.54 L420.80,182.88 L421.00,181.45 L421.20,180.70 L421.40,181.40 L421.60,181.95 L421.80,181.48 L422.00,180.22 L422.20,180.50 L422.40,182.38 L422.60,180.65 L422.80,181.04 L423.00,182.71 L423.20,182.88 L423.40,182.96 L423.60,180.85 L423.80,180.36 L424.00,182.62 L424.20,182.17 L424.40,181.48 L424.60,180.46 L424.80,181.71 L425.00,181.15 L425.20,182.21 L425.40,183.41 L425.60,181.11 L425.80,180.72 L426.00,182.59 L426.20,180.85 L426.40,181.21 L426.60,181.87 L426.80,183.53 L427.00,181.55 L427.20,181.54 L427.40,182.04 L427.60,181.11 L427.80,181.85 L428.00,182.76 L428.20,181.64 L428.40,183.07 L428.60,181.25 L428.80,181.02 L429.00,182.61 L429.20,182.10 L429.40,183.51 L429.60,181.09 L429.80,183.02 L430.00,182.81 L430.20,181.93 L430.40,181.21 L430.60,182.68 L430.80,183.13 L431.00,182.29 L431.20,182.31 L431.40,182.96 L431.60,182.74 L431.80,182.20 L432.00,181.50 L432.20,182.35 L432.40,182.62 L432.60,183.68 L432.80,183.99 L433.00,182.69 L433.20,182.02 L433.40,181.72 L433.60,182.95 L433.80,183.29 L434.00,181.83 L434.20,183.18 L434.40,184.12 L434.60,182.31 L434.80,183.97 L435.00,182.47 L435.20,183.13 L435.40,183.79 L435.60,181.82 L435.80,182.26 L436.00,184.19 L436.20,181.45 L436.40,182.19 L436.60,182.71 L436.80,183.53 L437.00,183.21 L437.20,184.12 L437.40,183.36 L437.60,181.37 L437.80,181.59 L438.00,181.50 L438.20,182.71 L438.40,181.51 L438.60,183.02 L438.80,183.36 L439.00,182.09 L439.20,184.06 L439.40,182.75 L439.60,184.41 L439.80,182.62 L440.00,183.42 L440.20,183.21 L440.40,182.39 L440.60,183.96 L440.80,181.65 L441.00,182.40 L441.20,182.63 L441.40,184.33 L441.60,183.21 L441.80,181.83 L442.00,182.64 L442.20,183.59 L442.40,184.20 L442.60,182.12 L442.80,184.15 L443.00,183.00 L443.20,183.42 L443.40,183.13 L443.60,183.20 L443.80,184.87 L444.00,184.68 L444.20,184.69 L444.40,184.16 L444.60,184.08 L444.80,182.42 L445.00,182.12 L445.20,184.52 L445.40,184.07 L445.60,183.96 L445.80,183.02 L446.00,182.90 L446.20,184.88 L446.40,183.73 L446.60,182.21 L446.80,183.19 L447.00,183.23 L447.20,182.41 L447.40,185.15 L447.60,184.95 L447.80,184.70 L448.00,182.28 L448.20,183.54 L448.40,182.64 L448.60,184.50 L448.80,184.76 L449.00,184.72 L449.20,184.74 L449.40,182.75 L449.60,182.44 L449.80,182.69 L450.00,184.96 L450.20,184.93 L450.40,184.01 L450.60,183.18 L450.80,185.06 L451.00,182.87 L451.20,183.49 L451.40,182.54 L451.60,185.50 L451.80,183.81 L452.00,184.89 L452.20,184.99 L452.40,184.34 L452.60,185.57 L452.80,184.95 L453.00,185.42 L453.20,185.54 L453.40,182.91 L453.60,184.93 L453.80,183.36 L454.00,183.67 L454.20,183.73 L454.40,185.68 L454.60,182.91 L454.80,184.04 L455.00,183.13 L455.20,185.75 L455.40,184.26 L455.60,184.88 L455.80,184.35 L456.00,185.10 L456.20,183.81 L456.40,184.05 L456.60,185.05 L456.80,184.94 L457.00,185.50 L457.20,183.77 L457.40,185.39 L457.60,185.07 L457.80,184.58 L458.00,184.09 L458.20,184.57 L458.40,183.11 L458.60,183.17 L458.80,183.82 L459.00,183.26 L459.20,183.04 L459.40,185.04 L459.60,185.09 L459.80,184.75 L460.00,183.52 L460.20,185.07 L460.40,185.38 L460.60,184.76 L460.80,183.59 L461.00,184.60 L461.20,184.09 L461.40,183.72 L461.60,183.36 L461.80,185.51 L462.00,184.81 L462.20,185.72 L462.40,183.44 L462.60,183.71 L462.80,184.45 L463.00,183.10 L463.20,183.83 L463.40,184.55 L463.60,184.37 L463.80,185.66 L464.00,184.66 L464.20,184.84 L464.40,184.69 L464.60,185.29 L464.80,184.04 L465.00,182.94 L465.20,185.88 L465.40,185.32 L465.60,183.32 L465.80,183.28 L466.00,183.61 L466.20,184.92 L466.40,183.34 L466.60,183.01 L466.80,184.43 L467.00,182.97 L467.20,183.73 L467.40,184.10 L467.60,183.57 L467.80,182.96 L468.00,183.74 L468.20,183.69 L468.40,183.93 L468.60,184.21 L468.80,184.04 L469.00,183.94 L469.20,183.02 L469.40,185.48 L469.60,185.18 L469.80,184.45 L470.00,182.98 L470.20,183.67 L470.40,185.68 L470.60,184.35 L470.80,183.59 L471.00,185.44 L471.20,185.65 L471.40,183.35 L471.60,184.48 L471.80,184.67 L472.00,183.33 L472.20,183.94 L472.40,184.84 L472.60,185.01 L472.80,184.87 L473.00,184.85 L473.20,184.12 L473.40,183.20 L473.60,183.04 L473.80,185.51 L474.00,185.59 L474.20,185.71 L474.40,183.22 L474.60,185.31 L474.80,183.51 L475.00,184.04 L475.20,183.60 L475.40,185.58 L475.60,185.46 L475.80,185.50 L476.00,184.15 L476.20,185.81 L476.40,183.79 L476.60,184.73 L476.80,185.03 L477.00,183.71 L477.20,184.16 L477.40,183.31 L477.60,185.40 L477.80,183.57 L478.00,183.42 L478.20,183.85 L478.40,184.94 L478.60,184.93 L478.80,184.59 L479.00,185.58 L479.20,185.28 L479.40,183.65 L479.60,184.63 L479.80,183.53 L480.00,183.75 L480.20,183.47 L480.40,183.26 L480.60,184.08 L480.80,185.69 L481.00,185.00 L481.20,183.29 L481.40,183.69 L481.60,184.81 L481.80,184.62 L482.00,183.11 L482.20,183.32 L482.40,184.73 L482.60,184.84 L482.80,183.28 L483.00,185.36 L483.20,183.76 L483.40,184.81 L483.60,184.63 L483.80,184.06 L484.00,185.88 L484.20,184.23 L484.40,184.31 L484.60,184.66 L484.80,185.56 L485.00,186.01 L485.20,185.35 L485.40,184.66 L485.60,185.20 L485.80,184.96 L486.00,185.93 L486.20,185.96 L486.40,185.33 L486.60,183.70 L486.80,184.76 L487.00,184.37 L487.20,183.75 L487.40,185.40 L487.60,183.72 L487.80,185.18 L488.00,184.52 L488.20,184.34 L488.40,185.18 L488.60,185.23 L488.80,186.03 L489.00,186.06 L489.20,185.46 L489.40,183.85 L489.60,185.07 L489.80,184.55 L490.00,185.88 L490.20,184.41 L490.40,184.14 L490.60,183.14 L490.80,184.48 L491.00,184.66 L491.20,183.99 L491.40,183.38 L491.60,184.52 L491.80,183.28 L492.00,183.58 L492.20,184.40 L492.40,184.12 L492.60,184.57 L492.80,184.66 L493.00,184.24 L493.20,183.47 L493.40,183.13 L493.60,184.75 L493.80,185.99 L494.00,183.92 L494.20,184.13 L494.40,184.04 L494.60,185.31 L494.80,184.56 L495.00,185.47 L495.20,183.10 L495.40,183.48 L495.60,183.70 L495.80,184.19 L496.00,184.28 L496.20,184.24 L496.40,185.98 L496.60,184.40 L496.80,184.81 L497.00,185.97 L497.20,185.01 L497.40,184.87 L497.60,185.57 L497.80,184.09 L498.00,183.20 L498.20,185.96 L498.40,184.69 L498.60,184.84 L498.80,183.29 L499.00,185.32 L499.20,184.21 L499.40,185.02 L499.60,183.94 L499.80,185.85 L500.00,184.20 L500.20,183.92 L500.40,185.78 L500.60,183.76 L500.80,183.91 L501.00,184.56 L501.20,186.04 L501.40,183.44 L501.60,183.73 L501.80,185.48 L502.00,183.32 L502.20,184.34 L502.40,185.45 L502.60,185.24 L502.80,185.48 L503.00,183.45 L503.20,185.77 L503.40,184.17 L503.60,185.54 L503.80,184.52 L504.00,185.78 L504.20,184.54 L504.40,183.88 L504.60,183.56 L504.80,184.59 L505.00,183.25 L505.20,183.60 L505.40,185.73 L505.60,184.83 L505.80,185.70 L506.00,183.56 L506.20,184.55 L506.40,184.51 L506.60,183.43 L506.80,183.90 L507.00,185.87 L507.20,185.28 L507.40,184.64 L507.60,184.94 L507.80,185.69 L508.00,185.97 L508.20,184.90 L508.40,183.26 L508.60,185.73 L508.80,183.61 L509.00,183.83 L509.20,183.52 L509.40,184.65 L509.60,184.86 L509.80,184.50 L510.00,184.53 L510.20,183.54 L510.40,185.27 L510.60,184.73 L510.80,184.04 L511.00,185.62 L511.20,185.93 L511.40,185.89 L511.60,186.07 L511.80,183.33 L512.00,184.29 L512.20,184.47 L512.40,183.89 L512.60,185.35 L512.80,185.84 L513.00,183.54 L513.20,184.64 L513.40,186.02 L513.60,185.79 L513.80,184.48 L514.00,183.44 L514.20,184.49 L514.40,184.68 L514.60,185.48 L514.80,183.68 L515.00,183.96 L515.20,186.08 L515.40,183.16 L515.60,184.96 L515.80,183.41 L516.00,185.38 L516.20,184.40 L516.40,185.90 L516.60,183.80 L516.80,185.76 L517.00,183.81 L517.20,183.27 L517.40,183.39 L517.60,183.36 L517.80,184.30 L518.00,186.05 L518.20,184.20 L518.40,185.28 L518.60,183.24 L518.80,184.68 L519.00,184.75 L519.20,183.43 L519.40,184.87 L519.60,184.47 L519.80,184.12 L520.00,185.63 L520.20,185.21 L520.40,183.50 L520.60,183.46 L520.80,183.29 L521.00,183.93 L521.20,185.05 L521.40,186.04 L521.60,186.05 L521.80,185.73 L522.00,183.51 L522.20,185.52 L522.40,185.43 L522.60,184.56 L522.80,186.13 L523.00,184.94 L523.20,183.50 L523.40,183.79 L523.60,183.53 L523.80,184.98 L524.00,185.02 L524.20,185.72 L524.40,183.18 L524.60,183.18 L524.80,186.06 L525.00,183.93 L525.20,183.94 L525.40,185.75 L525.60,183.48 L525.80,185.53 L526.00,185.84 L526.20,184.84 L526.40,184.98 L526.60,183.17 L526.80,184.97 L527.00,184.99 L527.20,185.46 L527.40,184.70 L527.60,183.49 L527.80,183.82 L528.00,185.11 L528.20,183.39 L528.40,183.47 L528.60,183.91 L528.80,185.54 L529.00,184.79 L529.20,184.23 L529.40,186.05 L529.60,184.90 L529.80,183.87 L530.00,184.85 L530.20,185.72 L530.40,184.26 L530.60,184.46 L530.80,184.89 L531.00,186.12 L531.20,185.08 L531.40,183.70 L531.60,184.91 L531.80,184.13 L532.00,184.58 L532.20,185.30 L532.40,183.22 L532.60,184.69 L532.80,184.11 L533.00,184.96 L533.20,185.63 L533.40,184.57 L533.60,185.06 L533.80,184.03 L534.00,183.94 L534.20,184.70 L534.40,184.77 L534.60,183.84 L534.80,185.47 L535.00,184.67 L535.20,184.24 L535.40,183.93 L535.60,185.68 L535.80,185.88 L536.00,185.99 L536.20,183.92 L536.40,183.39 L536.60,185.07 L536.80,183.25 L537.00,185.75 L537.20,185.21 L537.40,184.19 L537.60,184.50 L537.80,185.23 L538.00,183.66 L538.20,184.27 L538.40,185.54 L538.60,185.22 L538.80,184.94 L539.00,183.49 L539.20,183.83 L539.40,183.95 L539.60,183.28 L539.80,185.10 L540.00,184.90 L540.20,185.96 L540.40,184.85 L540.60,185.94 L540.80,184.59 L541.00,184.74 L541.20,184.03 L541.40,184.58 L541.60,186.00 L541.80,184.65 L542.00,183.20 L542.20,184.25 L542.40,183.79 L542.60,185.06 L542.80,184.72 L543.00,184.62 L543.20,185.98 L543.40,185.48 L543.60,183.46 L543.80,183.29 L544.00,185.30 L544.20,184.99" fill="none" stroke="#000000" stroke-width="1.0" stroke-linejoin="round"/>
<path d="M317.80,273.97 L317.95,273.79 L318.10,273.23 L318.25,273.73 L318.40,274.18 L318.55,273.90 L318.70,273.23 L318.85,273.33 L319.00,274.26 L319.15,273.83 L319.30,273.37 L319.45,274.02 L319.60,274.27 L319.75,274.20 L319.90,273.94 L320.05,274.13 L320.20,273.27 L320.35,273.71 L320.50,274.13 L320.65,273.56 L320.80,273.32 L320.95,274.19 L321.10,273.99 L321.25,273.16 L321.40,273.22 L321.55,273.81 L321.70,274.28 L321.85,273.88 L322.00,274.18 L322.15,273.26 L322.30,273.82 L322.45,273.35 L322.60,273.52 L322.75,273.30 L322.90,273.68 L323.05,273.17 L323.20,273.90 L323.35,273.89 L323.50,274.19 L323.65,274.03 L323.80,273.20 L323.95,274.14 L324.10,273.75 L324.25,274.22 L324.40,273.69 L324.55,273.19 L324.70,273.93 L324.85,273.30 L325.00,274.26 L325.15,273.73 L325.30,274.16 L325.45,273.67 L325.60,273.47 L325.75,273.87 L325.90,273.92 L326.05,273.62 L326.20,273.40 L326.35,273.57 L326.50,273.92 L326.65,273.34 L326.80,273.25 L326.95,273.64 L327.10,273.84 L327.25,273.14 L327.40,273.38 L327.55,274.21 L327.70,273.37 L327.85,273.97 L328.00,273.41 L328.15,273.14 L328.30,273.62 L328.45,274.07 L328.60,273.96 L328.75,273.09 L328.90,273.87 L329.05,273.77 L329.20,273.60 L329.35,273.81 L329.50,273.64 L329.65,273.24 L329.80,273.84 L329.95,273.17 L330.10,273.38 L330.25,274.02 L330.40,273.68 L330.55,273.61 L330.70,273.84 L330.85,273.58 L331.00,273.45 L331.15,273.65 L331.30,273.02 L331.45,273.40 L331.60,273.03 L331.75,274.15 L331.90,274.04 L332.05,273.74 L332.20,273.16 L332.35,273.96 L332.50,273.29 L332.65,273.88 L332.80,273.69 L332.95,273.62 L333.10,273.75 L333.25,273.20 L333.40,273.79 L333.55,273.43 L333.70,273.60 L333.85,273.61 L334.00,272.94 L334.15,273.01 L334.30,272.87 L334.45,272.50 L334.60,273.06 L334.75,272.75 L334.90,272.45 L335.05,272.35 L335.20,272.45 L335.35,271.77 L335.50,271.88 L335.65,272.03 L335.80,271.91 L335.80,271.89 L335.95,271.76 L336.10,271.79 L336.25,272.18 L336.40,272.07 L336.55,272.64 L336.70,272.77 L336.85,272.98 L337.00,272.55 L337.15,272.88 L337.30,272.63 L337.45,272.96 L337.60,272.76 L337.75,273.26 L337.90,273.81 L338.05,273.66 L338.20,273.27 L338.35,273.20 L338.50,273.96 L338.65,272.98 L338.80,273.90 L338.95,273.93 L339.10,273.03 L339.25,274.06 L339.40,273.71 L339.55,273.42 L339.70,273.46 L339.85,273.68 L340.00,273.59 L340.15,273.99 L340.30,274.02 L340.45,273.36 L340.60,272.99 L340.75,273.90 L340.90,273.74 L341.05,273.75 L341.20,273.07 L341.35,273.07 L341.50,274.05 L341.65,273.42 L341.80,273.55 L341.95,274.14 L342.10,273.22 L342.25,273.74 L342.40,273.06 L342.55,273.66 L342.70,273.87 L342.85,273.18 L343.00,273.89 L343.15,274.14 L343.30,273.97 L343.45,273.93 L343.60,274.12 L343.75,273.85 L343.90,273.65 L344.05,273.98 L344.20,273.96 L344.35,273.75 L344.50,273.79 L344.65,273.21 L344.80,273.40 L344.95,273.39 L345.10,274.02 L345.25,273.93 L345.40,273.35 L345.55,274.18 L345.70,273.08 L345.85,273.08 L346.00,273.40 L346.15,273.10 L346.30,274.14 L346.45,273.43 L346.60,273.47 L346.75,274.02 L346.90,273.64 L347.05,273.76 L347.20,273.53 L347.35,273.56 L347.50,274.15 L347.65,273.34 L347.80,273.64 L347.95,273.58 L348.10,273.18 L348.25,273.19 L348.40,273.62 L348.55,273.96 L348.70,273.53 L348.85,273.09 L349.00,274.13 L349.15,273.18 L349.30,274.07 L349.45,273.07 L349.60,273.79 L349.75,273.19 L349.90,273.33 L350.05,273.52 L350.20,273.92 L350.35,273.54 L350.50,273.52 L350.65,273.50 L350.80,273.64 L350.95,273.35 L351.10,274.15 L351.25,273.25 L351.40,273.18 L351.55,273.67 L351.70,273.44 L351.85,273.88 L352.00,273.07 L352.15,273.82 L352.30,273.45 L352.45,274.12 L352.60,273.38 L352.75,273.53 L352.90,273.40 L353.05,273.65 L353.20,273.35 L353.35,273.81 L353.50,273.51 L353.65,273.85 L353.80,273.36 L353.95,273.56 L354.10,273.67 L354.25,273.86 L354.40,273.78 L354.55,273.52 L354.70,273.12 L354.85,273.15 L355.00,273.18 L355.15,273.22 L355.30,273.22 L355.45,273.77 L355.60,273.39 L355.75,274.04 L355.90,273.26 L356.05,273.27 L356.20,273.19 L356.35,273.13 L356.50,273.73 L356.65,273.59 L356.80,273.21 L356.95,273.80 L357.10,273.62 L357.25,273.32 L357.40,273.45 L357.55,273.41 L357.70,273.05 L357.85,272.47 L358.00,272.17 L358.15,271.55 L358.30,269.75 L358.45,267.82 L358.60,265.40 L358.75,263.62 L358.90,262.85 L358.90,262.76 L359.05,263.54 L359.20,265.50 L359.35,267.70 L359.50,269.69 L359.65,271.10 L359.80,272.40 L359.95,272.82 L360.10,273.53 L360.25,273.72 L360.40,273.73 L360.55,273.87 L360.70,273.80 L360.85,272.96 L361.00,273.09 L361.15,274.04 L361.30,273.95 L361.45,273.68 L361.60,273.69 L361.75,273.50 L361.90,273.49 L362.05,273.18 L362.20,273.65 L362.35,273.34 L362.50,273.17 L362.65,274.04 L362.80,273.70 L362.95,274.05 L363.10,273.38 L363.25,273.71 L363.40,273.36 L363.55,274.01 L363.70,273.29 L363.85,273.80 L364.00,273.70 L364.15,273.43 L364.30,273.15 L364.45,273.62 L364.60,273.66 L364.75,274.01 L364.90,273.29 L365.05,273.27 L365.20,273.41 L365.35,273.99 L365.50,273.33 L365.65,273.80 L365.80,273.10 L365.95,273.15 L366.10,273.89 L366.25,273.64 L366.40,273.19 L366.55,273.61 L366.70,274.16 L366.85,273.51 L367.00,273.71 L367.15,273.55 L367.30,273.65 L367.45,273.11 L367.60,274.09 L367.75,273.73 L367.90,273.46 L368.05,273.39 L368.20,273.27 L368.35,274.14 L368.50,274.03 L368.65,273.49 L368.80,273.75 L368.95,273.69 L369.10,273.28 L369.25,273.08 L369.40,273.89 L369.55,273.23 L369.70,273.69 L369.85,273.06 L370.00,273.06 L370.15,273.22 L370.30,273.77 L370.45,273.72 L370.60,274.14 L370.75,273.76 L370.90,273.59 L371.05,273.01 L371.20,274.05 L371.35,273.50 L371.50,273.87 L371.65,272.95 L371.80,273.73 L371.95,273.27 L372.10,272.90 L372.25,272.93 L372.40,272.46 L372.55,272.64 L372.70,272.10 L372.85,272.15 L373.00,271.55 L373.15,271.63 L373.30,271.45 L373.40,271.46 L373.45,271.59 L373.60,271.30 L373.75,271.68 L373.90,271.72 L374.05,272.26 L374.20,272.41 L374.35,272.50 L374.50,272.42 L374.65,272.12 L374.80,272.40 L374.95,272.14 L375.10,271.74 L375.25,270.96 L375.40,270.75 L375.55,270.25 L375.70,269.99 L375.85,269.81 L375.90,269.66 L376.00,269.68 L376.15,270.08 L376.30,270.40 L376.45,270.80 L376.60,271.46 L376.75,271.42 L376.90,271.77 L377.05,272.42 L377.20,272.37 L377.35,273.22 L377.50,272.65 L377.65,273.52 L377.80,272.92 L377.95,272.86 L378.10,273.54 L378.25,273.48 L378.40,273.20 L378.55,273.41 L378.70,273.36 L378.85,273.80 L379.00,273.31 L379.15,273.35 L379.30,273.26 L379.45,273.20 L379.60,273.51 L379.75,272.86 L379.90,273.50 L380.05,273.76 L380.20,273.57 L380.35,273.32 L380.50,273.11 L380.65,272.82 L380.80,272.80 L380.95,273.29 L381.10,273.66 L381.25,273.64 L381.40,272.88 L381.55,273.49 L381.70,273.55 L381.85,273.18 L382.00,273.58 L382.15,272.84 L382.30,272.99 L382.45,273.18 L382.60,273.40 L382.75,273.08 L382.90,272.92 L383.05,273.51 L383.20,272.99 L383.35,273.01 L383.50,272.79 L383.65,273.05 L383.80,273.27 L383.95,272.89 L384.10,273.19 L384.25,272.99 L384.40,272.48 L384.55,273.43 L384.70,272.73 L384.85,272.97 L385.00,273.35 L385.15,272.58 L385.30,272.42 L385.45,272.53 L385.60,272.45 L385.75,273.08 L385.90,272.73 L386.05,272.25 L386.20,272.42 L386.35,272.58 L386.50,272.23 L386.65,272.29 L386.80,272.71 L386.95,272.26 L387.10,272.00 L387.25,272.18 L387.40,271.71 L387.55,271.87 L387.70,271.79 L387.85,271.24 L388.00,271.28 L388.15,270.83 L388.30,270.61 L388.45,269.88 L388.60,268.98 L388.75,267.30 L388.90,264.82 L389.05,261.32 L389.20,256.43 L389.35,249.80 L389.50,241.42 L389.65,231.76 L389.80,221.42 L389.95,211.60 L390.10,203.87 L390.25,199.86 L390.30,199.59 L390.40,200.70 L390.55,206.09 L390.70,214.73 L390.85,224.87 L391.00,235.10 L391.15,244.39 L391.30,252.18 L391.45,258.18 L391.60,262.74 L391.75,265.69 L391.90,267.79 L392.05,269.33 L392.20,270.29 L392.35,270.57 L392.50,271.29 L392.65,271.04 L392.80,271.84 L392.95,271.52 L393.10,271.55 L393.25,272.20 L393.40,271.86 L393.55,272.41 L393.70,271.90 L393.85,272.06 L394.00,272.32 L394.15,272.14 L394.30,272.52 L394.45,272.46 L394.60,272.86 L394.75,272.67 L394.90,273.15 L395.05,273.07 L395.20,272.45 L395.35,273.21 L395.50,273.21 L395.65,272.91 L395.80,272.89 L395.95,272.55 L396.10,272.72 L396.25,272.63 L396.40,272.62 L396.55,273.06 L396.70,272.77 L396.85,273.25 L397.00,273.06 L397.15,273.34 L397.30,272.56 L397.45,273.38 L397.60,273.02 L397.75,273.17 L397.90,272.75 L398.05,273.25 L398.20,272.94 L398.35,273.29 L398.50,273.15 L398.65,272.67 L398.80,272.85 L398.95,273.35 L399.10,272.54 L399.25,273.23 L399.40,273.13 L399.55,273.33 L399.70,272.90 L399.85,273.07 L400.00,273.07 L400.15,273.38 L400.30,272.62 L400.45,273.12 L400.60,272.84 L400.75,273.21 L400.90,272.84 L401.05,272.78 L401.20,272.81 L401.35,273.57 L401.50,272.97 L401.65,273.55 L401.80,273.39 L401.95,272.86 L402.10,273.19 L402.25,272.57 L402.40,273.62 L402.55,273.28 L402.70,272.69 L402.85,273.15 L403.00,273.12 L403.15,273.32 L403.30,272.89 L403.45,273.60 L403.60,273.27 L403.75,272.64 L403.90,273.50 L404.05,273.57 L404.20,272.91 L404.35,273.37 L404.50,273.54 L404.65,273.57 L404.80,272.64 L404.95,273.51 L405.10,272.84 L405.25,273.47 L405.40,273.34 L405.55,273.09 L405.70,273.58 L405.85,273.47 L406.00,273.69 L406.15,273.65 L406.30,273.20 L406.45,273.39 L406.60,273.31 L406.75,273.00 L406.90,273.11 L407.05,273.12 L407.20,272.78 L407.35,272.83 L407.50,273.49 L407.65,273.49 L407.80,273.32 L407.95,273.31 L408.10,273.10 L408.25,273.17 L408.40,273.27 L408.55,272.52 L408.70,273.01 L408.85,273.60 L409.00,272.73 L409.15,273.02 L409.30,272.58 L409.45,272.77 L409.60,273.40 L409.75,272.51 L409.90,273.35 L410.05,273.34 L410.20,273.40 L410.35,272.72 L410.50,273.44 L410.65,272.82 L410.80,272.89 L410.95,273.40 L411.10,272.95 L411.25,273.07 L411.40,272.45 L411.55,272.32 L411.70,272.55 L411.85,272.36 L412.00,273.02 L412.15,272.41 L412.30,273.00 L412.45,272.64 L412.60,272.07 L412.75,272.29 L412.90,271.66 L413.05,271.30 L413.20,270.31 L413.35,269.58 L413.50,268.06 L413.65,266.09 L413.80,263.85 L413.95,261.30 L414.10,258.80 L414.25,256.73 L414.40,255.46 L414.50,255.17 L414.55,255.19 L414.70,256.16 L414.85,258.07 L415.00,260.38 L415.15,262.88 L415.30,265.31 L415.45,267.22 L415.60,269.10 L415.75,269.97 L415.90,271.14 L416.05,271.77 L416.20,271.80 L416.35,272.22 L416.50,272.78 L416.65,272.55 L416.80,272.41 L416.95,273.04 L417.10,272.38 L417.25,273.11 L417.40,272.49 L417.55,272.62 L417.70,272.53 L417.85,272.90 L418.00,273.16 L418.15,272.97 L418.30,272.44 L418.45,273.32 L418.60,273.04 L418.75,272.81 L418.90,273.19 L419.05,272.38 L419.20,272.93 L419.35,273.14 L419.50,273.13 L419.65,273.02 L419.80,272.33 L419.95,272.80 L420.10,272.56 L420.25,272.95 L420.40,272.71 L420.55,272.77 L420.70,272.87 L420.85,272.92 L421.00,273.26 L421.15,272.57 L421.30,272.56 L421.45,272.45 L421.60,272.37 L421.75,273.21 L421.90,273.29 L422.05,272.37 L422.20,272.64 L422.35,273.26 L422.50,273.21 L422.65,273.34 L422.80,273.35 L422.95,272.56 L423.10,272.28 L423.25,272.49 L423.40,272.78 L423.55,272.21 L423.70,272.48 L423.85,272.73 L424.00,272.97 L424.15,272.36 L424.30,272.32 L424.45,272.55 L424.60,272.27 L424.75,272.30 L424.90,272.28 L425.05,273.08 L425.20,273.16 L425.35,272.19 L425.50,273.07 L425.65,273.11 L425.80,272.88 L425.95,272.47 L426.10,273.07 L426.25,272.21 L426.40,272.17 L426.55,273.21 L426.70,272.36 L426.85,273.16 L427.00,272.97 L427.15,272.15 L427.30,272.20 L427.45,272.83 L427.60,272.25 L427.75,272.84 L427.90,272.84 L428.05,272.33 L428.20,272.61 L428.35,272.30 L428.50,273.05 L428.65,272.77 L428.80,272.83 L428.95,272.75 L429.10,272.10 L429.25,273.04 L429.40,272.91 L429.55,272.60 L429.70,272.68 L429.85,272.56 L430.00,272.85 L430.15,272.60 L430.30,272.30 L430.45,272.56 L430.60,272.22 L430.75,271.98 L430.90,272.54 L431.05,272.92 L431.20,272.74 L431.35,272.17 L431.50,272.49 L431.65,272.56 L431.80,272.54 L431.95,272.39 L432.10,272.43 L432.25,272.60 L432.40,272.79 L432.55,272.38 L432.70,272.64 L432.85,272.50 L433.00,271.90 L433.15,272.02 L433.30,272.04 L433.45,272.04 L433.60,272.12 L433.75,271.89 L433.90,272.47 L434.05,272.15 L434.20,271.73 L434.35,271.88 L434.50,271.87 L434.65,271.04 L434.80,270.95 L434.95,270.47 L435.10,269.15 L435.25,267.82 L435.40,265.61 L435.55,262.61 L435.70,259.02 L435.85,255.05 L436.00,250.87 L436.15,247.28 L436.30,245.00 L436.40,244.55 L436.45,244.68 L436.60,246.37 L436.75,249.60 L436.90,253.56 L437.05,257.71 L437.20,261.39 L437.35,264.53 L437.50,266.94 L437.65,268.57 L437.80,269.84 L437.95,270.38 L438.10,271.17 L438.25,271.29 L438.40,271.35 L438.55,271.82 L438.70,271.61 L438.85,271.41 L439.00,272.16 L439.15,272.12 L439.30,272.25 L439.45,271.72 L439.60,271.68 L439.75,272.02 L439.90,271.49 L440.05,272.10 L440.20,271.72 L440.35,271.50 L440.50,270.97 L440.65,270.95 L440.80,270.83 L440.95,270.93 L441.10,270.17 L441.25,270.16 L441.40,269.63 L441.55,269.84 L441.70,269.52 L441.85,269.39 L442.00,269.28 L442.10,269.01 L442.15,269.04 L442.30,269.02 L442.45,269.39 L442.60,269.36 L442.75,269.64 L442.90,269.89 L443.05,270.58 L443.20,270.79 L443.35,270.74 L443.50,271.45 L443.65,271.08 L443.80,271.24 L443.95,271.59 L444.10,272.10 L444.25,271.57 L444.40,272.31 L444.55,272.15 L444.70,272.47 L444.85,272.03 L445.00,271.75 L445.15,271.83 L445.30,272.52 L445.45,272.30 L445.60,272.60 L445.75,271.98 L445.90,272.08 L446.05,272.01 L446.20,272.72 L446.35,272.56 L446.50,271.95 L446.65,272.59 L446.80,271.83 L446.95,272.31 L447.10,272.07 L447.25,272.64 L447.40,272.59 L447.55,272.55 L447.70,272.00 L447.85,271.83 L448.00,272.50 L448.15,272.56 L448.30,271.79 L448.45,272.72 L448.60,272.79 L448.75,272.18 L448.90,272.36 L449.05,272.50 L449.20,272.81 L449.35,272.49 L449.50,272.34 L449.65,272.62 L449.80,272.30 L449.95,271.78 L450.10,272.36 L450.25,272.20 L450.40,272.11 L450.55,272.17 L450.70,271.97 L450.85,272.07 L451.00,272.55 L451.15,272.69 L451.30,272.20 L451.45,272.63 L451.60,271.82 L451.75,272.24 L451.90,272.48 L452.05,272.50 L452.20,272.05 L452.35,271.80 L452.50,272.62 L452.65,272.22 L452.80,272.22 L452.95,271.85 L453.10,271.54 L453.25,271.87 L453.40,271.54 L453.55,271.68 L453.70,271.14 L453.85,270.72 L454.00,270.01 L454.15,269.39 L454.30,268.33 L454.45,267.82 L454.60,266.88 L454.75,266.23 L454.90,265.71 L455.00,265.60 L455.05,265.79 L455.20,266.09 L455.35,266.64 L455.50,267.26 L455.65,268.16 L455.80,269.09 L455.95,269.77 L456.10,270.56 L456.25,270.53 L456.40,271.40 L456.55,271.05 L456.70,271.76 L456.85,271.80 L457.00,271.43 L457.15,271.82 L457.30,272.09 L457.45,272.29 L457.60,271.49 L457.75,271.89 L457.90,272.13 L458.05,271.42 L458.20,272.08 L458.35,272.02 L458.50,271.39 L458.65,271.17 L458.80,271.01 L458.95,270.97 L459.10,271.02 L459.25,271.16 L459.40,271.28 L459.50,270.99 L459.55,271.28 L459.70,270.93 L459.85,271.17 L460.00,270.76 L460.15,271.19 L460.30,270.98 L460.45,271.17 L460.60,271.88 L460.75,271.33 L460.90,271.58 L461.05,271.87 L461.20,271.93 L461.35,271.45 L461.50,271.56 L461.65,272.18 L461.80,271.91 L461.95,271.58 L462.10,272.00 L462.25,271.89 L462.40,272.57 L462.55,271.53 L462.70,271.67 L462.85,271.55 L463.00,272.06 L463.15,272.48 L463.30,272.27 L463.45,271.53 L463.60,271.95 L463.75,271.71 L463.90,272.26 L464.05,271.90 L464.20,271.71 L464.35,271.29 L464.50,271.34 L464.65,271.32 L464.80,271.12 L464.95,271.23 L465.00,270.85 L465.10,271.11 L465.25,271.61 L465.40,271.21 L465.55,271.38 L465.70,271.69 L465.85,271.84 L466.00,271.85 L466.15,271.58 L466.30,271.94 L466.45,271.47 L466.60,271.90 L466.75,271.31 L466.90,271.48 L467.05,271.46 L467.20,271.62 L467.35,271.98 L467.50,271.27 L467.65,272.07 L467.80,271.29 L467.95,272.08 L468.10,272.04 L468.25,271.69 L468.40,271.86 L468.55,271.90 L468.70,271.41 L468.85,271.70 L469.00,270.94 L469.15,271.49 L469.30,271.28 L469.45,271.26 L469.60,270.65 L469.75,270.42 L469.90,270.46 L470.05,270.15 L470.20,269.69 L470.35,268.78 L470.50,268.05 L470.65,266.99 L470.80,265.25 L470.95,263.48 L471.10,261.18 L471.25,258.41 L471.40,255.32 L471.55,252.01 L471.70,248.60 L471.85,245.27 L472.00,242.33 L472.15,240.08 L472.30,238.73 L472.40,238.51 L472.45,238.54 L472.60,239.53 L472.75,241.47 L472.90,244.22 L473.05,247.40 L473.20,250.74 L473.35,254.02 L473.50,257.08 L473.65,259.88 L473.80,262.18 L473.95,264.23 L474.10,265.54 L474.25,266.86 L474.40,267.58 L474.55,268.17 L474.70,268.59 L474.85,269.01 L475.00,269.14 L475.15,268.92 L475.30,269.25 L475.45,269.30 L475.60,269.17 L475.60,269.19 L475.75,269.12 L475.90,269.56 L476.05,269.58 L476.20,269.93 L476.35,270.24 L476.50,270.29 L476.65,270.55 L476.80,270.66 L476.95,270.56 L477.10,270.97 L477.25,270.81 L477.40,271.02 L477.55,271.81 L477.70,271.39 L477.85,271.25 L478.00,271.59 L478.15,271.28 L478.30,271.85 L478.45,271.51 L478.60,271.53 L478.75,271.98 L478.90,272.30 L479.05,271.38 L479.20,272.12 L479.35,272.00 L479.50,271.91 L479.65,271.85 L479.80,271.43 L479.95,271.80 L480.10,271.99 L480.25,271.80 L480.40,272.52 L480.55,271.82 L480.70,272.37 L480.85,272.34 L481.00,272.33 L481.15,272.01 L481.30,272.02 L481.45,272.41 L481.60,271.61 L481.75,271.73 L481.90,271.50 L482.05,272.03 L482.20,272.00 L482.35,272.56 L482.50,272.54 L482.65,271.95 L482.80,272.06 L482.95,271.62 L483.10,272.35 L483.25,272.09 L483.40,271.70 L483.55,272.50 L483.70,271.56 L483.85,271.73 L484.00,272.06 L484.15,272.65 L484.30,271.67 L484.45,271.82 L484.60,272.42 L484.75,271.90 L484.90,272.58 L485.05,271.54 L485.20,271.79 L485.35,271.88 L485.50,272.49 L485.65,271.64 L485.80,272.29 L485.95,272.54 L486.10,272.64 L486.25,272.45 L486.40,271.58 L486.55,272.08 L486.70,271.78 L486.85,271.67 L487.00,271.80 L487.15,272.37 L487.30,272.18 L487.45,271.67 L487.60,271.85 L487.75,271.60 L487.90,272.58 L488.05,272.38 L488.20,272.06 L488.35,272.61 L488.50,272.63 L488.65,271.75 L488.80,271.80 L488.95,271.72 L489.10,272.21 L489.25,272.17 L489.40,272.07 L489.55,272.35 L489.70,272.06 L489.85,271.81 L490.00,272.18 L490.15,272.45 L490.30,271.45 L490.45,271.86 L490.60,271.44 L490.75,271.95 L490.90,271.53 L491.05,271.74 L491.20,271.40 L491.35,271.41 L491.50,270.88 L491.65,270.64 L491.80,270.63 L491.95,270.28 L492.10,269.81 L492.25,269.56 L492.40,269.96 L492.40,269.49 L492.55,270.00 L492.70,270.13 L492.85,270.16 L493.00,270.57 L493.15,270.60 L493.30,270.94 L493.45,271.06 L493.60,270.95 L493.75,270.98 L493.90,271.71 L494.05,271.55 L494.20,271.30 L494.35,271.80 L494.50,271.53 L494.65,271.56 L494.80,272.24 L494.95,271.97 L495.10,272.12 L495.25,272.20 L495.40,271.78 L495.55,271.80 L495.70,271.77 L495.85,271.69 L496.00,272.15 L496.15,272.27 L496.30,271.61 L496.45,272.06 L496.60,271.50 L496.75,271.26 L496.90,272.02 L497.05,272.11 L497.20,271.60 L497.35,272.34 L497.50,272.02 L497.65,271.57 L497.80,272.05 L497.95,272.14 L498.10,271.34 L498.25,272.19 L498.40,271.65 L498.55,271.47 L498.70,271.57 L498.85,271.73 L499.00,271.72 L499.15,271.45 L499.30,271.18 L499.45,271.79 L499.60,271.87 L499.75,271.83 L499.90,271.50 L500.05,271.98 L500.20,271.06 L500.35,271.17 L500.50,271.04 L500.65,271.58 L500.80,271.53 L500.95,271.20 L501.10,271.48 L501.25,270.92 L501.40,270.93 L501.55,271.80 L501.70,271.66 L501.85,270.82 L502.00,271.29 L502.15,271.05 L502.30,270.94 L502.45,270.99 L502.60,270.60 L502.75,270.51 L502.90,269.96 L503.05,269.64 L503.20,268.68 L503.35,268.37 L503.50,267.43 L503.65,266.81 L503.80,265.84 L503.95,264.90 L504.10,263.83 L504.25,262.74 L504.40,261.83 L504.55,261.04 L504.70,260.26 L504.85,259.92 L505.00,259.78 L505.00,259.80 L505.15,259.88 L505.30,260.34 L505.45,261.02 L505.60,261.77 L505.75,262.77 L505.90,263.83 L506.05,264.70 L506.20,265.71 L506.35,266.60 L506.50,267.57 L506.65,268.07 L506.80,268.69 L506.95,269.27 L507.10,269.86 L507.25,269.89 L507.40,270.75 L507.55,270.62 L507.70,270.98 L507.85,270.85 L508.00,270.59 L508.15,270.99 L508.30,271.23 L508.45,270.80 L508.60,271.72 L508.75,271.36 L508.90,271.25 L509.05,270.83 L509.20,271.07 L509.35,271.17 L509.50,271.51 L509.65,271.02 L509.80,271.36 L509.95,271.14 L510.10,271.46 L510.25,271.60 L510.40,271.43 L510.55,271.69 L510.70,271.55 L510.85,270.96 L511.00,271.60 L511.15,271.41 L511.30,271.72 L511.45,271.92 L511.60,271.27 L511.75,271.82 L511.90,271.14 L512.05,271.60 L512.20,270.89 L512.35,271.80 L512.50,271.38 L512.65,271.39 L512.80,271.43 L512.95,271.29 L513.10,271.13 L513.25,271.65 L513.40,271.57 L513.55,270.93 L513.70,271.17 L513.85,271.91 L514.00,271.18 L514.15,271.19 L514.30,271.51 L514.45,271.27 L514.60,271.91 L514.75,271.95 L514.90,270.99 L515.05,271.09 L515.20,271.03 L515.35,271.33 L515.50,271.14 L515.65,271.57 L515.80,271.80 L515.95,270.89 L516.10,270.83 L516.25,270.92 L516.40,271.13 L516.55,270.92 L516.70,271.23 L516.85,271.14 L517.00,271.51 L517.15,271.73 L517.30,271.70 L517.45,271.08 L517.60,271.26 L517.75,270.69 L517.90,271.08 L518.05,271.25 L518.20,271.13 L518.35,270.37 L518.50,270.27 L518.65,270.70 L518.80,270.37 L518.95,270.22 L519.10,269.56 L519.25,269.71 L519.40,269.14 L519.55,269.34 L519.70,269.15 L519.85,268.70 L520.00,268.37 L520.15,268.57 L520.30,268.58 L520.45,268.32 L520.60,268.18 L520.60,268.16 L520.75,268.41 L520.90,268.55 L521.05,268.38 L521.20,268.46 L521.35,269.03 L521.50,268.93 L521.65,269.14 L521.80,269.27 L521.95,269.73 L522.10,270.12 L522.25,269.97 L522.40,270.43 L522.55,270.25 L522.70,270.41 L522.85,270.86 L523.00,271.14 L523.15,271.05 L523.30,271.09 L523.45,271.29 L523.60,271.44 L523.75,271.53 L523.90,271.14 L524.05,271.02 L524.20,270.63 L524.35,271.20 L524.50,271.03 L524.65,270.66 L524.80,271.75 L524.95,271.00 L525.10,271.70 L525.25,270.69 L525.40,271.07 L525.55,271.54 L525.70,271.42 L525.85,271.42 L526.00,271.22 L526.15,270.78 L526.30,271.60 L526.45,271.52 L526.60,271.20 L526.75,271.29 L526.90,271.56 L527.05,271.21 L527.20,271.19 L527.35,271.20 L527.50,271.48 L527.65,271.47 L527.80,271.02 L527.95,271.51 L528.10,271.06 L528.25,271.39 L528.40,271.05 L528.55,271.62 L528.70,271.66 L528.85,271.48 L529.00,271.03 L529.15,271.00 L529.30,271.08 L529.45,271.26 L529.60,270.63 L529.75,271.17 L529.90,271.58 L530.05,270.64 L530.20,271.51 L530.35,271.16 L530.50,271.60 L530.65,271.29 L530.80,271.27 L530.95,271.29 L531.10,270.93 L531.25,270.59 L531.40,271.32 L531.55,271.32 L531.70,271.13 L531.85,270.60 L532.00,270.83 L532.15,270.79 L532.30,270.59 L532.45,270.62 L532.60,270.50 L532.75,270.80 L532.90,270.35 L533.05,270.40 L533.20,270.08 L533.35,269.29 L533.50,269.27 L533.65,268.61 L533.80,268.19 L533.95,267.57 L534.10,266.94 L534.25,266.01 L534.40,265.28 L534.55,264.29 L534.70,263.45 L534.85,262.43 L535.00,261.52 L535.15,260.71 L535.30,259.81 L535.45,259.14 L535.60,258.86 L535.75,258.60 L535.80,258.60 L535.90,258.69 L536.05,258.98 L536.20,259.39 L536.35,260.17 L536.50,260.87 L536.65,261.83 L536.80,262.80 L536.95,263.65 L537.10,264.59 L537.25,265.45 L537.40,266.26 L537.55,267.03 L537.70,267.87 L537.85,268.09 L538.00,269.06 L538.15,269.39 L538.30,269.60 L538.45,269.94 L538.60,269.92 L538.75,270.47 L538.90,270.72 L539.05,270.41 L539.20,270.61 L539.35,270.42 L539.50,270.50 L539.65,271.13 L539.80,270.96 L539.95,270.80 L540.10,271.02 L540.25,270.58 L540.40,270.41 L540.55,270.79 L540.70,271.03 L540.85,270.63 L541.00,271.03 L541.15,270.80 L541.30,270.75 L541.45,271.27 L541.60,270.87 L541.75,271.29 L541.90,271.31 L542.05,270.91 L542.20,270.53 L542.35,271.43 L542.50,271.12 L542.65,271.15 L542.80,271.28 L542.95,271.13 L543.10,271.53 L543.25,270.53 L543.40,271.61 L543.55,271.22 L543.70,270.98 L543.85,271.55 L544.00,271.54 L544.15,271.21" fill="none" stroke="#7d8208" stroke-width="0.75" stroke-linejoin="round"/>
<line x1="317.50" y1="10.00" x2="317.50" y2="277.35" stroke="#1a1a1a" stroke-width="1.3"/>
<line x1="544.50" y1="10.00" x2="544.50" y2="277.35" stroke="#1a1a1a" stroke-width="1.3"/>
<line x1="316.85" y1="10.00" x2="545.15" y2="10.00" stroke="#1a1a1a" stroke-width="1.3"/>
<line x1="316.85" y1="99.10" x2="545.15" y2="99.10" stroke="#1a1a1a" stroke-width="1.3"/>
<line x1="316.85" y1="188.30" x2="545.15" y2="188.30" stroke="#1a1a1a" stroke-width="1.3"/>
<line x1="316.85" y1="277.35" x2="545.15" y2="277.35" stroke="#1a1a1a" stroke-width="1.3"/>
<line x1="325.61" y1="10.00" x2="325.61" y2="11.90" stroke="#1a1a1a" stroke-width="0.9"/>
<line x1="325.61" y1="99.10" x2="325.61" y2="97.20" stroke="#1a1a1a" stroke-width="0.9"/>
<line x1="325.61" y1="188.30" x2="325.61" y2="186.40" stroke="#1a1a1a" stroke-width="0.9"/>
<line x1="325.61" y1="277.35" x2="325.61" y2="275.45" stroke="#1a1a1a" stroke-width="0.9"/>
<line x1="333.71" y1="10.00" x2="333.71" y2="13.20" stroke="#1a1a1a" stroke-width="0.9"/>
<line x1="333.71" y1="99.10" x2="333.71" y2="95.90" stroke="#1a1a1a" stroke-width="0.9"/>
<line x1="333.71" y1="188.30" x2="333.71" y2="185.10" stroke="#1a1a1a" stroke-width="0.9"/>
<line x1="333.71" y1="277.35" x2="333.71" y2="274.15" stroke="#1a1a1a" stroke-width="0.9"/>
<line x1="341.82" y1="10.00" x2="341.82" y2="11.90" stroke="#1a1a1a" stroke-width="0.9"/>
<line x1="341.82" y1="99.10" x2="341.82" y2="97.20" stroke="#1a1a1a" stroke-width="0.9"/>
<line x1="341.82" y1="188.30" x2="341.82" y2="186.40" stroke="#1a1a1a" stroke-width="0.9"/>
<line x1="341.82" y1="277.35" x2="341.82" y2="275.45" stroke="#1a1a1a" stroke-width="0.9"/>
<line x1="349.93" y1="10.00" x2="349.93" y2="13.20" stroke="#1a1a1a" stroke-width="0.9"/>
<line x1="349.93" y1="99.10" x2="349.93" y2="95.90" stroke="#1a1a1a" stroke-width="0.9"/>
<line x1="349.93" y1="188.30" x2="349.93" y2="185.10" stroke="#1a1a1a" stroke-width="0.9"/>
<line x1="349.93" y1="277.35" x2="349.93" y2="274.15" stroke="#1a1a1a" stroke-width="0.9"/>
<line x1="358.04" y1="10.00" x2="358.04" y2="11.90" stroke="#1a1a1a" stroke-width="0.9"/>
<line x1="358.04" y1="99.10" x2="358.04" y2="97.20" stroke="#1a1a1a" stroke-width="0.9"/>
<line x1="358.04" y1="188.30" x2="358.04" y2="186.40" stroke="#1a1a1a" stroke-width="0.9"/>
<line x1="358.04" y1="277.35" x2="358.04" y2="275.45" stroke="#1a1a1a" stroke-width="0.9"/>
<line x1="366.14" y1="10.00" x2="366.14" y2="13.20" stroke="#1a1a1a" stroke-width="0.9"/>
<line x1="366.14" y1="99.10" x2="366.14" y2="95.90" stroke="#1a1a1a" stroke-width="0.9"/>
<line x1="366.14" y1="188.30" x2="366.14" y2="185.10" stroke="#1a1a1a" stroke-width="0.9"/>
<line x1="366.14" y1="277.35" x2="366.14" y2="274.15" stroke="#1a1a1a" stroke-width="0.9"/>
<line x1="374.25" y1="10.00" x2="374.25" y2="11.90" stroke="#1a1a1a" stroke-width="0.9"/>
<line x1="374.25" y1="99.10" x2="374.25" y2="97.20" stroke="#1a1a1a" stroke-width="0.9"/>
<line x1="374.25" y1="188.30" x2="374.25" y2="186.40" stroke="#1a1a1a" stroke-width="0.9"/>
<line x1="374.25" y1="277.35" x2="374.25" y2="275.45" stroke="#1a1a1a" stroke-width="0.9"/>
<line x1="382.36" y1="10.00" x2="382.36" y2="13.20" stroke="#1a1a1a" stroke-width="0.9"/>
<line x1="382.36" y1="99.10" x2="382.36" y2="95.90" stroke="#1a1a1a" stroke-width="0.9"/>
<line x1="382.36" y1="188.30" x2="382.36" y2="185.10" stroke="#1a1a1a" stroke-width="0.9"/>
<line x1="382.36" y1="277.35" x2="382.36" y2="274.15" stroke="#1a1a1a" stroke-width="0.9"/>
<line x1="390.46" y1="10.00" x2="390.46" y2="11.90" stroke="#1a1a1a" stroke-width="0.9"/>
<line x1="390.46" y1="99.10" x2="390.46" y2="97.20" stroke="#1a1a1a" stroke-width="0.9"/>
<line x1="390.46" y1="188.30" x2="390.46" y2="186.40" stroke="#1a1a1a" stroke-width="0.9"/>
<line x1="390.46" y1="277.35" x2="390.46" y2="275.45" stroke="#1a1a1a" stroke-width="0.9"/>
<line x1="398.57" y1="10.00" x2="398.57" y2="13.20" stroke="#1a1a1a" stroke-width="0.9"/>
<line x1="398.57" y1="99.10" x2="398.57" y2="95.90" stroke="#1a1a1a" stroke-width="0.9"/>
<line x1="398.57" y1="188.30" x2="398.57" y2="185.10" stroke="#1a1a1a" stroke-width="0.9"/>
<line x1="398.57" y1="277.35" x2="398.57" y2="274.15" stroke="#1a1a1a" stroke-width="0.9"/>
<line x1="406.68" y1="10.00" x2="406.68" y2="11.90" stroke="#1a1a1a" stroke-width="0.9"/>
<line x1="406.68" y1="99.10" x2="406.68" y2="97.20" stroke="#1a1a1a" stroke-width="0.9"/>
<line x1="406.68" y1="188.30" x2="406.68" y2="186.40" stroke="#1a1a1a" stroke-width="0.9"/>
<line x1="406.68" y1="277.35" x2="406.68" y2="275.45" stroke="#1a1a1a" stroke-width="0.9"/>
<line x1="414.79" y1="10.00" x2="414.79" y2="13.20" stroke="#1a1a1a" stroke-width="0.9"/>
<line x1="414.79" y1="99.10" x2="414.79" y2="95.90" stroke="#1a1a1a" stroke-width="0.9"/>
<line x1="414.79" y1="188.30" x2="414.79" y2="185.10" stroke="#1a1a1a" stroke-width="0.9"/>
<line x1="414.79" y1="277.35" x2="414.79" y2="274.15" stroke="#1a1a1a" stroke-width="0.9"/>
<line x1="422.89" y1="10.00" x2="422.89" y2="11.90" stroke="#1a1a1a" stroke-width="0.9"/>
<line x1="422.89" y1="99.10" x2="422.89" y2="97.20" stroke="#1a1a1a" stroke-width="0.9"/>
<line x1="422.89" y1="188.30" x2="422.89" y2="186.40" stroke="#1a1a1a" stroke-width="0.9"/>
<line x1="422.89" y1="277.35" x2="422.89" y2="275.45" stroke="#1a1a1a" stroke-width="0.9"/>
<line x1="431.00" y1="10.00" x2="431.00" y2="13.20" stroke="#1a1a1a" stroke-width="0.9"/>
<line x1="431.00" y1="99.10" x2="431.00" y2="95.90" stroke="#1a1a1a" stroke-width="0.9"/>
<line x1="431.00" y1="188.30" x2="431.00" y2="185.10" stroke="#1a1a1a" stroke-width="0.9"/>
<line x1="431.00" y1="277.35" x2="431.00" y2="274.15" stroke="#1a1a1a" stroke-width="0.9"/>
<line x1="439.11" y1="10.00" x2="439.11" y2="11.90" stroke="#1a1a1a" stroke-width="0.9"/>
<line x1="439.11" y1="99.10" x2="439.11" y2="97.20" stroke="#1a1a1a" stroke-width="0.9"/>
<line x1="439.11" y1="188.30" x2="439.11" y2="186.40" stroke="#1a1a1a" stroke-width="0.9"/>
<line x1="439.11" y1="277.35" x2="439.11" y2="275.45" stroke="#1a1a1a" stroke-width="0.9"/>
<line x1="447.21" y1="10.00" x2="447.21" y2="13.20" stroke="#1a1a1a" stroke-width="0.9"/>
<line x1="447.21" y1="99.10" x2="447.21" y2="95.90" stroke="#1a1a1a" stroke-width="0.9"/>
<line x1="447.21" y1="188.30" x2="447.21" y2="185.10" stroke="#1a1a1a" stroke-width="0.9"/>
<line x1="447.21" y1="277.35" x2="447.21" y2="274.15" stroke="#1a1a1a" stroke-width="0.9"/>
<line x1="455.32" y1="10.00" x2="455.32" y2="11.90" stroke="#1a1a1a" stroke-width="0.9"/>
<line x1="455.32" y1="99.10" x2="455.32" y2="97.20" stroke="#1a1a1a" stroke-width="0.9"/>
<line x1="455.32" y1="188.30" x2="455.32" y2="186.40" stroke="#1a1a1a" stroke-width="0.9"/>
<line x1="455.32" y1="277.35" x2="455.32" y2="275.45" stroke="#1a1a1a" stroke-width="0.9"/>
<line x1="463.43" y1="10.00" x2="463.43" y2="13.20" stroke="#1a1a1a" stroke-width="0.9"/>
<line x1="463.43" y1="99.10" x2="463.43" y2="95.90" stroke="#1a1a1a" stroke-width="0.9"/>
<line x1="463.43" y1="188.30" x2="463.43" y2="185.10" stroke="#1a1a1a" stroke-width="0.9"/>
<line x1="463.43" y1="277.35" x2="463.43" y2="274.15" stroke="#1a1a1a" stroke-width="0.9"/>
<line x1="471.54" y1="10.00" x2="471.54" y2="11.90" stroke="#1a1a1a" stroke-width="0.9"/>
<line x1="471.54" y1="99.10" x2="471.54" y2="97.20" stroke="#1a1a1a" stroke-width="0.9"/>
<line x1="471.54" y1="188.30" x2="471.54" y2="186.40" stroke="#1a1a1a" stroke-width="0.9"/>
<line x1="471.54" y1="277.35" x2="471.54" y2="275.45" stroke="#1a1a1a" stroke-width="0.9"/>
<line x1="479.64" y1="10.00" x2="479.64" y2="13.20" stroke="#1a1a1a" stroke-width="0.9"/>
<line x1="479.64" y1="99.10" x2="479.64" y2="95.90" stroke="#1a1a1a" stroke-width="0.9"/>
<line x1="479.64" y1="188.30" x2="479.64" y2="185.10" stroke="#1a1a1a" stroke-width="0.9"/>
<line x1="479.64" y1="277.35" x2="479.64" y2="274.15" stroke="#1a1a1a" stroke-width="0.9"/>
<line x1="487.75" y1="10.00" x2="487.75" y2="11.90" stroke="#1a1a1a" stroke-width="0.9"/>
<line x1="487.75" y1="99.10" x2="487.75" y2="97.20" stroke="#1a1a1a" stroke-width="0.9"/>
<line x1="487.75" y1="188.30" x2="487.75" y2="186.40" stroke="#1a1a1a" stroke-width="0.9"/>
<line x1="487.75" y1="277.35" x2="487.75" y2="275.45" stroke="#1a1a1a" stroke-width="0.9"/>
<line x1="495.86" y1="10.00" x2="495.86" y2="13.20" stroke="#1a1a1a" stroke-width="0.9"/>
<line x1="495.86" y1="99.10" x2="495.86" y2="95.90" stroke="#1a1a1a" stroke-width="0.9"/>
<line x1="495.86" y1="188.30" x2="495.86" y2="185.10" stroke="#1a1a1a" stroke-width="0.9"/>
<line x1="495.86" y1="277.35" x2="495.86" y2="274.15" stroke="#1a1a1a" stroke-width="0.9"/>
<line x1="503.96" y1="10.00" x2="503.96" y2="11.90" stroke="#1a1a1a" stroke-width="0.9"/>
<line x1="503.96" y1="99.10" x2="503.96" y2="97.20" stroke="#1a1a1a" stroke-width="0.9"/>
<line x1="503.96" y1="188.30" x2="503.96" y2="186.40" stroke="#1a1a1a" stroke-width="0.9"/>
<line x1="503.96" y1="277.35" x2="503.96" y2="275.45" stroke="#1a1a1a" stroke-width="0.9"/>
<line x1="512.07" y1="10.00" x2="512.07" y2="13.20" stroke="#1a1a1a" stroke-width="0.9"/>
<line x1="512.07" y1="99.10" x2="512.07" y2="95.90" stroke="#1a1a1a" stroke-width="0.9"/>
<line x1="512.07" y1="188.30" x2="512.07" y2="185.10" stroke="#1a1a1a" stroke-width="0.9"/>
<line x1="512.07" y1="277.35" x2="512.07" y2="274.15" stroke="#1a1a1a" stroke-width="0.9"/>
<line x1="520.18" y1="10.00" x2="520.18" y2="11.90" stroke="#1a1a1a" stroke-width="0.9"/>
<line x1="520.18" y1="99.10" x2="520.18" y2="97.20" stroke="#1a1a1a" stroke-width="0.9"/>
<line x1="520.18" y1="188.30" x2="520.18" y2="186.40" stroke="#1a1a1a" stroke-width="0.9"/>
<line x1="520.18" y1="277.35" x2="520.18" y2="275.45" stroke="#1a1a1a" stroke-width="0.9"/>
<line x1="528.29" y1="10.00" x2="528.29" y2="13.20" stroke="#1a1a1a" stroke-width="0.9"/>
<line x1="528.29" y1="99.10" x2="528.29" y2="95.90" stroke="#1a1a1a" stroke-width="0.9"/>
<line x1="528.29" y1="188.30" x2="528.29" y2="185.10" stroke="#1a1a1a" stroke-width="0.9"/>
<line x1="528.29" y1="277.35" x2="528.29" y2="274.15" stroke="#1a1a1a" stroke-width="0.9"/>
<line x1="536.39" y1="10.00" x2="536.39" y2="11.90" stroke="#1a1a1a" stroke-width="0.9"/>
<line x1="536.39" y1="99.10" x2="536.39" y2="97.20" stroke="#1a1a1a" stroke-width="0.9"/>
<line x1="536.39" y1="188.30" x2="536.39" y2="186.40" stroke="#1a1a1a" stroke-width="0.9"/>
<line x1="536.39" y1="277.35" x2="536.39" y2="275.45" stroke="#1a1a1a" stroke-width="0.9"/>
<line x1="317.50" y1="89.50" x2="320.70" y2="89.50" stroke="#1a1a1a" stroke-width="0.9"/>
<line x1="544.50" y1="89.50" x2="541.30" y2="89.50" stroke="#1a1a1a" stroke-width="0.9"/>
<line x1="317.50" y1="73.50" x2="320.70" y2="73.50" stroke="#1a1a1a" stroke-width="0.9"/>
<line x1="544.50" y1="73.50" x2="541.30" y2="73.50" stroke="#1a1a1a" stroke-width="0.9"/>
<line x1="317.50" y1="57.50" x2="320.70" y2="57.50" stroke="#1a1a1a" stroke-width="0.9"/>
<line x1="544.50" y1="57.50" x2="541.30" y2="57.50" stroke="#1a1a1a" stroke-width="0.9"/>
<line x1="317.50" y1="41.50" x2="320.70" y2="41.50" stroke="#1a1a1a" stroke-width="0.9"/>
<line x1="544.50" y1="41.50" x2="541.30" y2="41.50" stroke="#1a1a1a" stroke-width="0.9"/>
<line x1="317.50" y1="25.50" x2="320.70" y2="25.50" stroke="#1a1a1a" stroke-width="0.9"/>
<line x1="544.50" y1="25.50" x2="541.30" y2="25.50" stroke="#1a1a1a" stroke-width="0.9"/>
<line x1="317.50" y1="97.50" x2="319.40" y2="97.50" stroke="#1a1a1a" stroke-width="0.9"/>
<line x1="544.50" y1="97.50" x2="542.60" y2="97.50" stroke="#1a1a1a" stroke-width="0.9"/>
<line x1="317.50" y1="81.50" x2="319.40" y2="81.50" stroke="#1a1a1a" stroke-width="0.9"/>
<line x1="544.50" y1="81.50" x2="542.60" y2="81.50" stroke="#1a1a1a" stroke-width="0.9"/>
<line x1="317.50" y1="65.50" x2="319.40" y2="65.50" stroke="#1a1a1a" stroke-width="0.9"/>
<line x1="544.50" y1="65.50" x2="542.60" y2="65.50" stroke="#1a1a1a" stroke-width="0.9"/>
<line x1="317.50" y1="49.50" x2="319.40" y2="49.50" stroke="#1a1a1a" stroke-width="0.9"/>
<line x1="544.50" y1="49.50" x2="542.60" y2="49.50" stroke="#1a1a1a" stroke-width="0.9"/>
<line x1="317.50" y1="33.50" x2="319.40" y2="33.50" stroke="#1a1a1a" stroke-width="0.9"/>
<line x1="544.50" y1="33.50" x2="542.60" y2="33.50" stroke="#1a1a1a" stroke-width="0.9"/>
<line x1="317.50" y1="17.50" x2="319.40" y2="17.50" stroke="#1a1a1a" stroke-width="0.9"/>
<line x1="544.50" y1="17.50" x2="542.60" y2="17.50" stroke="#1a1a1a" stroke-width="0.9"/>
<text x="313.90" y="11.70" font-family="'Liberation Sans', Arial, sans-serif" font-size="7.0" font-weight="normal" text-anchor="end" fill="#000" >3000</text>
<text x="313.90" y="27.66" font-family="'Liberation Sans', Arial, sans-serif" font-size="7.0" font-weight="normal" text-anchor="end" fill="#000" >2500</text>
<text x="313.90" y="43.62" font-family="'Liberation Sans', Arial, sans-serif" font-size="7.0" font-weight="normal" text-anchor="end" fill="#000" >2000</text>
<text x="313.90" y="59.58" font-family="'Liberation Sans', Arial, sans-serif" font-size="7.0" font-weight="normal" text-anchor="end" fill="#000" >1500</text>
<text x="313.90" y="75.54" font-family="'Liberation Sans', Arial, sans-serif" font-size="7.0" font-weight="normal" text-anchor="end" fill="#000" >1000</text>
<text x="313.90" y="91.50" font-family="'Liberation Sans', Arial, sans-serif" font-size="7.0" font-weight="normal" text-anchor="end" fill="#000" >500</text>
<line x1="415.40" y1="19.80" x2="433.30" y2="19.80" stroke="#8080ff" stroke-width="1.3"/>
<text x="435.80" y="23.00" font-family="'Liberation Sans', Arial, sans-serif" font-size="8.7" font-weight="normal" text-anchor="start" fill="#000" >LaMnO<tspan font-size="5.3" dy="3.9">3</tspan><tspan dy="-3.9">: </tspan>Pd/PVP (P14)</text>
<line x1="317.50" y1="169.50" x2="320.70" y2="169.50" stroke="#1a1a1a" stroke-width="0.9"/>
<line x1="544.50" y1="169.50" x2="541.30" y2="169.50" stroke="#1a1a1a" stroke-width="0.9"/>
<line x1="317.50" y1="146.50" x2="320.70" y2="146.50" stroke="#1a1a1a" stroke-width="0.9"/>
<line x1="544.50" y1="146.50" x2="541.30" y2="146.50" stroke="#1a1a1a" stroke-width="0.9"/>
<line x1="317.50" y1="122.50" x2="320.70" y2="122.50" stroke="#1a1a1a" stroke-width="0.9"/>
<line x1="544.50" y1="122.50" x2="541.30" y2="122.50" stroke="#1a1a1a" stroke-width="0.9"/>
<line x1="317.50" y1="181.50" x2="319.40" y2="181.50" stroke="#1a1a1a" stroke-width="0.9"/>
<line x1="544.50" y1="181.50" x2="542.60" y2="181.50" stroke="#1a1a1a" stroke-width="0.9"/>
<line x1="317.50" y1="157.50" x2="319.40" y2="157.50" stroke="#1a1a1a" stroke-width="0.9"/>
<line x1="544.50" y1="157.50" x2="542.60" y2="157.50" stroke="#1a1a1a" stroke-width="0.9"/>
<line x1="317.50" y1="134.50" x2="319.40" y2="134.50" stroke="#1a1a1a" stroke-width="0.9"/>
<line x1="544.50" y1="134.50" x2="542.60" y2="134.50" stroke="#1a1a1a" stroke-width="0.9"/>
<line x1="317.50" y1="110.50" x2="319.40" y2="110.50" stroke="#1a1a1a" stroke-width="0.9"/>
<line x1="544.50" y1="110.50" x2="542.60" y2="110.50" stroke="#1a1a1a" stroke-width="0.9"/>
<text x="313.90" y="100.90" font-family="'Liberation Sans', Arial, sans-serif" font-size="7.0" font-weight="normal" text-anchor="end" fill="#000" >2000</text>
<text x="313.90" y="124.50" font-family="'Liberation Sans', Arial, sans-serif" font-size="7.0" font-weight="normal" text-anchor="end" fill="#000" >1500</text>
<text x="313.90" y="148.10" font-family="'Liberation Sans', Arial, sans-serif" font-size="7.0" font-weight="normal" text-anchor="end" fill="#000" >1000</text>
<text x="313.90" y="171.70" font-family="'Liberation Sans', Arial, sans-serif" font-size="7.0" font-weight="normal" text-anchor="end" fill="#000" >500</text>
<line x1="494.40" y1="109.20" x2="513.70" y2="109.20" stroke="#707070" stroke-width="1.3"/>
<text x="516.00" y="111.60" font-family="'Liberation Sans', Arial, sans-serif" font-size="8.7" font-weight="normal" text-anchor="start" fill="#000" >PVP</text>
<line x1="317.50" y1="265.50" x2="320.70" y2="265.50" stroke="#1a1a1a" stroke-width="0.9"/>
<line x1="544.50" y1="265.50" x2="541.30" y2="265.50" stroke="#1a1a1a" stroke-width="0.9"/>
<line x1="317.50" y1="249.50" x2="320.70" y2="249.50" stroke="#1a1a1a" stroke-width="0.9"/>
<line x1="544.50" y1="249.50" x2="541.30" y2="249.50" stroke="#1a1a1a" stroke-width="0.9"/>
<line x1="317.50" y1="234.50" x2="320.70" y2="234.50" stroke="#1a1a1a" stroke-width="0.9"/>
<line x1="544.50" y1="234.50" x2="541.30" y2="234.50" stroke="#1a1a1a" stroke-width="0.9"/>
<line x1="317.50" y1="218.50" x2="320.70" y2="218.50" stroke="#1a1a1a" stroke-width="0.9"/>
<line x1="544.50" y1="218.50" x2="541.30" y2="218.50" stroke="#1a1a1a" stroke-width="0.9"/>
<line x1="317.50" y1="203.50" x2="320.70" y2="203.50" stroke="#1a1a1a" stroke-width="0.9"/>
<line x1="544.50" y1="203.50" x2="541.30" y2="203.50" stroke="#1a1a1a" stroke-width="0.9"/>
<line x1="317.50" y1="272.50" x2="319.40" y2="272.50" stroke="#1a1a1a" stroke-width="0.9"/>
<line x1="544.50" y1="272.50" x2="542.60" y2="272.50" stroke="#1a1a1a" stroke-width="0.9"/>
<line x1="317.50" y1="257.50" x2="319.40" y2="257.50" stroke="#1a1a1a" stroke-width="0.9"/>
<line x1="544.50" y1="257.50" x2="542.60" y2="257.50" stroke="#1a1a1a" stroke-width="0.9"/>
<line x1="317.50" y1="241.50" x2="319.40" y2="241.50" stroke="#1a1a1a" stroke-width="0.9"/>
<line x1="544.50" y1="241.50" x2="542.60" y2="241.50" stroke="#1a1a1a" stroke-width="0.9"/>
<line x1="317.50" y1="226.50" x2="319.40" y2="226.50" stroke="#1a1a1a" stroke-width="0.9"/>
<line x1="544.50" y1="226.50" x2="542.60" y2="226.50" stroke="#1a1a1a" stroke-width="0.9"/>
<line x1="317.50" y1="211.50" x2="319.40" y2="211.50" stroke="#1a1a1a" stroke-width="0.9"/>
<line x1="544.50" y1="211.50" x2="542.60" y2="211.50" stroke="#1a1a1a" stroke-width="0.9"/>
<line x1="317.50" y1="195.50" x2="319.40" y2="195.50" stroke="#1a1a1a" stroke-width="0.9"/>
<line x1="544.50" y1="195.50" x2="542.60" y2="195.50" stroke="#1a1a1a" stroke-width="0.9"/>
<text x="313.90" y="190.30" font-family="'Liberation Sans', Arial, sans-serif" font-size="7.0" font-weight="normal" text-anchor="end" fill="#000" >6000</text>
<text x="313.90" y="205.66" font-family="'Liberation Sans', Arial, sans-serif" font-size="7.0" font-weight="normal" text-anchor="end" fill="#000" >5000</text>
<text x="313.90" y="221.02" font-family="'Liberation Sans', Arial, sans-serif" font-size="7.0" font-weight="normal" text-anchor="end" fill="#000" >4000</text>
<text x="313.90" y="236.38" font-family="'Liberation Sans', Arial, sans-serif" font-size="7.0" font-weight="normal" text-anchor="end" fill="#000" >3000</text>
<text x="313.90" y="251.74" font-family="'Liberation Sans', Arial, sans-serif" font-size="7.0" font-weight="normal" text-anchor="end" fill="#000" >2000</text>
<text x="313.90" y="267.10" font-family="'Liberation Sans', Arial, sans-serif" font-size="7.0" font-weight="normal" text-anchor="end" fill="#000" >1000</text>
<line x1="466.20" y1="197.90" x2="484.40" y2="197.90" stroke="#c8c890" stroke-width="1.3"/>
<text x="487.50" y="200.60" font-family="'Liberation Sans', Arial, sans-serif" font-size="8.7" font-weight="normal" text-anchor="start" fill="#000" >LaMnO<tspan font-size="5.3" dy="3.9">3</tspan><tspan dy="-3.9">: </tspan>Pd</text>
<text x="317.50" y="286.80" font-family="'Liberation Sans', Arial, sans-serif" font-size="7.0" font-weight="normal" text-anchor="middle" fill="#000" >10</text>
<text x="333.71" y="286.80" font-family="'Liberation Sans', Arial, sans-serif" font-size="7.0" font-weight="normal" text-anchor="middle" fill="#000" >15</text>
<text x="349.93" y="286.80" font-family="'Liberation Sans', Arial, sans-serif" font-size="7.0" font-weight="normal" text-anchor="middle" fill="#000" >20</text>
<text x="366.14" y="286.80" font-family="'Liberation Sans', Arial, sans-serif" font-size="7.0" font-weight="normal" text-anchor="middle" fill="#000" >25</text>
<text x="382.36" y="286.80" font-family="'Liberation Sans', Arial, sans-serif" font-size="7.0" font-weight="normal" text-anchor="middle" fill="#000" >30</text>
<text x="398.57" y="286.80" font-family="'Liberation Sans', Arial, sans-serif" font-size="7.0" font-weight="normal" text-anchor="middle" fill="#000" >35</text>
<text x="414.79" y="286.80" font-family="'Liberation Sans', Arial, sans-serif" font-size="7.0" font-weight="normal" text-anchor="middle" fill="#000" >40</text>
<text x="431.00" y="286.80" font-family="'Liberation Sans', Arial, sans-serif" font-size="7.0" font-weight="normal" text-anchor="middle" fill="#000" >45</text>
<text x="447.21" y="286.80" font-family="'Liberation Sans', Arial, sans-serif" font-size="7.0" font-weight="normal" text-anchor="middle" fill="#000" >50</text>
<text x="463.43" y="286.80" font-family="'Liberation Sans', Arial, sans-serif" font-size="7.0" font-weight="normal" text-anchor="middle" fill="#000" >55</text>
<text x="479.64" y="286.80" font-family="'Liberation Sans', Arial, sans-serif" font-size="7.0" font-weight="normal" text-anchor="middle" fill="#000" >60</text>
<text x="495.86" y="286.80" font-family="'Liberation Sans', Arial, sans-serif" font-size="7.0" font-weight="normal" text-anchor="middle" fill="#000" >65</text>
<text x="512.07" y="286.80" font-family="'Liberation Sans', Arial, sans-serif" font-size="7.0" font-weight="normal" text-anchor="middle" fill="#000" >70</text>
<text x="528.29" y="286.80" font-family="'Liberation Sans', Arial, sans-serif" font-size="7.0" font-weight="normal" text-anchor="middle" fill="#000" >75</text>
<text x="544.50" y="286.80" font-family="'Liberation Sans', Arial, sans-serif" font-size="7.0" font-weight="normal" text-anchor="middle" fill="#000" >80</text>
<text x="431.60" y="296.50" font-family="'Liberation Sans', Arial, sans-serif" font-size="8.2" font-weight="bold" text-anchor="middle" fill="#000" >Position 2 θ (degree)</text>
<text x="294.00" y="143.70" font-family="'Liberation Sans', Arial, sans-serif" font-size="8.4" font-weight="bold" text-anchor="middle" fill="#000" transform="rotate(-90 294.00 143.70)">Intensity (a.u.)</text>
<text x="418.60" y="317.80" font-family="'Liberation Serif', 'Times New Roman', serif" font-size="12.5" font-weight="normal" text-anchor="middle" fill="#000" >(<tspan font-weight="bold">b</tspan>)</text></g></svg>
</body></html>
